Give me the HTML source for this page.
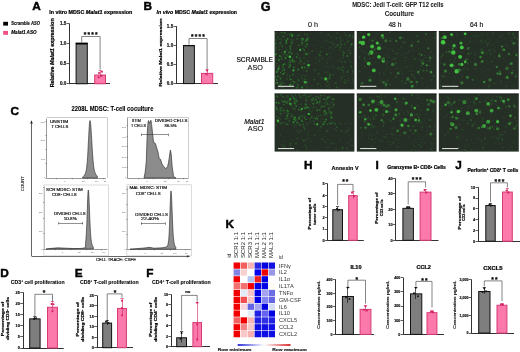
<!DOCTYPE html>
<html><head><meta charset="utf-8"><title>Figure</title>
<style>
html,body{margin:0;padding:0;background:#fff;}
body{width:520px;height:352px;overflow:hidden;}
svg{display:block;font-family:'Liberation Sans', Arial, sans-serif;}
</style></head>
<body>
<svg width="520" height="352" viewBox="0 0 520 352">
<rect width="520" height="352" fill="#fff"/>
<text x="32.20" y="10.00" font-size="11.8" stroke="#000" stroke-width="0.45" font-weight="bold">A</text>
<rect x="3.20" y="21.80" width="4.80" height="3.80" fill="#000"/>
<rect x="3.20" y="30.90" width="4.80" height="3.90" fill="#ee4d86"/>
<text x="11.30" y="25.10" font-size="4.5" stroke="#000" stroke-width="0.12" font-weight="bold" textLength="28.6" lengthAdjust="spacingAndGlyphs">Scramble <tspan font-style="italic">ASO</tspan></text>
<text x="11.30" y="34.30" font-size="4.5" stroke="#000" stroke-width="0.15" font-weight="bold" font-style="italic" textLength="25.2" lengthAdjust="spacingAndGlyphs"><tspan>Malat1</tspan> ASO</text>
<text x="49.20" y="14.30" font-size="4.9" stroke="#000" stroke-width="0.2" font-weight="bold" textLength="83" lengthAdjust="spacingAndGlyphs">In vitro MDSC <tspan font-style="italic">Malat1</tspan> expression</text>
<line x1="69.50" y1="23.45" x2="69.50" y2="84.15" stroke="#333" stroke-width="1.0"/>
<line x1="69.10" y1="83.50" x2="110.00" y2="83.50" stroke="#333" stroke-width="1.0"/>
<line x1="66.70" y1="83.50" x2="69.50" y2="83.50" stroke="#333" stroke-width="0.8"/>
<text x="66.30" y="85.41" font-size="4.6" stroke="#111" stroke-width="0.18" text-anchor="end" font-weight="bold" fill="#111">0.0</text>
<line x1="66.70" y1="63.50" x2="69.50" y2="63.50" stroke="#333" stroke-width="0.8"/>
<text x="66.30" y="65.31" font-size="4.6" stroke="#111" stroke-width="0.18" text-anchor="end" font-weight="bold" fill="#111">0.5</text>
<line x1="66.70" y1="43.50" x2="69.50" y2="43.50" stroke="#333" stroke-width="0.8"/>
<text x="66.30" y="45.21" font-size="4.6" stroke="#111" stroke-width="0.18" text-anchor="end" font-weight="bold" fill="#111">1.0</text>
<line x1="66.70" y1="23.50" x2="69.50" y2="23.50" stroke="#333" stroke-width="0.8"/>
<text x="66.30" y="25.11" font-size="4.6" stroke="#111" stroke-width="0.18" text-anchor="end" font-weight="bold" fill="#111">1.5</text>
<rect x="76.10" y="44.05" width="11.20" height="39.70" fill="#7e7e7e" stroke="#111" stroke-width="1.0"/>
<rect x="94.70" y="75.00" width="10.80" height="8.75" fill="#fb79ab" stroke="#d63b74" stroke-width="1.0"/>
<line x1="100.50" y1="70.89" x2="100.50" y2="77.72" stroke="#d63b74" stroke-width="0.7"/>
<line x1="98.50" y1="70.50" x2="101.70" y2="70.50" stroke="#d63b74" stroke-width="0.7"/>
<circle cx="99.00" cy="72.90" r="1.0" fill="#d81b60"/>
<circle cx="101.50" cy="75.71" r="1.0" fill="#d81b60"/>
<circle cx="98.50" cy="77.32" r="1.0" fill="#d81b60"/>
<circle cx="102.00" cy="71.69" r="1.0" fill="#d81b60"/>
<polyline points="81.70,42.50 81.70,36.50 100.10,36.50 100.10,69.50" fill="none" stroke="#333" stroke-width="0.6"/>
<text x="91.28" y="36.56" font-size="6.6" stroke="#000" stroke-width="0.2" text-anchor="middle" font-weight="bold" letter-spacing="1.15">****</text>
<rect x="75.60" y="42.60" width="12.20" height="1.50" fill="#000"/>
<rect x="183.00" y="45.00" width="11.90" height="1.00" fill="#000"/>
<circle cx="185.5" cy="45.6" r="0.9" fill="#000"/>
<circle cx="188.8" cy="45.6" r="0.9" fill="#000"/>
<circle cx="192.2" cy="45.6" r="0.9" fill="#000"/>
<text x="54.00" y="52.80" font-size="4.6" stroke="#000" stroke-width="0.2" text-anchor="middle" font-weight="bold" transform="rotate(-90 54.00 52.80)" textLength="69" lengthAdjust="spacingAndGlyphs">Relative <tspan font-style="italic">Malat1</tspan> expression</text>
<text x="143.40" y="10.00" font-size="11.8" stroke="#000" stroke-width="0.45" font-weight="bold">B</text>
<text x="156.60" y="13.60" font-size="4.9" stroke="#000" stroke-width="0.2" font-weight="bold" textLength="80.5" lengthAdjust="spacingAndGlyphs"><tspan font-style="italic">In vivo</tspan> MDSC <tspan font-style="italic">Malat1</tspan> expression</text>
<line x1="176.50" y1="26.15" x2="176.50" y2="84.00" stroke="#333" stroke-width="1.0"/>
<line x1="176.00" y1="83.50" x2="218.00" y2="83.50" stroke="#333" stroke-width="1.0"/>
<line x1="173.60" y1="83.50" x2="176.40" y2="83.50" stroke="#333" stroke-width="0.8"/>
<text x="173.20" y="85.26" font-size="4.6" stroke="#111" stroke-width="0.18" text-anchor="end" font-weight="bold" fill="#111">0.0</text>
<line x1="173.60" y1="64.50" x2="176.40" y2="64.50" stroke="#333" stroke-width="0.8"/>
<text x="173.20" y="66.11" font-size="4.6" stroke="#111" stroke-width="0.18" text-anchor="end" font-weight="bold" fill="#111">0.5</text>
<line x1="173.60" y1="45.50" x2="176.40" y2="45.50" stroke="#333" stroke-width="0.8"/>
<text x="173.20" y="46.96" font-size="4.6" stroke="#111" stroke-width="0.18" text-anchor="end" font-weight="bold" fill="#111">1.0</text>
<line x1="173.60" y1="26.50" x2="176.40" y2="26.50" stroke="#333" stroke-width="0.8"/>
<text x="173.20" y="27.81" font-size="4.6" stroke="#111" stroke-width="0.18" text-anchor="end" font-weight="bold" fill="#111">1.5</text>
<rect x="183.50" y="45.80" width="10.90" height="37.80" fill="#7e7e7e" stroke="#111" stroke-width="1.0"/>
<rect x="201.50" y="73.38" width="11.20" height="10.22" fill="#fb79ab" stroke="#d63b74" stroke-width="1.0"/>
<line x1="207.50" y1="69.81" x2="207.50" y2="75.94" stroke="#d63b74" stroke-width="0.7"/>
<line x1="205.50" y1="69.50" x2="208.70" y2="69.50" stroke="#d63b74" stroke-width="0.7"/>
<circle cx="207.00" cy="70.58" r="1.0" fill="#d81b60"/>
<circle cx="206.00" cy="74.02" r="1.0" fill="#d81b60"/>
<polyline points="189.00,44.50 189.00,38.50 207.10,38.50 207.10,69.00" fill="none" stroke="#333" stroke-width="0.6"/>
<text x="198.47" y="38.86" font-size="6.6" stroke="#000" stroke-width="0.2" text-anchor="middle" font-weight="bold" letter-spacing="1.15">****</text>
<text x="161.80" y="52.50" font-size="4.1" stroke="#000" stroke-width="0.2" text-anchor="middle" font-weight="bold" transform="rotate(-90 161.80 52.50)" textLength="68" lengthAdjust="spacingAndGlyphs">Relative Malat1 expression</text>
<text x="10.40" y="115.20" font-size="11.8" stroke="#000" stroke-width="0.45" font-weight="bold">C</text>
<text x="71.60" y="111.00" font-size="6.7" stroke="#000" stroke-width="0.1" font-weight="bold" textLength="81.8" lengthAdjust="spacingAndGlyphs">2208L MDSC: T-cell coculture</text>
<line x1="31.50" y1="256.00" x2="31.50" y2="123.00" stroke="#222" stroke-width="0.7"/>
<polygon points="31.5,120.2 30.2,123.6 32.8,123.6" fill="#222"/>
<text x="24.30" y="183.60" font-size="4.2" stroke="#111" stroke-width="0.1" text-anchor="middle" fill="#111" transform="rotate(-90 24.30 183.60)" textLength="14.6" lengthAdjust="spacingAndGlyphs">COUNT</text>
<line x1="31.50" y1="256.50" x2="187.50" y2="256.50" stroke="#222" stroke-width="0.7"/>
<polygon points="190.3,256.2 186.9,254.9 186.9,257.5" fill="#222"/>
<text x="96.00" y="261.40" font-size="4.2" stroke="#000" stroke-width="0.14" textLength="40" lengthAdjust="spacingAndGlyphs">CELL TRACE: CSFE</text>
<line x1="46.50" y1="118.70" x2="46.50" y2="178.00" stroke="#555" stroke-width="0.6"/>
<line x1="46.60" y1="178.50" x2="106.00" y2="178.50" stroke="#555" stroke-width="0.6"/>
<line x1="45.40" y1="178.50" x2="46.60" y2="178.50" stroke="#555" stroke-width="0.5"/>
<line x1="45.40" y1="163.50" x2="46.60" y2="163.50" stroke="#555" stroke-width="0.5"/>
<line x1="45.40" y1="149.50" x2="46.60" y2="149.50" stroke="#555" stroke-width="0.5"/>
<line x1="45.40" y1="135.50" x2="46.60" y2="135.50" stroke="#555" stroke-width="0.5"/>
<line x1="45.40" y1="121.50" x2="46.60" y2="121.50" stroke="#555" stroke-width="0.5"/>
<line x1="56.50" y1="178.00" x2="56.50" y2="179.20" stroke="#555" stroke-width="0.5"/>
<line x1="72.50" y1="178.00" x2="72.50" y2="179.20" stroke="#555" stroke-width="0.5"/>
<line x1="87.50" y1="178.00" x2="87.50" y2="179.20" stroke="#555" stroke-width="0.5"/>
<line x1="103.50" y1="178.00" x2="103.50" y2="179.20" stroke="#555" stroke-width="0.5"/>
<line x1="46.60" y1="117.50" x2="107.00" y2="117.50" stroke="#999" stroke-width="0.5"/>
<line x1="107.50" y1="117.50" x2="107.50" y2="178.00" stroke="#999" stroke-width="0.5"/>
<path d="M82.65,178.00 L82.65,177.00 L82.89,176.83 L83.14,176.63 L83.39,176.41 L83.63,176.16 L83.88,175.89 L84.12,175.58 L84.36,175.23 L84.61,174.85 L84.86,174.42 L85.10,173.92 L85.34,173.35 L85.59,172.67 L85.83,171.85 L86.08,170.84 L86.33,169.60 L86.57,168.04 L86.81,166.10 L87.06,163.72 L87.31,160.84 L87.55,157.42 L87.80,153.48 L88.04,149.08 L88.28,144.33 L88.53,139.41 L88.78,134.56 L89.02,130.05 L89.27,126.15 L89.51,123.15 L89.75,121.25 L90.00,120.60 L90.25,121.09 L90.49,122.54 L90.73,124.86 L90.98,127.92 L91.22,131.56 L91.47,135.59 L91.72,139.84 L91.96,144.11 L92.20,148.27 L92.45,152.18 L92.69,155.77 L92.94,158.97 L93.19,161.77 L93.43,164.17 L93.67,166.20 L93.92,167.89 L94.17,169.29 L94.41,170.44 L94.66,171.40 L94.90,172.19 L95.14,172.86 L95.39,173.43 L95.64,173.92 L95.88,174.36 L96.12,174.74 L96.37,175.09 L96.61,175.40 L96.86,175.69 L97.11,175.95 L97.35,176.19 L97.35,178.00 Z" fill="#8c8c8c" stroke="#222" stroke-width="0.6"/>
<text x="49.90" y="122.60" font-size="3.9" stroke="#000" stroke-width="0.14" textLength="18.4" lengthAdjust="spacingAndGlyphs">UNSTIM</text>
<text x="51.40" y="127.90" font-size="3.9" stroke="#000" stroke-width="0.14" textLength="17" lengthAdjust="spacingAndGlyphs">T CELLS</text>
<line x1="127.50" y1="117.50" x2="127.50" y2="178.00" stroke="#555" stroke-width="0.6"/>
<line x1="127.80" y1="117.50" x2="188.50" y2="117.50" stroke="#999" stroke-width="0.5"/>
<line x1="188.50" y1="117.50" x2="188.50" y2="178.00" stroke="#999" stroke-width="0.5"/>
<line x1="127.80" y1="178.50" x2="188.50" y2="178.50" stroke="#555" stroke-width="0.6"/>
<line x1="126.60" y1="178.50" x2="127.80" y2="178.50" stroke="#555" stroke-width="0.5"/>
<line x1="126.60" y1="167.50" x2="127.80" y2="167.50" stroke="#555" stroke-width="0.5"/>
<line x1="126.60" y1="157.50" x2="127.80" y2="157.50" stroke="#555" stroke-width="0.5"/>
<line x1="126.60" y1="146.50" x2="127.80" y2="146.50" stroke="#555" stroke-width="0.5"/>
<line x1="126.60" y1="136.50" x2="127.80" y2="136.50" stroke="#555" stroke-width="0.5"/>
<line x1="126.60" y1="125.50" x2="127.80" y2="125.50" stroke="#555" stroke-width="0.5"/>
<line x1="138.50" y1="178.00" x2="138.50" y2="179.20" stroke="#555" stroke-width="0.5"/>
<line x1="153.50" y1="178.00" x2="153.50" y2="179.20" stroke="#555" stroke-width="0.5"/>
<line x1="168.50" y1="178.00" x2="168.50" y2="179.20" stroke="#555" stroke-width="0.5"/>
<line x1="183.50" y1="178.00" x2="183.50" y2="179.20" stroke="#555" stroke-width="0.5"/>
<path d="M144.00,178.00 L144.00,178.00 L145.20,172.00 L146.30,161.00 L147.20,133.50 L148.00,122.50 L148.50,120.50 L149.60,123.30 L150.90,120.20 L151.60,124.50 L152.40,131.60 L153.20,139.00 L153.70,142.70 L154.60,142.80 L155.50,143.60 L156.50,147.30 L158.00,152.00 L159.20,158.40 L160.50,159.30 L162.00,164.00 L163.90,166.70 L165.70,168.60 L167.50,166.70 L168.30,163.50 L169.00,159.30 L169.80,153.50 L170.40,150.10 L171.20,153.80 L172.20,166.70 L173.50,176.00 L175.00,177.80 L176.00,178.00 L176.00,178.00 Z" fill="#8c8c8c" stroke="#222" stroke-width="0.6"/>
<line x1="141.40" y1="134.50" x2="168.20" y2="134.50" stroke="#222" stroke-width="0.5"/>
<line x1="141.50" y1="133.60" x2="141.50" y2="136.20" stroke="#222" stroke-width="0.5"/>
<line x1="168.50" y1="133.60" x2="168.50" y2="136.20" stroke="#222" stroke-width="0.5"/>
<text x="131.80" y="121.60" font-size="3.9" stroke="#000" stroke-width="0.14" textLength="9" lengthAdjust="spacingAndGlyphs">STIM</text>
<text x="131.00" y="127.40" font-size="3.9" stroke="#000" stroke-width="0.14" textLength="15" lengthAdjust="spacingAndGlyphs">T CELLS</text>
<text x="154.70" y="121.60" font-size="3.9" stroke="#000" stroke-width="0.14" textLength="32.8" lengthAdjust="spacingAndGlyphs">DIVIDED CELLS</text>
<text x="164.60" y="127.40" font-size="3.9" stroke="#000" stroke-width="0.14" textLength="12" lengthAdjust="spacingAndGlyphs">86.5%</text>
<rect x="43.90" y="185.00" width="64.60" height="70.80" fill="none" stroke="#c4c4c4" stroke-width="0.6"/>
<line x1="44.50" y1="186.50" x2="44.50" y2="249.00" stroke="#999" stroke-width="0.6"/>
<line x1="44.20" y1="249.50" x2="107.50" y2="249.50" stroke="#555" stroke-width="0.6"/>
<line x1="43.00" y1="249.50" x2="44.20" y2="249.50" stroke="#555" stroke-width="0.5"/>
<line x1="43.00" y1="233.50" x2="44.20" y2="233.50" stroke="#555" stroke-width="0.5"/>
<line x1="43.00" y1="218.50" x2="44.20" y2="218.50" stroke="#555" stroke-width="0.5"/>
<line x1="43.00" y1="202.50" x2="44.20" y2="202.50" stroke="#555" stroke-width="0.5"/>
<line x1="43.00" y1="187.50" x2="44.20" y2="187.50" stroke="#555" stroke-width="0.5"/>
<line x1="55.50" y1="249.00" x2="55.50" y2="250.20" stroke="#555" stroke-width="0.5"/>
<line x1="70.50" y1="249.00" x2="70.50" y2="250.20" stroke="#555" stroke-width="0.5"/>
<line x1="86.50" y1="249.00" x2="86.50" y2="250.20" stroke="#555" stroke-width="0.5"/>
<line x1="101.50" y1="249.00" x2="101.50" y2="250.20" stroke="#555" stroke-width="0.5"/>
<path d="M46.00,249.00 L46.00,249.00 L52.00,248.30 L58.00,247.80 L66.00,248.20 L74.00,248.60 L82.00,248.40 L85.50,247.50 L85.61,241.65 L85.78,240.36 L85.95,238.76 L86.12,236.77 L86.28,234.32 L86.45,231.36 L86.62,227.85 L86.79,223.80 L86.96,219.27 L87.12,214.39 L87.29,209.33 L87.46,204.35 L87.63,199.71 L87.80,195.71 L87.96,192.62 L88.13,190.67 L88.30,190.00 L88.47,190.51 L88.64,191.99 L88.80,194.38 L88.97,197.52 L89.14,201.27 L89.31,205.41 L89.48,209.77 L89.64,214.17 L89.81,218.44 L89.98,222.47 L90.15,226.15 L90.32,229.44 L90.48,232.32 L90.65,234.79 L90.82,236.87 L90.99,238.61 L91.16,240.04 L91.32,241.23 L91.49,242.21 L91.66,243.03 L91.83,243.72 L92.00,244.30 L92.16,244.81 L92.33,245.25 L92.50,245.65 L92.67,246.01 L92.84,246.33 L93.00,246.62 L93.17,246.89 L93.34,247.14 L93.34,249.00 Z" fill="#8c8c8c" stroke="#222" stroke-width="0.6"/>
<text x="46.00" y="191.00" font-size="3.9" stroke="#000" stroke-width="0.14" textLength="36.7" lengthAdjust="spacingAndGlyphs">SCR MDSC:  STIM</text>
<text x="51.90" y="196.20" font-size="3.9" stroke="#000" stroke-width="0.14" textLength="24.8" lengthAdjust="spacingAndGlyphs">CD8<tspan font-size="2.2" dy="-1.4">+</tspan><tspan dy="1.4"> CELLS</tspan></text>
<text x="53.90" y="214.80" font-size="3.9" stroke="#000" stroke-width="0.14" textLength="31.8" lengthAdjust="spacingAndGlyphs">DIVIDED CELLS</text>
<text x="63.80" y="220.10" font-size="3.9" stroke="#000" stroke-width="0.14" textLength="12.9" lengthAdjust="spacingAndGlyphs">10.8%</text>
<line x1="58.80" y1="223.50" x2="82.70" y2="223.50" stroke="#222" stroke-width="0.5"/>
<line x1="58.50" y1="221.90" x2="58.50" y2="224.50" stroke="#222" stroke-width="0.5"/>
<line x1="82.50" y1="221.90" x2="82.50" y2="224.50" stroke="#222" stroke-width="0.5"/>
<rect x="126.90" y="184.80" width="64.70" height="71.00" fill="none" stroke="#c4c4c4" stroke-width="0.6"/>
<line x1="127.50" y1="186.50" x2="127.50" y2="249.20" stroke="#999" stroke-width="0.6"/>
<line x1="127.30" y1="249.50" x2="191.00" y2="249.50" stroke="#555" stroke-width="0.6"/>
<line x1="126.10" y1="249.50" x2="127.30" y2="249.50" stroke="#555" stroke-width="0.5"/>
<line x1="126.10" y1="234.50" x2="127.30" y2="234.50" stroke="#555" stroke-width="0.5"/>
<line x1="126.10" y1="219.50" x2="127.30" y2="219.50" stroke="#555" stroke-width="0.5"/>
<line x1="126.10" y1="204.50" x2="127.30" y2="204.50" stroke="#555" stroke-width="0.5"/>
<line x1="126.10" y1="189.50" x2="127.30" y2="189.50" stroke="#555" stroke-width="0.5"/>
<line x1="139.50" y1="249.20" x2="139.50" y2="250.40" stroke="#555" stroke-width="0.5"/>
<line x1="154.50" y1="249.20" x2="154.50" y2="250.40" stroke="#555" stroke-width="0.5"/>
<line x1="170.50" y1="249.20" x2="170.50" y2="250.40" stroke="#555" stroke-width="0.5"/>
<line x1="185.50" y1="249.20" x2="185.50" y2="250.40" stroke="#555" stroke-width="0.5"/>
<path d="M130.00,249.20 L130.00,249.20 L136.00,248.70 L142.00,248.20 L146.00,247.80 L149.00,247.30 L151.00,247.60 L154.00,248.20 L158.00,248.00 L162.00,247.80 L165.00,247.40 L167.50,246.20 L167.62,245.56 L167.78,245.06 L167.94,244.48 L168.10,243.79 L168.26,242.95 L168.42,241.93 L168.59,240.66 L168.75,239.08 L168.91,237.12 L169.07,234.70 L169.23,231.77 L169.39,228.30 L169.55,224.30 L169.71,219.82 L169.87,215.00 L170.03,210.00 L170.19,205.08 L170.36,200.49 L170.52,196.54 L170.68,193.49 L170.84,191.56 L171.00,190.90 L171.16,191.40 L171.32,192.87 L171.48,195.23 L171.64,198.34 L171.81,202.03 L171.97,206.13 L172.13,210.44 L172.29,214.78 L172.45,219.00 L172.61,222.98 L172.77,226.62 L172.93,229.87 L173.09,232.72 L173.25,235.15 L173.41,237.21 L173.58,238.93 L173.74,240.35 L173.90,241.52 L174.06,242.49 L174.22,243.30 L174.38,243.98 L174.54,244.56 L174.70,245.06 L174.86,245.50 L175.03,245.89 L175.19,246.24 L175.35,246.56 L175.51,246.85 L175.67,247.12 L175.83,247.36 L175.83,249.20 Z" fill="#8c8c8c" stroke="#222" stroke-width="0.6"/>
<text x="129.40" y="189.20" font-size="3.9" stroke="#000" stroke-width="0.14" textLength="37.6" lengthAdjust="spacingAndGlyphs">MAL MDSC: STIM</text>
<text x="135.80" y="194.80" font-size="3.9" stroke="#000" stroke-width="0.14" textLength="24.8" lengthAdjust="spacingAndGlyphs">CD8<tspan font-size="2.2" dy="-1.4">+</tspan><tspan dy="1.4"> CELLS</tspan></text>
<text x="135.30" y="215.50" font-size="3.9" stroke="#000" stroke-width="0.14" textLength="32.5" lengthAdjust="spacingAndGlyphs">DIVIDED CELLS</text>
<text x="141.00" y="220.40" font-size="3.9" stroke="#000" stroke-width="0.14" textLength="18" lengthAdjust="spacingAndGlyphs">22.40%</text>
<line x1="141.00" y1="223.50" x2="165.00" y2="223.50" stroke="#222" stroke-width="0.5"/>
<line x1="141.50" y1="222.30" x2="141.50" y2="224.90" stroke="#222" stroke-width="0.5"/>
<line x1="165.50" y1="222.30" x2="165.50" y2="224.90" stroke="#222" stroke-width="0.5"/>
<text x="45.20" y="122.60" font-size="2.2" text-anchor="end" fill="#555">3.0K</text>
<text x="45.20" y="141.00" font-size="2.2" text-anchor="end" fill="#555">2.0K</text>
<text x="45.20" y="159.70" font-size="2.2" text-anchor="end" fill="#555">1.0K</text>
<text x="45.20" y="178.20" font-size="2.2" text-anchor="end" fill="#555">0</text>
<text x="126.30" y="127.50" font-size="2.2" text-anchor="end" fill="#555">5.0K</text>
<text x="126.30" y="137.50" font-size="2.2" text-anchor="end" fill="#555">4.0K</text>
<text x="126.30" y="147.40" font-size="2.2" text-anchor="end" fill="#555">3.0K</text>
<text x="126.30" y="157.90" font-size="2.2" text-anchor="end" fill="#555">2.0K</text>
<text x="126.30" y="168.30" font-size="2.2" text-anchor="end" fill="#555">1.0K</text>
<text x="126.30" y="177.80" font-size="2.2" text-anchor="end" fill="#555">0</text>
<text x="42.60" y="193.60" font-size="2.2" text-anchor="end" fill="#555">300</text>
<text x="125.60" y="193.60" font-size="2.2" text-anchor="end" fill="#555">300</text>
<text x="42.60" y="212.80" font-size="2.2" text-anchor="end" fill="#555">200</text>
<text x="125.60" y="212.80" font-size="2.2" text-anchor="end" fill="#555">200</text>
<text x="42.60" y="232.00" font-size="2.2" text-anchor="end" fill="#555">100</text>
<text x="125.60" y="232.00" font-size="2.2" text-anchor="end" fill="#555">100</text>
<text x="42.60" y="249.60" font-size="2.2" text-anchor="end" fill="#555">0</text>
<text x="125.60" y="249.60" font-size="2.2" text-anchor="end" fill="#555">0</text>
<text x="64.90" y="182.40" font-size="2.2" text-anchor="middle" fill="#555">0</text>
<text x="83.30" y="182.40" font-size="2.2" text-anchor="middle" fill="#555">10³</text>
<text x="96.80" y="182.40" font-size="2.2" text-anchor="middle" fill="#555">10⁴</text>
<text x="105.30" y="182.40" font-size="2.2" text-anchor="middle" fill="#555">10⁵</text>
<text x="146.90" y="182.40" font-size="2.2" text-anchor="middle" fill="#555">0</text>
<text x="165.30" y="182.40" font-size="2.2" text-anchor="middle" fill="#555">10³</text>
<text x="178.80" y="182.40" font-size="2.2" text-anchor="middle" fill="#555">10⁴</text>
<text x="187.30" y="182.40" font-size="2.2" text-anchor="middle" fill="#555">10⁵</text>
<text x="62.50" y="253.40" font-size="2.2" text-anchor="middle" fill="#555">0</text>
<text x="79.50" y="253.40" font-size="2.2" text-anchor="middle" fill="#555">10³</text>
<text x="92.50" y="253.40" font-size="2.2" text-anchor="middle" fill="#555">10⁴</text>
<text x="104.00" y="253.40" font-size="2.2" text-anchor="middle" fill="#555">10⁵</text>
<text x="145.00" y="253.60" font-size="2.2" text-anchor="middle" fill="#555">0</text>
<text x="162.00" y="253.60" font-size="2.2" text-anchor="middle" fill="#555">10³</text>
<text x="175.00" y="253.60" font-size="2.2" text-anchor="middle" fill="#555">10⁴</text>
<text x="186.50" y="253.60" font-size="2.2" text-anchor="middle" fill="#555">10⁵</text>
<text x="0.20" y="277.00" font-size="11.8" stroke="#000" stroke-width="0.45" font-weight="bold">D</text>
<text x="10.80" y="284.00" font-size="5.0" stroke="#000" stroke-width="0.06" font-weight="bold" textLength="53.8" lengthAdjust="spacingAndGlyphs">CD3<tspan font-size="3" dy="-1.8">+</tspan><tspan dy="1.8"> cell proliferation</tspan></text>
<line x1="23.50" y1="292.30" x2="23.50" y2="348.40" stroke="#333" stroke-width="1.0"/>
<line x1="22.60" y1="348.50" x2="63.80" y2="348.50" stroke="#333" stroke-width="1.0"/>
<line x1="20.20" y1="348.50" x2="23.00" y2="348.50" stroke="#333" stroke-width="0.8"/>
<text x="19.80" y="349.40" font-size="3.9" stroke="#111" stroke-width="0.18" text-anchor="end" font-weight="bold" fill="#111">0</text>
<line x1="20.20" y1="336.50" x2="23.00" y2="336.50" stroke="#333" stroke-width="0.8"/>
<text x="19.80" y="338.26" font-size="3.9" stroke="#111" stroke-width="0.18" text-anchor="end" font-weight="bold" fill="#111">5</text>
<line x1="20.20" y1="325.50" x2="23.00" y2="325.50" stroke="#333" stroke-width="0.8"/>
<text x="19.80" y="327.12" font-size="3.9" stroke="#111" stroke-width="0.18" text-anchor="end" font-weight="bold" fill="#111">10</text>
<line x1="20.20" y1="314.50" x2="23.00" y2="314.50" stroke="#333" stroke-width="0.8"/>
<text x="19.80" y="315.98" font-size="3.9" stroke="#111" stroke-width="0.18" text-anchor="end" font-weight="bold" fill="#111">15</text>
<line x1="20.20" y1="303.50" x2="23.00" y2="303.50" stroke="#333" stroke-width="0.8"/>
<text x="19.80" y="304.84" font-size="3.9" stroke="#111" stroke-width="0.18" text-anchor="end" font-weight="bold" fill="#111">20</text>
<line x1="20.20" y1="292.50" x2="23.00" y2="292.50" stroke="#333" stroke-width="0.8"/>
<text x="19.80" y="293.70" font-size="3.9" stroke="#111" stroke-width="0.18" text-anchor="end" font-weight="bold" fill="#111">25</text>
<rect x="29.70" y="318.87" width="10.40" height="29.13" fill="#7e7e7e" stroke="#111" stroke-width="1.0"/>
<rect x="47.50" y="307.28" width="9.90" height="40.72" fill="#fb79ab" stroke="#d63b74" stroke-width="1.0"/>
<line x1="34.50" y1="316.59" x2="34.50" y2="319.93" stroke="#111" stroke-width="0.7"/>
<line x1="33.30" y1="316.50" x2="36.50" y2="316.50" stroke="#111" stroke-width="0.7"/>
<line x1="52.50" y1="301.66" x2="52.50" y2="312.13" stroke="#d63b74" stroke-width="0.7"/>
<line x1="50.90" y1="301.50" x2="54.10" y2="301.50" stroke="#d63b74" stroke-width="0.7"/>
<circle cx="34.00" cy="318.81" r="1.0" fill="#111"/>
<circle cx="36.00" cy="318.14" r="1.0" fill="#111"/>
<circle cx="51.50" cy="303.89" r="1.0" fill="#d81b60"/>
<circle cx="53.50" cy="304.33" r="1.0" fill="#d81b60"/>
<circle cx="52.50" cy="311.24" r="1.0" fill="#d81b60"/>
<polyline points="34.90,316.00 34.90,294.30 52.50,294.30 52.50,301.50" fill="none" stroke="#333" stroke-width="0.6"/>
<text x="44.58" y="294.86" font-size="6.6" stroke="#000" stroke-width="0.2" text-anchor="middle" font-weight="bold" letter-spacing="1.15">*</text>
<text x="4.10" y="319.00" font-size="4.0" stroke="#000" stroke-width="0.2" text-anchor="middle" font-weight="bold" transform="rotate(-90 4.10 319.00)" textLength="34.3" lengthAdjust="spacingAndGlyphs">Percentage of</text>
<text x="9.30" y="318.60" font-size="4.0" stroke="#000" stroke-width="0.2" text-anchor="middle" font-weight="bold" transform="rotate(-90 9.30 318.60)" textLength="42.8" lengthAdjust="spacingAndGlyphs">dividing CD3<tspan font-size="2.5" dy="-1.5">+</tspan><tspan dy="1.5"> cells</tspan></text>
<text x="74.80" y="276.80" font-size="11.8" stroke="#000" stroke-width="0.45" font-weight="bold">E</text>
<text x="80.00" y="284.00" font-size="5.0" stroke="#000" stroke-width="0.06" font-weight="bold" textLength="58.6" lengthAdjust="spacingAndGlyphs">CD8<tspan font-size="3" dy="-1.8">+</tspan><tspan dy="1.8"> T-cell proliferation</tspan></text>
<line x1="97.50" y1="295.40" x2="97.50" y2="348.10" stroke="#333" stroke-width="1.0"/>
<line x1="96.60" y1="347.50" x2="133.00" y2="347.50" stroke="#333" stroke-width="1.0"/>
<line x1="94.20" y1="347.50" x2="97.00" y2="347.50" stroke="#333" stroke-width="0.8"/>
<text x="93.80" y="349.10" font-size="3.9" stroke="#111" stroke-width="0.18" text-anchor="end" font-weight="bold" fill="#111">0</text>
<line x1="94.20" y1="337.50" x2="97.00" y2="337.50" stroke="#333" stroke-width="0.8"/>
<text x="93.80" y="338.64" font-size="3.9" stroke="#111" stroke-width="0.18" text-anchor="end" font-weight="bold" fill="#111">5</text>
<line x1="94.20" y1="326.50" x2="97.00" y2="326.50" stroke="#333" stroke-width="0.8"/>
<text x="93.80" y="328.18" font-size="3.9" stroke="#111" stroke-width="0.18" text-anchor="end" font-weight="bold" fill="#111">10</text>
<line x1="94.20" y1="316.50" x2="97.00" y2="316.50" stroke="#333" stroke-width="0.8"/>
<text x="93.80" y="317.72" font-size="3.9" stroke="#111" stroke-width="0.18" text-anchor="end" font-weight="bold" fill="#111">15</text>
<line x1="94.20" y1="305.50" x2="97.00" y2="305.50" stroke="#333" stroke-width="0.8"/>
<text x="93.80" y="307.26" font-size="3.9" stroke="#111" stroke-width="0.18" text-anchor="end" font-weight="bold" fill="#111">20</text>
<line x1="94.20" y1="295.50" x2="97.00" y2="295.50" stroke="#333" stroke-width="0.8"/>
<text x="93.80" y="296.80" font-size="3.9" stroke="#111" stroke-width="0.18" text-anchor="end" font-weight="bold" fill="#111">25</text>
<rect x="102.70" y="323.10" width="8.90" height="24.60" fill="#7e7e7e" stroke="#111" stroke-width="1.0"/>
<rect x="117.50" y="308.45" width="8.90" height="39.25" fill="#fb79ab" stroke="#d63b74" stroke-width="1.0"/>
<line x1="107.50" y1="320.09" x2="107.50" y2="325.11" stroke="#111" stroke-width="0.7"/>
<line x1="105.60" y1="320.50" x2="108.80" y2="320.50" stroke="#111" stroke-width="0.7"/>
<line x1="122.50" y1="298.54" x2="122.50" y2="316.11" stroke="#d63b74" stroke-width="0.7"/>
<line x1="120.40" y1="298.50" x2="123.60" y2="298.50" stroke="#d63b74" stroke-width="0.7"/>
<circle cx="106.00" cy="321.76" r="1.0" fill="#111"/>
<circle cx="108.50" cy="323.01" r="1.0" fill="#111"/>
<circle cx="122.00" cy="300.63" r="1.0" fill="#d81b60"/>
<circle cx="122.00" cy="307.95" r="1.0" fill="#d81b60"/>
<circle cx="122.00" cy="315.27" r="1.0" fill="#d81b60"/>
<polyline points="107.20,320.50 107.20,293.90 122.00,293.90 122.00,297.50" fill="none" stroke="#333" stroke-width="0.6"/>
<text x="115.58" y="294.66" font-size="6.6" stroke="#000" stroke-width="0.2" text-anchor="middle" font-weight="bold" letter-spacing="1.15">*</text>
<text x="79.40" y="319.30" font-size="4.0" stroke="#000" stroke-width="0.2" text-anchor="middle" font-weight="bold" transform="rotate(-90 79.40 319.30)" textLength="34.3" lengthAdjust="spacingAndGlyphs">Percentage of</text>
<text x="84.10" y="319.30" font-size="4.0" stroke="#000" stroke-width="0.2" text-anchor="middle" font-weight="bold" transform="rotate(-90 84.10 319.30)" textLength="44.7" lengthAdjust="spacingAndGlyphs">dividing CD8<tspan font-size="2.5" dy="-1.5">+</tspan><tspan dy="1.5"> cells</tspan></text>
<text x="146.20" y="276.80" font-size="11.8" stroke="#000" stroke-width="0.45" font-weight="bold">F</text>
<text x="152.10" y="283.80" font-size="5.0" stroke="#000" stroke-width="0.06" font-weight="bold" textLength="58.6" lengthAdjust="spacingAndGlyphs">CD4<tspan font-size="3" dy="-1.8">+</tspan><tspan dy="1.8"> T-cell proliferation</tspan></text>
<line x1="171.50" y1="294.30" x2="171.50" y2="347.10" stroke="#333" stroke-width="1.0"/>
<line x1="170.70" y1="346.50" x2="210.00" y2="346.50" stroke="#333" stroke-width="1.0"/>
<line x1="168.30" y1="346.50" x2="171.10" y2="346.50" stroke="#333" stroke-width="0.8"/>
<text x="167.90" y="348.00" font-size="3.6" stroke="#111" stroke-width="0.18" text-anchor="end" font-weight="bold" fill="#111">0</text>
<line x1="168.30" y1="336.50" x2="171.10" y2="336.50" stroke="#333" stroke-width="0.8"/>
<text x="167.90" y="337.52" font-size="3.6" stroke="#111" stroke-width="0.18" text-anchor="end" font-weight="bold" fill="#111">2</text>
<line x1="168.30" y1="325.50" x2="171.10" y2="325.50" stroke="#333" stroke-width="0.8"/>
<text x="167.90" y="327.04" font-size="3.6" stroke="#111" stroke-width="0.18" text-anchor="end" font-weight="bold" fill="#111">4</text>
<line x1="168.30" y1="315.50" x2="171.10" y2="315.50" stroke="#333" stroke-width="0.8"/>
<text x="167.90" y="316.56" font-size="3.6" stroke="#111" stroke-width="0.18" text-anchor="end" font-weight="bold" fill="#111">6</text>
<line x1="168.30" y1="304.50" x2="171.10" y2="304.50" stroke="#333" stroke-width="0.8"/>
<text x="167.90" y="306.08" font-size="3.6" stroke="#111" stroke-width="0.18" text-anchor="end" font-weight="bold" fill="#111">8</text>
<line x1="168.30" y1="294.50" x2="171.10" y2="294.50" stroke="#333" stroke-width="0.8"/>
<text x="167.90" y="295.60" font-size="3.6" stroke="#111" stroke-width="0.18" text-anchor="end" font-weight="bold" fill="#111">10</text>
<rect x="176.70" y="337.77" width="9.80" height="8.93" fill="#7e7e7e" stroke="#111" stroke-width="1.0"/>
<rect x="192.90" y="322.57" width="8.60" height="24.13" fill="#fb79ab" stroke="#d63b74" stroke-width="1.0"/>
<line x1="181.50" y1="331.77" x2="181.50" y2="342.51" stroke="#111" stroke-width="0.7"/>
<line x1="180.00" y1="331.50" x2="183.20" y2="331.50" stroke="#111" stroke-width="0.7"/>
<line x1="197.50" y1="302.68" x2="197.50" y2="341.46" stroke="#d63b74" stroke-width="0.7"/>
<line x1="195.60" y1="302.50" x2="198.80" y2="302.50" stroke="#d63b74" stroke-width="0.7"/>
<circle cx="181.60" cy="333.08" r="1.0" fill="#111"/>
<circle cx="180.50" cy="338.84" r="1.0" fill="#111"/>
<circle cx="197.20" cy="302.68" r="1.0" fill="#d81b60"/>
<circle cx="197.20" cy="324.17" r="1.0" fill="#d81b60"/>
<circle cx="197.20" cy="339.36" r="1.0" fill="#d81b60"/>
<polyline points="181.60,330.50 181.60,295.40 197.20,295.40 197.20,301.50" fill="none" stroke="#333" stroke-width="0.6"/>
<text x="187.80" y="292.60" font-size="4.2" stroke="#000" stroke-width="0.2" text-anchor="middle" font-weight="bold">ns</text>
<text x="152.40" y="319.70" font-size="4.0" stroke="#000" stroke-width="0.2" text-anchor="middle" font-weight="bold" transform="rotate(-90 152.40 319.70)" textLength="34.3" lengthAdjust="spacingAndGlyphs">Percentage of</text>
<text x="156.80" y="319.30" font-size="4.0" stroke="#000" stroke-width="0.2" text-anchor="middle" font-weight="bold" transform="rotate(-90 156.80 319.30)" textLength="44.7" lengthAdjust="spacingAndGlyphs">dividing CD4<tspan font-size="2.5" dy="-1.5">+</tspan><tspan dy="1.5"> cells</tspan></text>
<text x="260.80" y="11.30" font-size="12.6" stroke="#000" stroke-width="0.45" font-weight="bold">G</text>
<text x="397.90" y="7.00" font-size="6.4" stroke="#1a1a1a" stroke-width="0.05" text-anchor="middle" font-weight="bold" fill="#1a1a1a" textLength="91.5" lengthAdjust="spacingAndGlyphs">MDSC: Jedi T-cell: GFP T12 cells</text>
<text x="399.40" y="16.20" font-size="6.8" stroke="#1a1a1a" stroke-width="0.05" text-anchor="middle" font-weight="bold" fill="#1a1a1a" textLength="29.5" lengthAdjust="spacingAndGlyphs">Coculture</text>
<text x="313.00" y="26.60" font-size="7.3" stroke="#111" stroke-width="0.1" text-anchor="middle" fill="#111">0 h</text>
<text x="394.90" y="26.60" font-size="7.3" stroke="#000" stroke-width="0.14" text-anchor="middle" textLength="13" lengthAdjust="spacingAndGlyphs">48 h</text>
<text x="476.60" y="26.60" font-size="7.3" stroke="#000" stroke-width="0.14" text-anchor="middle" textLength="13" lengthAdjust="spacingAndGlyphs">64 h</text>
<text x="236.40" y="62.30" font-size="7.3" stroke="#000" stroke-width="0.14" textLength="36.6" lengthAdjust="spacingAndGlyphs">SCRAMBLE</text>
<text x="255.30" y="70.00" font-size="7.3" stroke="#111" stroke-width="0.1" text-anchor="middle" fill="#111">ASO</text>
<text x="244.20" y="123.80" font-size="7.3" stroke="#000" stroke-width="0.14" font-style="italic" textLength="20.3" lengthAdjust="spacingAndGlyphs">Malat1</text>
<text x="255.50" y="130.90" font-size="7.3" stroke="#111" stroke-width="0.1" text-anchor="middle" fill="#111">ASO</text>
<defs><filter id="bl" x="-50%" y="-50%" width="200%" height="200%"><feGaussianBlur stdDeviation="0.65"/></filter><filter id="bl2" x="-50%" y="-50%" width="200%" height="200%"><feGaussianBlur stdDeviation="0.7"/></filter></defs>
<rect x="274.60" y="31.20" width="79.80" height="58.20" fill="#252f25"/>
<rect x="274.60" y="31.20" width="79.80" height="0.8" fill="#161816"/>
<g filter="url(#bl)">
<circle cx="286.2" cy="40.7" r="0.5" fill="rgb(45,123,45)" opacity="0.71"/>
<circle cx="287.5" cy="35.5" r="0.5" fill="rgb(45,106,45)" opacity="0.67"/>
<circle cx="277.9" cy="37.3" r="1.0" fill="rgb(45,97,45)" opacity="0.55"/>
<circle cx="282.9" cy="67.5" r="0.8" fill="rgb(45,161,45)" opacity="0.66"/>
<circle cx="307.5" cy="34.8" r="0.7" fill="rgb(45,149,45)" opacity="0.56"/>
<circle cx="279.4" cy="49.5" r="0.6" fill="rgb(45,144,45)" opacity="0.73"/>
<circle cx="296.5" cy="53.1" r="0.5" fill="rgb(45,111,45)" opacity="0.52"/>
<circle cx="282.3" cy="70.4" r="0.7" fill="rgb(45,97,45)" opacity="0.73"/>
<circle cx="290.4" cy="49.0" r="0.9" fill="rgb(45,141,45)" opacity="0.60"/>
<circle cx="294.4" cy="61.7" r="0.9" fill="rgb(45,151,45)" opacity="0.62"/>
<circle cx="307.6" cy="38.8" r="1.0" fill="rgb(45,96,45)" opacity="0.56"/>
<circle cx="291.6" cy="34.4" r="1.0" fill="rgb(45,125,45)" opacity="0.73"/>
<circle cx="304.2" cy="49.8" r="0.9" fill="rgb(45,129,45)" opacity="0.73"/>
<circle cx="290.5" cy="79.4" r="0.8" fill="rgb(45,160,45)" opacity="0.77"/>
<circle cx="277.6" cy="71.6" r="1.1" fill="rgb(45,123,45)" opacity="0.83"/>
<circle cx="284.9" cy="53.9" r="0.5" fill="rgb(45,125,45)" opacity="0.68"/>
<circle cx="281.1" cy="38.8" r="1.0" fill="rgb(45,61,45)" opacity="0.55"/>
<circle cx="283.7" cy="54.2" r="0.5" fill="rgb(45,151,45)" opacity="0.68"/>
<circle cx="293.6" cy="81.8" r="1.0" fill="rgb(45,144,45)" opacity="0.61"/>
<circle cx="289.2" cy="52.4" r="1.1" fill="rgb(45,152,45)" opacity="0.56"/>
<circle cx="281.4" cy="45.2" r="0.8" fill="rgb(45,77,45)" opacity="0.74"/>
<circle cx="284.2" cy="32.4" r="0.7" fill="rgb(45,96,45)" opacity="0.73"/>
<circle cx="306.7" cy="71.0" r="0.9" fill="rgb(45,107,45)" opacity="0.77"/>
<circle cx="277.4" cy="82.8" r="1.0" fill="rgb(45,139,45)" opacity="0.82"/>
<circle cx="288.4" cy="54.6" r="0.9" fill="rgb(45,65,45)" opacity="0.52"/>
<circle cx="277.8" cy="43.9" r="0.7" fill="rgb(45,70,45)" opacity="0.52"/>
<circle cx="275.6" cy="40.7" r="0.7" fill="rgb(45,65,45)" opacity="0.51"/>
<circle cx="304.2" cy="66.7" r="0.7" fill="rgb(45,69,45)" opacity="0.64"/>
<circle cx="287.5" cy="39.1" r="1.1" fill="rgb(45,148,45)" opacity="0.69"/>
<circle cx="291.4" cy="37.0" r="0.7" fill="rgb(45,65,45)" opacity="0.61"/>
<circle cx="302.7" cy="41.3" r="1.1" fill="rgb(45,59,45)" opacity="0.71"/>
<circle cx="280.4" cy="62.7" r="0.8" fill="rgb(45,59,45)" opacity="0.89"/>
<circle cx="303.8" cy="71.3" r="0.7" fill="rgb(45,79,45)" opacity="0.57"/>
<circle cx="300.8" cy="62.1" r="0.7" fill="rgb(45,139,45)" opacity="0.59"/>
<circle cx="302.1" cy="87.6" r="1.0" fill="rgb(45,148,45)" opacity="0.83"/>
<circle cx="299.8" cy="44.9" r="0.7" fill="rgb(45,107,45)" opacity="0.51"/>
<circle cx="276.5" cy="47.9" r="0.9" fill="rgb(45,79,45)" opacity="0.88"/>
<circle cx="290.2" cy="84.9" r="1.1" fill="rgb(45,166,45)" opacity="0.65"/>
<circle cx="282.8" cy="44.9" r="0.6" fill="rgb(45,73,45)" opacity="0.75"/>
<circle cx="305.0" cy="79.4" r="0.9" fill="rgb(45,103,45)" opacity="0.82"/>
<circle cx="278.4" cy="69.3" r="1.0" fill="rgb(45,156,45)" opacity="0.80"/>
<circle cx="291.2" cy="42.2" r="0.7" fill="rgb(45,140,45)" opacity="0.82"/>
<circle cx="307.3" cy="54.4" r="1.1" fill="rgb(45,94,45)" opacity="0.79"/>
<circle cx="281.2" cy="39.3" r="1.0" fill="rgb(45,69,45)" opacity="0.82"/>
<circle cx="280.4" cy="78.6" r="0.9" fill="rgb(45,165,45)" opacity="0.64"/>
<circle cx="293.5" cy="39.6" r="1.1" fill="rgb(45,58,45)" opacity="0.76"/>
<circle cx="292.8" cy="84.7" r="1.0" fill="rgb(45,98,45)" opacity="0.83"/>
<circle cx="282.5" cy="46.4" r="0.6" fill="rgb(45,83,45)" opacity="0.73"/>
<circle cx="284.1" cy="55.7" r="1.0" fill="rgb(45,67,45)" opacity="0.64"/>
<circle cx="290.6" cy="65.0" r="0.8" fill="rgb(45,155,45)" opacity="0.87"/>
<circle cx="292.0" cy="62.1" r="0.5" fill="rgb(45,108,45)" opacity="0.68"/>
<circle cx="281.6" cy="32.4" r="0.6" fill="rgb(45,142,45)" opacity="0.69"/>
<circle cx="299.3" cy="63.5" r="0.8" fill="rgb(45,86,45)" opacity="0.72"/>
<circle cx="301.2" cy="38.2" r="0.6" fill="rgb(45,112,45)" opacity="0.61"/>
<circle cx="300.8" cy="60.7" r="1.0" fill="rgb(45,113,45)" opacity="0.86"/>
<circle cx="290.1" cy="66.6" r="0.8" fill="rgb(45,106,45)" opacity="0.78"/>
<circle cx="290.4" cy="62.2" r="1.1" fill="rgb(45,103,45)" opacity="0.78"/>
<circle cx="304.2" cy="85.2" r="0.8" fill="rgb(45,79,45)" opacity="0.88"/>
<circle cx="303.0" cy="39.9" r="0.8" fill="rgb(45,66,45)" opacity="0.53"/>
<circle cx="283.5" cy="36.3" r="1.0" fill="rgb(45,125,45)" opacity="0.86"/>
<circle cx="280.6" cy="72.4" r="0.6" fill="rgb(45,124,45)" opacity="0.85"/>
<circle cx="307.2" cy="44.5" r="0.7" fill="rgb(45,161,45)" opacity="0.69"/>
<circle cx="307.9" cy="79.0" r="0.8" fill="rgb(45,70,45)" opacity="0.71"/>
<circle cx="286.7" cy="43.2" r="0.9" fill="rgb(45,85,45)" opacity="0.51"/>
<circle cx="293.7" cy="57.0" r="0.7" fill="rgb(45,58,45)" opacity="0.75"/>
<circle cx="292.3" cy="35.8" r="1.0" fill="rgb(45,166,45)" opacity="0.89"/>
<circle cx="279.0" cy="47.1" r="1.0" fill="rgb(45,60,45)" opacity="0.61"/>
<circle cx="279.8" cy="55.9" r="1.0" fill="rgb(45,156,45)" opacity="0.60"/>
<circle cx="280.5" cy="83.9" r="0.9" fill="rgb(45,114,45)" opacity="0.54"/>
<circle cx="277.5" cy="70.9" r="0.5" fill="rgb(45,97,45)" opacity="0.88"/>
<circle cx="296.3" cy="77.3" r="1.0" fill="rgb(45,63,45)" opacity="0.53"/>
<circle cx="303.8" cy="57.7" r="0.8" fill="rgb(45,88,45)" opacity="0.87"/>
<circle cx="284.4" cy="39.5" r="0.6" fill="rgb(45,108,45)" opacity="0.54"/>
<circle cx="280.9" cy="35.0" r="0.7" fill="rgb(45,74,45)" opacity="0.62"/>
<circle cx="300.4" cy="48.5" r="0.6" fill="rgb(45,105,45)" opacity="0.64"/>
<circle cx="276.2" cy="46.3" r="0.9" fill="rgb(45,58,45)" opacity="0.72"/>
<circle cx="281.8" cy="58.9" r="0.6" fill="rgb(45,159,45)" opacity="0.83"/>
<circle cx="289.7" cy="60.0" r="0.7" fill="rgb(45,146,45)" opacity="0.70"/>
<circle cx="298.1" cy="87.4" r="1.0" fill="rgb(45,88,45)" opacity="0.78"/>
<circle cx="296.4" cy="54.9" r="0.5" fill="rgb(45,88,45)" opacity="0.55"/>
<circle cx="277.9" cy="73.8" r="0.6" fill="rgb(45,79,45)" opacity="0.53"/>
<circle cx="303.1" cy="81.1" r="0.7" fill="rgb(45,126,45)" opacity="0.60"/>
<circle cx="285.2" cy="58.0" r="0.8" fill="rgb(45,69,45)" opacity="0.61"/>
<circle cx="307.0" cy="86.9" r="0.6" fill="rgb(45,111,45)" opacity="0.89"/>
<circle cx="285.7" cy="52.2" r="0.7" fill="rgb(45,58,45)" opacity="0.69"/>
<circle cx="292.0" cy="43.5" r="0.5" fill="rgb(45,106,45)" opacity="0.61"/>
<circle cx="278.5" cy="54.7" r="0.5" fill="rgb(45,60,45)" opacity="0.62"/>
<circle cx="283.2" cy="65.1" r="1.0" fill="rgb(45,109,45)" opacity="0.76"/>
<circle cx="299.0" cy="81.6" r="0.7" fill="rgb(45,93,45)" opacity="0.89"/>
<circle cx="280.5" cy="72.9" r="0.5" fill="rgb(45,122,45)" opacity="0.83"/>
<circle cx="304.7" cy="67.5" r="1.0" fill="rgb(45,133,45)" opacity="0.56"/>
<circle cx="292.7" cy="60.5" r="1.0" fill="rgb(45,146,45)" opacity="0.83"/>
<circle cx="294.7" cy="82.4" r="0.9" fill="rgb(45,127,45)" opacity="0.59"/>
<circle cx="276.6" cy="39.7" r="0.6" fill="rgb(45,90,45)" opacity="0.83"/>
<circle cx="293.9" cy="67.5" r="0.9" fill="rgb(45,120,45)" opacity="0.70"/>
<circle cx="275.7" cy="77.0" r="0.8" fill="rgb(45,135,45)" opacity="0.71"/>
<circle cx="297.1" cy="35.9" r="0.7" fill="rgb(45,134,45)" opacity="0.53"/>
<circle cx="284.3" cy="73.2" r="0.9" fill="rgb(45,74,45)" opacity="0.89"/>
<circle cx="291.7" cy="53.7" r="0.9" fill="rgb(45,103,45)" opacity="0.81"/>
<circle cx="295.8" cy="68.3" r="0.6" fill="rgb(45,63,45)" opacity="0.60"/>
<circle cx="299.9" cy="49.3" r="0.5" fill="rgb(45,113,45)" opacity="0.52"/>
<circle cx="284.4" cy="70.0" r="0.9" fill="rgb(45,128,45)" opacity="0.62"/>
<circle cx="292.5" cy="58.3" r="0.6" fill="rgb(45,102,45)" opacity="0.86"/>
<circle cx="282.1" cy="87.2" r="0.5" fill="rgb(45,159,45)" opacity="0.68"/>
<circle cx="302.4" cy="86.6" r="0.7" fill="rgb(45,100,45)" opacity="0.58"/>
<circle cx="306.5" cy="44.0" r="0.6" fill="rgb(45,115,45)" opacity="0.71"/>
<circle cx="306.7" cy="39.7" r="0.8" fill="rgb(45,144,45)" opacity="0.85"/>
<circle cx="298.6" cy="45.2" r="0.8" fill="rgb(45,154,45)" opacity="0.51"/>
<circle cx="275.7" cy="59.8" r="0.7" fill="rgb(45,100,45)" opacity="0.56"/>
<circle cx="286.8" cy="50.0" r="0.5" fill="rgb(45,147,45)" opacity="0.80"/>
<circle cx="303.0" cy="38.9" r="0.9" fill="rgb(45,158,45)" opacity="0.86"/>
<circle cx="285.1" cy="53.1" r="1.1" fill="rgb(45,93,45)" opacity="0.74"/>
<circle cx="287.4" cy="56.3" r="0.5" fill="rgb(45,81,45)" opacity="0.54"/>
<circle cx="302.9" cy="48.3" r="0.6" fill="rgb(45,159,45)" opacity="0.61"/>
<circle cx="292.3" cy="42.9" r="1.1" fill="rgb(45,91,45)" opacity="0.85"/>
<circle cx="302.1" cy="67.7" r="1.1" fill="rgb(45,156,45)" opacity="0.72"/>
<circle cx="299.1" cy="35.0" r="0.8" fill="rgb(45,133,45)" opacity="0.80"/>
<circle cx="296.7" cy="48.3" r="1.1" fill="rgb(45,60,45)" opacity="0.55"/>
<circle cx="291.0" cy="51.5" r="0.9" fill="rgb(45,83,45)" opacity="0.89"/>
<circle cx="284.1" cy="69.1" r="0.8" fill="rgb(45,84,45)" opacity="0.66"/>
<circle cx="281.1" cy="41.3" r="1.0" fill="rgb(45,74,45)" opacity="0.70"/>
<circle cx="282.8" cy="83.1" r="0.8" fill="rgb(45,167,45)" opacity="0.56"/>
<circle cx="281.9" cy="37.3" r="0.6" fill="rgb(45,88,45)" opacity="0.60"/>
<circle cx="284.0" cy="64.2" r="0.9" fill="rgb(45,153,45)" opacity="0.67"/>
<circle cx="289.1" cy="61.7" r="0.7" fill="rgb(45,92,45)" opacity="0.52"/>
<circle cx="284.7" cy="86.6" r="0.8" fill="rgb(45,67,45)" opacity="0.75"/>
<circle cx="303.8" cy="44.3" r="0.6" fill="rgb(45,80,45)" opacity="0.66"/>
<circle cx="290.2" cy="85.8" r="1.0" fill="rgb(45,148,45)" opacity="0.51"/>
<circle cx="276.7" cy="72.1" r="0.8" fill="rgb(45,154,45)" opacity="0.73"/>
<circle cx="275.6" cy="54.2" r="1.0" fill="rgb(45,158,45)" opacity="0.84"/>
<circle cx="307.4" cy="46.2" r="0.6" fill="rgb(45,65,45)" opacity="0.71"/>
<circle cx="297.9" cy="85.1" r="0.9" fill="rgb(45,132,45)" opacity="0.81"/>
<circle cx="290.5" cy="63.2" r="1.0" fill="rgb(45,60,45)" opacity="0.59"/>
<circle cx="305.7" cy="68.5" r="0.6" fill="rgb(45,84,45)" opacity="0.60"/>
<circle cx="296.4" cy="71.5" r="0.5" fill="rgb(45,65,45)" opacity="0.71"/>
<circle cx="294.6" cy="54.0" r="0.9" fill="rgb(45,76,45)" opacity="0.50"/>
<circle cx="285.5" cy="58.1" r="0.9" fill="rgb(45,162,45)" opacity="0.85"/>
<circle cx="291.1" cy="45.4" r="1.1" fill="rgb(45,78,45)" opacity="0.78"/>
<circle cx="285.6" cy="33.4" r="0.9" fill="rgb(45,105,45)" opacity="0.67"/>
<circle cx="284.0" cy="69.7" r="0.6" fill="rgb(45,158,45)" opacity="0.51"/>
<circle cx="286.6" cy="55.8" r="0.6" fill="rgb(45,127,45)" opacity="0.82"/>
<circle cx="299.8" cy="60.6" r="1.1" fill="rgb(45,74,45)" opacity="0.62"/>
<circle cx="302.4" cy="45.2" r="1.0" fill="rgb(45,76,45)" opacity="0.62"/>
<circle cx="306.7" cy="60.1" r="0.6" fill="rgb(45,72,45)" opacity="0.67"/>
<circle cx="297.3" cy="85.5" r="0.7" fill="rgb(45,68,45)" opacity="0.59"/>
<circle cx="307.4" cy="40.2" r="0.5" fill="rgb(45,61,45)" opacity="0.66"/>
<circle cx="304.9" cy="81.9" r="1.1" fill="rgb(45,133,45)" opacity="0.87"/>
<circle cx="286.4" cy="42.6" r="0.9" fill="rgb(45,159,45)" opacity="0.51"/>
<circle cx="297.3" cy="53.5" r="0.7" fill="rgb(45,91,45)" opacity="0.57"/>
<circle cx="275.7" cy="47.9" r="1.1" fill="rgb(45,89,45)" opacity="0.55"/>
<circle cx="307.1" cy="43.9" r="1.0" fill="rgb(45,89,45)" opacity="0.83"/>
<circle cx="289.7" cy="35.0" r="0.7" fill="rgb(45,102,45)" opacity="0.87"/>
<circle cx="281.9" cy="52.7" r="0.5" fill="rgb(45,154,45)" opacity="0.66"/>
<circle cx="302.1" cy="75.3" r="0.5" fill="rgb(45,60,45)" opacity="0.53"/>
<circle cx="305.7" cy="46.6" r="1.0" fill="rgb(45,135,45)" opacity="0.64"/>
<circle cx="284.5" cy="86.0" r="0.7" fill="rgb(45,119,45)" opacity="0.79"/>
<circle cx="285.9" cy="47.7" r="1.0" fill="rgb(45,58,45)" opacity="0.87"/>
<circle cx="296.3" cy="85.2" r="0.6" fill="rgb(45,59,45)" opacity="0.69"/>
<circle cx="306.9" cy="85.8" r="0.7" fill="rgb(45,93,45)" opacity="0.67"/>
<circle cx="291.7" cy="84.4" r="1.0" fill="rgb(45,72,45)" opacity="0.80"/>
<circle cx="302.5" cy="75.6" r="0.7" fill="rgb(45,118,45)" opacity="0.63"/>
<circle cx="287.4" cy="76.2" r="0.6" fill="rgb(45,63,45)" opacity="0.80"/>
<circle cx="283.7" cy="35.8" r="0.8" fill="rgb(45,59,45)" opacity="0.63"/>
<circle cx="307.6" cy="81.9" r="0.7" fill="rgb(45,166,45)" opacity="0.53"/>
<circle cx="278.8" cy="60.2" r="0.8" fill="rgb(45,130,45)" opacity="0.59"/>
<circle cx="289.2" cy="67.1" r="0.9" fill="rgb(45,126,45)" opacity="0.84"/>
<circle cx="297.3" cy="39.0" r="0.7" fill="rgb(45,147,45)" opacity="0.73"/>
<circle cx="287.8" cy="73.7" r="0.6" fill="rgb(45,73,45)" opacity="0.60"/>
<circle cx="280.6" cy="81.9" r="0.7" fill="rgb(45,115,45)" opacity="0.66"/>
<circle cx="308.0" cy="60.7" r="1.0" fill="rgb(45,76,45)" opacity="0.76"/>
<circle cx="308.0" cy="38.0" r="1.0" fill="rgb(45,102,45)" opacity="0.84"/>
<circle cx="305.5" cy="34.5" r="0.6" fill="rgb(45,83,45)" opacity="0.58"/>
<circle cx="307.4" cy="65.0" r="0.7" fill="rgb(45,158,45)" opacity="0.85"/>
<circle cx="290.3" cy="46.8" r="1.1" fill="rgb(45,139,45)" opacity="0.54"/>
<circle cx="295.1" cy="67.0" r="0.7" fill="rgb(45,75,45)" opacity="0.56"/>
<circle cx="282.3" cy="46.5" r="0.9" fill="rgb(45,117,45)" opacity="0.58"/>
<circle cx="276.0" cy="50.6" r="0.6" fill="rgb(45,127,45)" opacity="0.62"/>
<circle cx="282.2" cy="76.9" r="0.5" fill="rgb(45,111,45)" opacity="0.54"/>
<circle cx="288.5" cy="63.1" r="0.6" fill="rgb(45,122,45)" opacity="0.57"/>
<circle cx="298.3" cy="55.2" r="0.7" fill="rgb(45,82,45)" opacity="0.88"/>
<circle cx="285.8" cy="64.0" r="0.7" fill="rgb(45,89,45)" opacity="0.85"/>
<circle cx="308.2" cy="52.6" r="0.9" fill="rgb(45,73,45)" opacity="0.58"/>
<circle cx="275.8" cy="82.9" r="1.0" fill="rgb(45,97,45)" opacity="0.66"/>
<circle cx="304.4" cy="58.1" r="0.5" fill="rgb(45,70,45)" opacity="0.72"/>
<circle cx="296.5" cy="83.3" r="0.9" fill="rgb(45,64,45)" opacity="0.65"/>
<circle cx="292.1" cy="40.4" r="0.8" fill="rgb(45,82,45)" opacity="0.87"/>
<circle cx="279.2" cy="59.8" r="1.1" fill="rgb(45,142,45)" opacity="0.58"/>
<circle cx="279.7" cy="85.2" r="0.8" fill="rgb(45,164,45)" opacity="0.52"/>
<circle cx="305.9" cy="54.0" r="0.9" fill="rgb(45,155,45)" opacity="0.83"/>
<circle cx="280.8" cy="76.4" r="0.7" fill="rgb(45,76,45)" opacity="0.84"/>
<circle cx="302.7" cy="42.5" r="0.7" fill="rgb(45,75,45)" opacity="0.71"/>
<circle cx="288.1" cy="39.1" r="0.9" fill="rgb(45,78,45)" opacity="0.86"/>
<circle cx="276.9" cy="63.8" r="0.5" fill="rgb(45,136,45)" opacity="0.84"/>
<circle cx="279.4" cy="65.9" r="0.9" fill="rgb(45,111,45)" opacity="0.62"/>
<circle cx="289.3" cy="64.9" r="0.9" fill="rgb(45,97,45)" opacity="0.68"/>
<circle cx="289.9" cy="33.5" r="0.8" fill="rgb(45,119,45)" opacity="0.59"/>
<circle cx="300.6" cy="76.0" r="0.6" fill="rgb(45,101,45)" opacity="0.69"/>
<circle cx="279.1" cy="39.4" r="0.6" fill="rgb(45,98,45)" opacity="0.68"/>
<circle cx="292.3" cy="34.5" r="0.5" fill="rgb(45,121,45)" opacity="0.79"/>
<circle cx="301.0" cy="60.9" r="0.8" fill="rgb(45,61,45)" opacity="0.65"/>
<circle cx="306.7" cy="39.9" r="1.1" fill="rgb(45,149,45)" opacity="0.79"/>
<circle cx="302.2" cy="43.1" r="0.8" fill="rgb(45,165,45)" opacity="0.88"/>
<circle cx="305.5" cy="41.5" r="1.1" fill="rgb(45,140,45)" opacity="0.53"/>
<circle cx="287.1" cy="74.7" r="1.0" fill="rgb(45,70,45)" opacity="0.61"/>
<circle cx="302.3" cy="40.3" r="1.1" fill="rgb(45,106,45)" opacity="0.58"/>
<circle cx="284.2" cy="60.6" r="0.5" fill="rgb(45,85,45)" opacity="0.57"/>
<circle cx="280.9" cy="84.8" r="1.0" fill="rgb(45,127,45)" opacity="0.57"/>
<circle cx="301.2" cy="38.7" r="0.9" fill="rgb(45,109,45)" opacity="0.64"/>
<circle cx="304.1" cy="63.4" r="1.0" fill="rgb(45,115,45)" opacity="0.54"/>
<circle cx="308.0" cy="67.6" r="1.0" fill="rgb(45,94,45)" opacity="0.61"/>
<circle cx="308.0" cy="64.6" r="1.0" fill="rgb(45,90,45)" opacity="0.68"/>
<circle cx="281.4" cy="74.0" r="1.0" fill="rgb(45,60,45)" opacity="0.60"/>
<circle cx="296.5" cy="87.5" r="0.9" fill="rgb(45,115,45)" opacity="0.63"/>
<circle cx="275.7" cy="34.1" r="0.9" fill="rgb(45,69,45)" opacity="0.67"/>
<circle cx="292.4" cy="82.5" r="0.6" fill="rgb(45,67,45)" opacity="0.76"/>
<circle cx="276.3" cy="32.3" r="0.6" fill="rgb(45,89,45)" opacity="0.64"/>
<circle cx="282.9" cy="65.0" r="0.6" fill="rgb(45,116,45)" opacity="0.75"/>
<circle cx="291.1" cy="39.8" r="0.6" fill="rgb(45,159,45)" opacity="0.56"/>
<circle cx="278.7" cy="68.1" r="1.0" fill="rgb(45,151,45)" opacity="0.66"/>
<circle cx="284.2" cy="32.8" r="0.8" fill="rgb(45,122,45)" opacity="0.64"/>
<circle cx="296.7" cy="57.1" r="0.9" fill="rgb(45,159,45)" opacity="0.60"/>
<circle cx="305.1" cy="34.7" r="0.7" fill="rgb(45,109,45)" opacity="0.60"/>
<circle cx="277.5" cy="76.0" r="0.8" fill="rgb(45,58,45)" opacity="0.88"/>
<circle cx="280.2" cy="43.4" r="0.8" fill="rgb(45,118,45)" opacity="0.76"/>
<circle cx="302.2" cy="42.0" r="0.7" fill="rgb(45,84,45)" opacity="0.52"/>
<circle cx="304.7" cy="76.2" r="0.5" fill="rgb(45,131,45)" opacity="0.84"/>
<circle cx="299.9" cy="58.3" r="0.8" fill="rgb(45,134,45)" opacity="0.59"/>
<circle cx="279.0" cy="45.3" r="0.7" fill="rgb(45,60,45)" opacity="0.80"/>
<circle cx="298.3" cy="79.7" r="0.7" fill="rgb(45,131,45)" opacity="0.72"/>
<circle cx="289.8" cy="76.5" r="0.7" fill="rgb(45,108,45)" opacity="0.76"/>
<circle cx="307.1" cy="44.4" r="0.5" fill="rgb(45,152,45)" opacity="0.60"/>
<circle cx="283.3" cy="74.0" r="0.9" fill="rgb(45,160,45)" opacity="0.63"/>
<circle cx="304.4" cy="50.7" r="1.0" fill="rgb(45,77,45)" opacity="0.75"/>
<circle cx="298.2" cy="69.6" r="0.8" fill="rgb(45,165,45)" opacity="0.84"/>
<circle cx="298.4" cy="80.4" r="0.9" fill="rgb(45,98,45)" opacity="0.73"/>
<circle cx="285.7" cy="44.1" r="0.5" fill="rgb(45,120,45)" opacity="0.86"/>
<circle cx="280.3" cy="33.7" r="1.1" fill="rgb(45,65,45)" opacity="0.64"/>
<circle cx="280.2" cy="33.8" r="0.9" fill="rgb(45,60,45)" opacity="0.75"/>
<circle cx="298.4" cy="73.6" r="0.9" fill="rgb(45,62,45)" opacity="0.65"/>
<circle cx="302.3" cy="78.3" r="0.5" fill="rgb(45,153,45)" opacity="0.85"/>
<circle cx="305.5" cy="85.3" r="0.6" fill="rgb(45,65,45)" opacity="0.54"/>
<circle cx="276.7" cy="79.8" r="0.9" fill="rgb(45,143,45)" opacity="0.83"/>
<circle cx="296.2" cy="48.3" r="0.6" fill="rgb(45,64,45)" opacity="0.80"/>
<circle cx="282.3" cy="50.1" r="0.5" fill="rgb(45,97,45)" opacity="0.60"/>
<circle cx="284.8" cy="72.4" r="0.7" fill="rgb(45,91,45)" opacity="0.89"/>
<circle cx="292.1" cy="80.0" r="0.5" fill="rgb(45,119,45)" opacity="0.67"/>
<circle cx="289.9" cy="75.6" r="0.9" fill="rgb(45,88,45)" opacity="0.72"/>
<circle cx="282.7" cy="80.7" r="1.0" fill="rgb(45,64,45)" opacity="0.57"/>
<circle cx="275.6" cy="43.6" r="1.1" fill="rgb(45,137,45)" opacity="0.50"/>
<circle cx="291.6" cy="59.8" r="0.6" fill="rgb(45,141,45)" opacity="0.70"/>
<circle cx="286.9" cy="78.9" r="1.1" fill="rgb(45,79,45)" opacity="0.61"/>
<circle cx="282.6" cy="71.5" r="0.6" fill="rgb(45,105,45)" opacity="0.75"/>
<circle cx="278.2" cy="76.5" r="1.0" fill="rgb(45,129,45)" opacity="0.75"/>
<circle cx="287.2" cy="54.8" r="1.0" fill="rgb(45,94,45)" opacity="0.53"/>
<circle cx="304.6" cy="33.6" r="0.7" fill="rgb(45,74,45)" opacity="0.86"/>
<circle cx="292.0" cy="53.5" r="0.6" fill="rgb(45,152,45)" opacity="0.68"/>
<circle cx="293.0" cy="74.6" r="0.9" fill="rgb(45,136,45)" opacity="0.64"/>
<circle cx="286.3" cy="40.9" r="0.9" fill="rgb(45,147,45)" opacity="0.80"/>
<circle cx="281.1" cy="56.9" r="0.8" fill="rgb(45,138,45)" opacity="0.55"/>
<circle cx="290.7" cy="81.9" r="0.6" fill="rgb(45,77,45)" opacity="0.62"/>
<circle cx="345.3" cy="79.6" r="0.6" fill="rgb(45,65,45)" opacity="0.60"/>
<circle cx="335.1" cy="61.5" r="0.7" fill="rgb(45,65,45)" opacity="0.58"/>
<circle cx="352.7" cy="73.2" r="1.1" fill="rgb(45,62,45)" opacity="0.54"/>
<circle cx="336.6" cy="87.5" r="0.9" fill="rgb(45,108,45)" opacity="0.67"/>
<circle cx="331.5" cy="68.1" r="0.6" fill="rgb(45,62,45)" opacity="0.66"/>
<circle cx="327.1" cy="54.6" r="0.9" fill="rgb(45,107,45)" opacity="0.70"/>
<circle cx="343.4" cy="58.2" r="0.9" fill="rgb(45,64,45)" opacity="0.66"/>
<circle cx="346.3" cy="83.2" r="0.8" fill="rgb(45,81,45)" opacity="0.80"/>
<circle cx="337.6" cy="45.0" r="1.0" fill="rgb(45,102,45)" opacity="0.81"/>
<circle cx="345.2" cy="80.1" r="0.9" fill="rgb(45,99,45)" opacity="0.68"/>
<circle cx="334.7" cy="67.5" r="0.8" fill="rgb(45,62,45)" opacity="0.81"/>
<circle cx="345.6" cy="67.6" r="0.8" fill="rgb(45,70,45)" opacity="0.68"/>
<circle cx="343.1" cy="55.2" r="1.1" fill="rgb(45,99,45)" opacity="0.57"/>
<circle cx="344.0" cy="75.9" r="0.8" fill="rgb(45,79,45)" opacity="0.89"/>
<circle cx="327.2" cy="62.7" r="1.0" fill="rgb(45,65,45)" opacity="0.88"/>
<circle cx="340.3" cy="37.9" r="0.8" fill="rgb(45,91,45)" opacity="0.79"/>
<circle cx="340.1" cy="68.1" r="0.8" fill="rgb(45,110,45)" opacity="0.66"/>
<circle cx="352.0" cy="44.0" r="0.7" fill="rgb(45,99,45)" opacity="0.81"/>
<circle cx="329.5" cy="87.5" r="0.5" fill="rgb(45,77,45)" opacity="0.61"/>
<circle cx="337.1" cy="32.9" r="0.8" fill="rgb(45,81,45)" opacity="0.78"/>
<circle cx="335.8" cy="47.1" r="0.9" fill="rgb(45,68,45)" opacity="0.88"/>
<circle cx="340.5" cy="44.5" r="0.7" fill="rgb(45,108,45)" opacity="0.58"/>
<circle cx="329.7" cy="75.8" r="0.9" fill="rgb(45,109,45)" opacity="0.69"/>
<circle cx="341.5" cy="44.9" r="0.7" fill="rgb(45,121,45)" opacity="0.76"/>
<circle cx="348.5" cy="78.1" r="0.7" fill="rgb(45,84,45)" opacity="0.72"/>
<circle cx="329.6" cy="79.1" r="1.0" fill="rgb(45,77,45)" opacity="0.61"/>
<circle cx="336.4" cy="46.4" r="0.6" fill="rgb(45,81,45)" opacity="0.50"/>
<circle cx="345.8" cy="48.0" r="0.7" fill="rgb(45,70,45)" opacity="0.69"/>
<circle cx="337.8" cy="68.0" r="0.7" fill="rgb(45,98,45)" opacity="0.87"/>
<circle cx="349.4" cy="35.4" r="1.0" fill="rgb(45,110,45)" opacity="0.81"/>
<circle cx="330.0" cy="78.9" r="0.5" fill="rgb(45,96,45)" opacity="0.50"/>
<circle cx="352.1" cy="69.1" r="0.6" fill="rgb(45,70,45)" opacity="0.56"/>
<circle cx="332.5" cy="75.8" r="0.6" fill="rgb(45,76,45)" opacity="0.86"/>
<circle cx="347.7" cy="41.6" r="0.9" fill="rgb(45,115,45)" opacity="0.81"/>
<circle cx="344.4" cy="82.4" r="1.0" fill="rgb(45,107,45)" opacity="0.58"/>
<circle cx="345.0" cy="62.0" r="0.8" fill="rgb(45,104,45)" opacity="0.85"/>
<circle cx="341.3" cy="47.1" r="0.6" fill="rgb(45,69,45)" opacity="0.70"/>
<circle cx="327.8" cy="58.5" r="0.8" fill="rgb(45,64,45)" opacity="0.70"/>
<circle cx="340.9" cy="80.7" r="1.0" fill="rgb(45,58,45)" opacity="0.69"/>
<circle cx="341.5" cy="69.6" r="0.7" fill="rgb(45,111,45)" opacity="0.67"/>
<circle cx="352.3" cy="36.4" r="0.9" fill="rgb(45,96,45)" opacity="0.51"/>
<circle cx="342.8" cy="70.6" r="0.7" fill="rgb(45,118,45)" opacity="0.89"/>
<circle cx="340.1" cy="59.4" r="0.5" fill="rgb(45,115,45)" opacity="0.79"/>
<circle cx="343.2" cy="51.2" r="0.7" fill="rgb(45,113,45)" opacity="0.69"/>
<circle cx="340.5" cy="75.5" r="0.8" fill="rgb(45,68,45)" opacity="0.67"/>
<circle cx="341.3" cy="78.7" r="1.0" fill="rgb(45,73,45)" opacity="0.66"/>
<circle cx="339.9" cy="47.5" r="1.1" fill="rgb(45,87,45)" opacity="0.76"/>
<circle cx="347.7" cy="50.8" r="0.7" fill="rgb(45,74,45)" opacity="0.73"/>
<circle cx="343.5" cy="76.3" r="0.9" fill="rgb(45,59,45)" opacity="0.85"/>
<circle cx="341.0" cy="35.0" r="0.5" fill="rgb(45,73,45)" opacity="0.58"/>
<circle cx="351.3" cy="66.4" r="1.0" fill="rgb(45,97,45)" opacity="0.86"/>
<circle cx="342.8" cy="66.9" r="0.9" fill="rgb(45,95,45)" opacity="0.74"/>
<circle cx="344.7" cy="44.1" r="0.8" fill="rgb(45,98,45)" opacity="0.81"/>
<circle cx="328.9" cy="42.4" r="1.0" fill="rgb(45,59,45)" opacity="0.87"/>
<circle cx="344.0" cy="52.9" r="1.0" fill="rgb(45,110,45)" opacity="0.72"/>
<circle cx="333.2" cy="49.2" r="0.7" fill="rgb(45,81,45)" opacity="0.67"/>
<circle cx="343.6" cy="84.7" r="0.8" fill="rgb(45,60,45)" opacity="0.52"/>
<circle cx="329.4" cy="77.7" r="1.1" fill="rgb(45,91,45)" opacity="0.68"/>
<circle cx="326.6" cy="54.0" r="1.1" fill="rgb(45,93,45)" opacity="0.89"/>
<circle cx="339.1" cy="55.4" r="0.9" fill="rgb(45,62,45)" opacity="0.58"/>
<circle cx="330.3" cy="33.1" r="0.9" fill="rgb(45,58,45)" opacity="0.55"/>
<circle cx="352.5" cy="37.2" r="0.6" fill="rgb(45,113,45)" opacity="0.51"/>
<circle cx="345.8" cy="45.8" r="0.6" fill="rgb(45,103,45)" opacity="0.52"/>
<circle cx="347.2" cy="72.3" r="0.9" fill="rgb(45,112,45)" opacity="0.53"/>
<circle cx="343.3" cy="72.1" r="1.1" fill="rgb(45,84,45)" opacity="0.60"/>
<circle cx="352.4" cy="72.5" r="0.5" fill="rgb(45,58,45)" opacity="0.76"/>
<circle cx="348.4" cy="36.7" r="0.9" fill="rgb(45,74,45)" opacity="0.57"/>
<circle cx="349.6" cy="59.5" r="0.7" fill="rgb(45,60,45)" opacity="0.73"/>
<circle cx="338.1" cy="70.2" r="1.0" fill="rgb(45,64,45)" opacity="0.65"/>
<circle cx="343.7" cy="67.6" r="0.7" fill="rgb(45,81,45)" opacity="0.81"/>
<circle cx="351.9" cy="76.3" r="0.7" fill="rgb(45,91,45)" opacity="0.52"/>
<circle cx="352.7" cy="71.7" r="0.7" fill="rgb(45,110,45)" opacity="0.74"/>
<circle cx="352.8" cy="78.9" r="0.7" fill="rgb(45,93,45)" opacity="0.67"/>
<circle cx="350.4" cy="53.4" r="0.9" fill="rgb(45,99,45)" opacity="0.86"/>
<circle cx="348.2" cy="48.1" r="0.7" fill="rgb(45,58,45)" opacity="0.67"/>
<circle cx="342.1" cy="78.1" r="0.5" fill="rgb(45,115,45)" opacity="0.83"/>
<circle cx="348.3" cy="80.9" r="0.7" fill="rgb(45,91,45)" opacity="0.84"/>
<circle cx="348.1" cy="70.7" r="0.7" fill="rgb(45,117,45)" opacity="0.53"/>
<circle cx="341.2" cy="77.0" r="1.0" fill="rgb(45,67,45)" opacity="0.87"/>
<circle cx="332.5" cy="66.3" r="0.8" fill="rgb(45,99,45)" opacity="0.58"/>
<circle cx="333.1" cy="74.4" r="0.8" fill="rgb(45,107,45)" opacity="0.54"/>
<circle cx="348.1" cy="75.6" r="0.8" fill="rgb(45,69,45)" opacity="0.86"/>
<circle cx="350.3" cy="61.5" r="0.9" fill="rgb(45,85,45)" opacity="0.58"/>
<circle cx="331.4" cy="42.4" r="0.7" fill="rgb(45,101,45)" opacity="0.73"/>
<circle cx="337.1" cy="61.3" r="0.5" fill="rgb(45,64,45)" opacity="0.90"/>
<circle cx="336.4" cy="38.2" r="1.0" fill="rgb(45,96,45)" opacity="0.56"/>
<circle cx="342.4" cy="51.6" r="0.5" fill="rgb(45,88,45)" opacity="0.51"/>
<circle cx="353.1" cy="80.9" r="0.8" fill="rgb(45,85,45)" opacity="0.60"/>
<circle cx="347.4" cy="56.1" r="1.0" fill="rgb(45,119,45)" opacity="0.83"/>
<circle cx="352.4" cy="46.5" r="0.6" fill="rgb(45,59,45)" opacity="0.57"/>
<circle cx="328.4" cy="35.1" r="1.0" fill="rgb(45,90,45)" opacity="0.68"/>
<circle cx="352.0" cy="83.3" r="0.9" fill="rgb(45,60,45)" opacity="0.66"/>
<circle cx="329.4" cy="86.1" r="0.8" fill="rgb(45,70,45)" opacity="0.76"/>
<circle cx="352.2" cy="69.8" r="0.8" fill="rgb(45,79,45)" opacity="0.56"/>
<circle cx="352.5" cy="87.9" r="0.5" fill="rgb(45,68,45)" opacity="0.60"/>
<circle cx="335.8" cy="82.9" r="1.0" fill="rgb(45,116,45)" opacity="0.52"/>
<circle cx="347.6" cy="72.1" r="1.1" fill="rgb(45,97,45)" opacity="0.52"/>
<circle cx="330.1" cy="74.6" r="0.9" fill="rgb(45,119,45)" opacity="0.62"/>
<circle cx="342.3" cy="74.8" r="0.7" fill="rgb(45,62,45)" opacity="0.60"/>
<circle cx="329.6" cy="59.2" r="0.6" fill="rgb(45,65,45)" opacity="0.56"/>
<circle cx="344.6" cy="32.9" r="0.6" fill="rgb(45,102,45)" opacity="0.51"/>
<circle cx="351.4" cy="44.6" r="1.0" fill="rgb(45,118,45)" opacity="0.86"/>
<circle cx="330.0" cy="57.3" r="1.1" fill="rgb(45,62,45)" opacity="0.84"/>
<circle cx="343.3" cy="57.6" r="1.0" fill="rgb(45,76,45)" opacity="0.69"/>
<circle cx="343.3" cy="40.2" r="0.5" fill="rgb(45,68,45)" opacity="0.79"/>
<circle cx="341.2" cy="40.3" r="0.7" fill="rgb(45,113,45)" opacity="0.66"/>
<circle cx="330.4" cy="47.4" r="0.7" fill="rgb(45,111,45)" opacity="0.57"/>
<circle cx="339.5" cy="50.1" r="0.6" fill="rgb(45,116,45)" opacity="0.89"/>
<circle cx="327.7" cy="82.5" r="0.6" fill="rgb(45,98,45)" opacity="0.69"/>
<circle cx="334.0" cy="46.7" r="0.7" fill="rgb(45,67,45)" opacity="0.90"/>
<circle cx="353.3" cy="84.2" r="0.7" fill="rgb(45,62,45)" opacity="0.86"/>
<circle cx="327.7" cy="73.0" r="1.1" fill="rgb(45,73,45)" opacity="0.51"/>
<circle cx="348.1" cy="51.4" r="0.5" fill="rgb(45,64,45)" opacity="0.83"/>
<circle cx="340.5" cy="42.6" r="1.0" fill="rgb(45,82,45)" opacity="0.59"/>
<circle cx="341.7" cy="40.0" r="1.0" fill="rgb(45,66,45)" opacity="0.78"/>
<circle cx="331.5" cy="36.7" r="0.9" fill="rgb(45,61,45)" opacity="0.70"/>
<circle cx="333.6" cy="43.8" r="0.9" fill="rgb(45,94,45)" opacity="0.82"/>
<circle cx="342.0" cy="43.6" r="0.9" fill="rgb(45,60,45)" opacity="0.66"/>
<circle cx="345.8" cy="35.3" r="0.7" fill="rgb(45,109,45)" opacity="0.84"/>
<circle cx="349.7" cy="59.9" r="1.0" fill="rgb(45,58,45)" opacity="0.69"/>
<circle cx="349.9" cy="47.2" r="1.0" fill="rgb(45,66,45)" opacity="0.65"/>
<circle cx="330.6" cy="53.1" r="0.5" fill="rgb(45,93,45)" opacity="0.71"/>
<circle cx="338.3" cy="61.2" r="0.9" fill="rgb(45,63,45)" opacity="0.83"/>
<circle cx="349.7" cy="50.2" r="0.7" fill="rgb(45,101,45)" opacity="0.80"/>
<circle cx="327.8" cy="81.3" r="0.8" fill="rgb(45,120,45)" opacity="0.71"/>
<circle cx="340.6" cy="62.4" r="1.1" fill="rgb(45,58,45)" opacity="0.59"/>
<circle cx="331.1" cy="38.0" r="1.0" fill="rgb(45,70,45)" opacity="0.51"/>
<circle cx="328.8" cy="71.5" r="0.5" fill="rgb(45,67,45)" opacity="0.74"/>
<circle cx="341.9" cy="61.6" r="0.6" fill="rgb(45,101,45)" opacity="0.85"/>
<circle cx="345.7" cy="34.7" r="0.8" fill="rgb(45,63,45)" opacity="0.70"/>
<circle cx="313.2" cy="39.1" r="0.6" fill="rgb(45,76,45)" opacity="0.74"/>
<circle cx="326.8" cy="40.5" r="0.9" fill="rgb(45,86,45)" opacity="0.57"/>
<circle cx="326.0" cy="84.9" r="0.8" fill="rgb(45,75,45)" opacity="0.84"/>
<circle cx="319.0" cy="54.4" r="1.0" fill="rgb(45,109,45)" opacity="0.64"/>
<circle cx="312.3" cy="51.0" r="1.1" fill="rgb(45,78,45)" opacity="0.82"/>
<circle cx="328.0" cy="78.0" r="0.5" fill="rgb(45,103,45)" opacity="0.71"/>
<circle cx="329.1" cy="84.7" r="0.8" fill="rgb(45,68,45)" opacity="0.75"/>
<circle cx="315.2" cy="62.0" r="0.8" fill="rgb(45,60,45)" opacity="0.70"/>
<circle cx="307.2" cy="40.0" r="1.0" fill="rgb(45,111,45)" opacity="0.87"/>
<circle cx="321.5" cy="77.7" r="1.0" fill="rgb(45,105,45)" opacity="0.51"/>
<circle cx="321.7" cy="47.1" r="0.7" fill="rgb(45,92,45)" opacity="0.72"/>
<circle cx="328.3" cy="67.1" r="0.8" fill="rgb(45,68,45)" opacity="0.67"/>
<circle cx="328.9" cy="48.4" r="0.9" fill="rgb(45,71,45)" opacity="0.55"/>
<circle cx="320.6" cy="85.9" r="0.7" fill="rgb(45,82,45)" opacity="0.69"/>
<circle cx="319.2" cy="40.5" r="0.6" fill="rgb(45,62,45)" opacity="0.62"/>
<circle cx="316.2" cy="48.4" r="0.6" fill="rgb(45,68,45)" opacity="0.72"/>
<circle cx="326.3" cy="66.5" r="0.9" fill="rgb(45,86,45)" opacity="0.58"/>
<circle cx="323.3" cy="58.1" r="0.9" fill="rgb(45,84,45)" opacity="0.69"/>
<circle cx="314.0" cy="45.8" r="0.8" fill="rgb(45,67,45)" opacity="0.65"/>
<circle cx="320.4" cy="32.9" r="1.0" fill="rgb(45,73,45)" opacity="0.60"/>
<circle cx="319.7" cy="59.8" r="1.1" fill="rgb(45,70,45)" opacity="0.62"/>
<circle cx="324.7" cy="41.1" r="1.0" fill="rgb(45,60,45)" opacity="0.68"/>
<circle cx="308.2" cy="54.0" r="0.9" fill="rgb(45,78,45)" opacity="0.54"/>
<circle cx="312.0" cy="86.1" r="0.6" fill="rgb(45,96,45)" opacity="0.63"/>
<circle cx="314.9" cy="70.2" r="1.0" fill="rgb(45,88,45)" opacity="0.83"/>
<circle cx="318.8" cy="73.7" r="1.0" fill="rgb(45,96,45)" opacity="0.69"/>
<circle cx="325.0" cy="72.0" r="0.6" fill="rgb(45,107,45)" opacity="0.85"/>
<circle cx="306.8" cy="75.2" r="0.8" fill="rgb(45,86,45)" opacity="0.89"/>
<circle cx="320.1" cy="55.7" r="1.0" fill="rgb(45,99,45)" opacity="0.74"/>
<circle cx="315.6" cy="57.6" r="0.9" fill="rgb(45,79,45)" opacity="0.62"/>
<circle cx="315.8" cy="63.4" r="0.7" fill="rgb(45,75,45)" opacity="0.81"/>
<circle cx="326.5" cy="60.3" r="0.6" fill="rgb(45,78,45)" opacity="0.62"/>
<circle cx="310.1" cy="64.5" r="0.6" fill="rgb(45,86,45)" opacity="0.87"/>
<circle cx="314.3" cy="79.6" r="1.1" fill="rgb(45,102,45)" opacity="0.58"/>
<circle cx="316.7" cy="83.4" r="0.5" fill="rgb(45,58,45)" opacity="0.73"/>
<circle cx="318.3" cy="83.9" r="0.8" fill="rgb(45,98,45)" opacity="0.90"/>
<circle cx="318.8" cy="61.3" r="0.7" fill="rgb(45,92,45)" opacity="0.64"/>
<circle cx="320.6" cy="51.9" r="0.9" fill="rgb(45,109,45)" opacity="0.71"/>
<circle cx="309.0" cy="53.2" r="0.8" fill="rgb(45,76,45)" opacity="0.73"/>
<circle cx="327.3" cy="86.4" r="0.8" fill="rgb(45,81,45)" opacity="0.75"/>
</g>
<g filter="url(#bl2)">
<circle cx="289.9" cy="56.8" r="1.28" fill="rgb(63,189,63)"/>
<circle cx="305.3" cy="82.3" r="1.41" fill="rgb(60,163,60)"/>
<circle cx="308.7" cy="65.3" r="1.28" fill="rgb(61,171,61)"/>
<circle cx="325.7" cy="78.9" r="1.54" fill="rgb(62,182,62)"/>
<circle cx="293.4" cy="70.4" r="1.15" fill="rgb(59,156,59)"/>
<circle cx="284.8" cy="51.7" r="1.02" fill="rgb(60,162,60)"/>
<circle cx="300.2" cy="50.0" r="1.02" fill="rgb(63,189,63)"/>
</g>
<rect x="277.90" y="85.80" width="16.2" height="1.1" fill="#d8d8d8"/>
<rect x="356.80" y="31.20" width="79.80" height="58.20" fill="#252f25"/>
<rect x="356.80" y="31.20" width="79.80" height="0.8" fill="#161816"/>
<g filter="url(#bl)">
<circle cx="375.4" cy="86.3" r="0.9" fill="rgb(45,59,45)" opacity="0.53"/>
<circle cx="377.1" cy="88.4" r="0.9" fill="rgb(45,61,45)" opacity="0.68"/>
<circle cx="393.1" cy="60.0" r="1.0" fill="rgb(45,61,45)" opacity="0.54"/>
<circle cx="376.0" cy="33.3" r="0.7" fill="rgb(45,63,45)" opacity="0.86"/>
<circle cx="387.3" cy="38.6" r="1.1" fill="rgb(45,63,45)" opacity="0.53"/>
<circle cx="406.0" cy="53.4" r="0.7" fill="rgb(45,82,45)" opacity="0.78"/>
<circle cx="396.5" cy="68.7" r="0.8" fill="rgb(45,97,45)" opacity="0.56"/>
<circle cx="362.8" cy="85.4" r="0.6" fill="rgb(45,72,45)" opacity="0.88"/>
<circle cx="402.8" cy="73.2" r="0.7" fill="rgb(45,96,45)" opacity="0.64"/>
<circle cx="426.1" cy="39.8" r="0.6" fill="rgb(45,88,45)" opacity="0.78"/>
<circle cx="412.4" cy="85.6" r="0.8" fill="rgb(45,93,45)" opacity="0.58"/>
<circle cx="369.5" cy="61.9" r="0.5" fill="rgb(45,73,45)" opacity="0.86"/>
<circle cx="397.3" cy="71.6" r="0.6" fill="rgb(45,62,45)" opacity="0.50"/>
<circle cx="384.5" cy="47.2" r="0.7" fill="rgb(45,69,45)" opacity="0.83"/>
<circle cx="427.2" cy="42.0" r="0.6" fill="rgb(45,68,45)" opacity="0.77"/>
<circle cx="433.6" cy="43.5" r="0.7" fill="rgb(45,88,45)" opacity="0.51"/>
<circle cx="417.3" cy="51.4" r="0.8" fill="rgb(45,60,45)" opacity="0.59"/>
<circle cx="389.7" cy="57.3" r="0.9" fill="rgb(45,69,45)" opacity="0.62"/>
<circle cx="365.2" cy="37.0" r="0.8" fill="rgb(45,59,45)" opacity="0.64"/>
<circle cx="420.6" cy="60.6" r="1.1" fill="rgb(45,84,45)" opacity="0.53"/>
<circle cx="359.1" cy="40.1" r="0.8" fill="rgb(45,68,45)" opacity="0.80"/>
<circle cx="385.1" cy="86.4" r="1.0" fill="rgb(45,58,45)" opacity="0.58"/>
<circle cx="425.9" cy="34.1" r="1.0" fill="rgb(45,102,45)" opacity="0.90"/>
<circle cx="402.9" cy="42.2" r="0.8" fill="rgb(45,102,45)" opacity="0.53"/>
<circle cx="404.9" cy="60.1" r="0.6" fill="rgb(45,72,45)" opacity="0.55"/>
<circle cx="403.0" cy="57.6" r="0.8" fill="rgb(45,59,45)" opacity="0.79"/>
<circle cx="413.5" cy="58.7" r="0.7" fill="rgb(45,68,45)" opacity="0.59"/>
<circle cx="373.2" cy="57.3" r="0.9" fill="rgb(45,59,45)" opacity="0.78"/>
<circle cx="405.4" cy="33.5" r="0.8" fill="rgb(45,67,45)" opacity="0.54"/>
<circle cx="433.1" cy="74.7" r="0.9" fill="rgb(45,73,45)" opacity="0.58"/>
<circle cx="375.6" cy="61.7" r="0.9" fill="rgb(45,87,45)" opacity="0.50"/>
<circle cx="405.5" cy="83.3" r="1.1" fill="rgb(45,87,45)" opacity="0.89"/>
<circle cx="375.2" cy="48.9" r="1.1" fill="rgb(45,75,45)" opacity="0.65"/>
<circle cx="431.0" cy="80.0" r="0.9" fill="rgb(45,74,45)" opacity="0.88"/>
<circle cx="418.7" cy="48.8" r="0.6" fill="rgb(45,93,45)" opacity="0.65"/>
<circle cx="432.4" cy="79.8" r="0.7" fill="rgb(45,65,45)" opacity="0.75"/>
<circle cx="423.4" cy="70.7" r="0.9" fill="rgb(45,100,45)" opacity="0.83"/>
<circle cx="404.9" cy="52.6" r="0.8" fill="rgb(45,70,45)" opacity="0.71"/>
<circle cx="423.0" cy="47.3" r="0.9" fill="rgb(45,58,45)" opacity="0.61"/>
<circle cx="390.5" cy="38.8" r="0.7" fill="rgb(45,92,45)" opacity="0.62"/>
<circle cx="420.4" cy="60.5" r="1.0" fill="rgb(45,64,45)" opacity="0.66"/>
<circle cx="385.9" cy="86.5" r="0.9" fill="rgb(45,90,45)" opacity="0.60"/>
<circle cx="421.1" cy="65.7" r="0.7" fill="rgb(45,92,45)" opacity="0.81"/>
<circle cx="419.5" cy="54.0" r="1.0" fill="rgb(45,81,45)" opacity="0.90"/>
<circle cx="429.4" cy="76.4" r="0.9" fill="rgb(45,59,45)" opacity="0.77"/>
<circle cx="364.6" cy="58.2" r="1.0" fill="rgb(45,95,45)" opacity="0.87"/>
<circle cx="365.0" cy="66.3" r="0.9" fill="rgb(45,95,45)" opacity="0.63"/>
<circle cx="360.8" cy="83.9" r="0.9" fill="rgb(45,94,45)" opacity="0.65"/>
<circle cx="422.3" cy="78.0" r="0.9" fill="rgb(45,85,45)" opacity="0.63"/>
<circle cx="380.9" cy="52.3" r="0.8" fill="rgb(45,65,45)" opacity="0.55"/>
<circle cx="413.9" cy="51.8" r="0.7" fill="rgb(45,60,45)" opacity="0.66"/>
<circle cx="391.3" cy="76.2" r="0.6" fill="rgb(45,59,45)" opacity="0.62"/>
<circle cx="371.5" cy="74.3" r="0.5" fill="rgb(45,59,45)" opacity="0.72"/>
<circle cx="415.1" cy="78.6" r="0.7" fill="rgb(45,76,45)" opacity="0.85"/>
<circle cx="415.1" cy="59.1" r="1.1" fill="rgb(45,76,45)" opacity="0.90"/>
<circle cx="430.3" cy="39.7" r="0.7" fill="rgb(45,65,45)" opacity="0.57"/>
<circle cx="417.1" cy="35.6" r="0.9" fill="rgb(45,96,45)" opacity="0.75"/>
<circle cx="390.1" cy="84.8" r="1.0" fill="rgb(45,77,45)" opacity="0.87"/>
<circle cx="411.6" cy="87.5" r="0.7" fill="rgb(45,72,45)" opacity="0.84"/>
<circle cx="398.9" cy="49.6" r="0.8" fill="rgb(45,83,45)" opacity="0.55"/>
<circle cx="423.0" cy="60.3" r="0.8" fill="rgb(45,102,45)" opacity="0.87"/>
<circle cx="380.3" cy="44.4" r="1.0" fill="rgb(45,74,45)" opacity="0.83"/>
<circle cx="408.2" cy="39.2" r="0.5" fill="rgb(45,68,45)" opacity="0.65"/>
<circle cx="431.3" cy="51.7" r="0.9" fill="rgb(45,84,45)" opacity="0.56"/>
<circle cx="411.4" cy="36.7" r="0.8" fill="rgb(45,61,45)" opacity="0.55"/>
<circle cx="432.8" cy="56.1" r="1.1" fill="rgb(45,80,45)" opacity="0.54"/>
<circle cx="435.5" cy="34.4" r="0.9" fill="rgb(45,78,45)" opacity="0.89"/>
<circle cx="385.7" cy="85.4" r="0.8" fill="rgb(45,81,45)" opacity="0.57"/>
<circle cx="376.1" cy="52.7" r="0.7" fill="rgb(45,66,45)" opacity="0.82"/>
<circle cx="387.0" cy="67.5" r="0.6" fill="rgb(45,58,45)" opacity="0.78"/>
<circle cx="427.1" cy="49.8" r="0.6" fill="rgb(45,58,45)" opacity="0.64"/>
<circle cx="386.3" cy="63.8" r="0.9" fill="rgb(45,64,45)" opacity="0.81"/>
<circle cx="418.7" cy="73.9" r="0.7" fill="rgb(45,77,45)" opacity="0.84"/>
<circle cx="380.3" cy="80.5" r="0.9" fill="rgb(45,70,45)" opacity="0.70"/>
<circle cx="408.7" cy="51.4" r="0.9" fill="rgb(45,77,45)" opacity="0.64"/>
<circle cx="404.5" cy="57.9" r="0.7" fill="rgb(45,71,45)" opacity="0.72"/>
<circle cx="413.0" cy="42.0" r="1.0" fill="rgb(45,60,45)" opacity="0.54"/>
<circle cx="419.5" cy="74.9" r="0.9" fill="rgb(45,62,45)" opacity="0.60"/>
<circle cx="426.4" cy="43.3" r="0.5" fill="rgb(45,59,45)" opacity="0.79"/>
<circle cx="374.3" cy="49.9" r="0.9" fill="rgb(45,103,45)" opacity="0.80"/>
<circle cx="402.6" cy="68.2" r="1.0" fill="rgb(45,58,45)" opacity="0.63"/>
<circle cx="424.3" cy="55.5" r="0.5" fill="rgb(45,98,45)" opacity="0.89"/>
<circle cx="365.3" cy="60.9" r="1.1" fill="rgb(45,72,45)" opacity="0.79"/>
<circle cx="434.2" cy="83.1" r="0.6" fill="rgb(45,69,45)" opacity="0.56"/>
<circle cx="413.0" cy="85.7" r="0.7" fill="rgb(45,82,45)" opacity="0.74"/>
<circle cx="408.9" cy="46.4" r="0.6" fill="rgb(45,84,45)" opacity="0.51"/>
<circle cx="362.8" cy="59.6" r="0.6" fill="rgb(45,84,45)" opacity="0.66"/>
<circle cx="411.7" cy="47.0" r="0.9" fill="rgb(45,74,45)" opacity="0.66"/>
<circle cx="374.0" cy="71.1" r="0.6" fill="rgb(45,84,45)" opacity="0.82"/>
<circle cx="408.8" cy="80.9" r="0.8" fill="rgb(45,89,45)" opacity="0.79"/>
<circle cx="382.3" cy="68.9" r="0.7" fill="rgb(45,58,45)" opacity="0.70"/>
<circle cx="426.7" cy="70.6" r="1.0" fill="rgb(45,98,45)" opacity="0.89"/>
<circle cx="405.8" cy="66.9" r="0.6" fill="rgb(45,71,45)" opacity="0.82"/>
<circle cx="405.3" cy="41.3" r="0.6" fill="rgb(45,62,45)" opacity="0.79"/>
<circle cx="404.3" cy="43.5" r="0.8" fill="rgb(45,83,45)" opacity="0.61"/>
<circle cx="392.4" cy="88.0" r="0.6" fill="rgb(45,60,45)" opacity="0.74"/>
<circle cx="423.1" cy="84.0" r="1.0" fill="rgb(45,68,45)" opacity="0.55"/>
<circle cx="387.8" cy="80.4" r="0.8" fill="rgb(45,82,45)" opacity="0.74"/>
<circle cx="395.7" cy="63.0" r="1.1" fill="rgb(45,96,45)" opacity="0.58"/>
<circle cx="416.5" cy="85.3" r="0.8" fill="rgb(45,79,45)" opacity="0.65"/>
<circle cx="395.5" cy="64.8" r="0.6" fill="rgb(45,79,45)" opacity="0.90"/>
<circle cx="379.3" cy="63.0" r="0.9" fill="rgb(45,61,45)" opacity="0.53"/>
<circle cx="383.9" cy="53.8" r="0.8" fill="rgb(45,65,45)" opacity="0.56"/>
<circle cx="396.0" cy="76.9" r="1.1" fill="rgb(45,80,45)" opacity="0.88"/>
<circle cx="394.9" cy="58.5" r="1.0" fill="rgb(45,88,45)" opacity="0.72"/>
<circle cx="409.7" cy="71.0" r="0.8" fill="rgb(45,74,45)" opacity="0.66"/>
<circle cx="392.7" cy="58.8" r="0.6" fill="rgb(45,90,45)" opacity="0.55"/>
<circle cx="429.6" cy="60.9" r="1.0" fill="rgb(45,84,45)" opacity="0.79"/>
<circle cx="401.9" cy="85.7" r="0.8" fill="rgb(45,79,45)" opacity="0.57"/>
<circle cx="370.2" cy="76.7" r="0.7" fill="rgb(45,97,45)" opacity="0.71"/>
<circle cx="410.6" cy="66.3" r="1.0" fill="rgb(45,63,45)" opacity="0.72"/>
<circle cx="413.4" cy="70.9" r="0.9" fill="rgb(45,70,45)" opacity="0.58"/>
<circle cx="400.4" cy="68.8" r="0.7" fill="rgb(45,80,45)" opacity="0.57"/>
<circle cx="365.7" cy="39.2" r="0.8" fill="rgb(45,61,45)" opacity="0.73"/>
<circle cx="412.7" cy="56.8" r="0.5" fill="rgb(45,88,45)" opacity="0.64"/>
<circle cx="367.1" cy="61.2" r="0.8" fill="rgb(45,77,45)" opacity="0.68"/>
<circle cx="386.4" cy="50.7" r="0.6" fill="rgb(45,59,45)" opacity="0.69"/>
<circle cx="402.0" cy="37.8" r="0.5" fill="rgb(45,93,45)" opacity="0.55"/>
<circle cx="392.7" cy="50.9" r="0.9" fill="rgb(45,74,45)" opacity="0.74"/>
<circle cx="418.9" cy="58.6" r="0.8" fill="rgb(45,83,45)" opacity="0.55"/>
<circle cx="363.6" cy="42.4" r="0.7" fill="rgb(45,70,45)" opacity="0.72"/>
<circle cx="409.7" cy="83.9" r="1.1" fill="rgb(45,60,45)" opacity="0.50"/>
<circle cx="427.0" cy="87.5" r="1.0" fill="rgb(45,67,45)" opacity="0.70"/>
<circle cx="401.5" cy="80.4" r="0.7" fill="rgb(45,100,45)" opacity="0.59"/>
<circle cx="429.1" cy="65.5" r="0.6" fill="rgb(45,97,45)" opacity="0.84"/>
<circle cx="370.2" cy="40.4" r="1.1" fill="rgb(45,64,45)" opacity="0.65"/>
<circle cx="392.1" cy="48.4" r="0.8" fill="rgb(45,58,45)" opacity="0.70"/>
<circle cx="383.8" cy="73.3" r="1.1" fill="rgb(45,65,45)" opacity="0.86"/>
<circle cx="402.8" cy="37.9" r="0.9" fill="rgb(45,76,45)" opacity="0.76"/>
<circle cx="390.9" cy="72.9" r="0.9" fill="rgb(45,104,45)" opacity="0.52"/>
<circle cx="406.7" cy="67.2" r="1.1" fill="rgb(45,75,45)" opacity="0.52"/>
<circle cx="359.1" cy="72.8" r="0.6" fill="rgb(45,59,45)" opacity="0.83"/>
<circle cx="385.9" cy="81.8" r="0.9" fill="rgb(45,90,45)" opacity="0.64"/>
<circle cx="364.2" cy="87.1" r="1.1" fill="rgb(45,95,45)" opacity="0.70"/>
<circle cx="379.7" cy="67.5" r="0.6" fill="rgb(45,69,45)" opacity="0.55"/>
<circle cx="389.5" cy="40.5" r="1.1" fill="rgb(45,63,45)" opacity="0.87"/>
<circle cx="426.7" cy="61.0" r="0.6" fill="rgb(45,88,45)" opacity="0.75"/>
<circle cx="433.6" cy="76.6" r="0.9" fill="rgb(45,103,45)" opacity="0.62"/>
<circle cx="359.4" cy="47.4" r="0.8" fill="rgb(45,92,45)" opacity="0.75"/>
<circle cx="420.2" cy="48.8" r="1.0" fill="rgb(45,60,45)" opacity="0.74"/>
<circle cx="359.9" cy="71.4" r="1.0" fill="rgb(45,85,45)" opacity="0.55"/>
<circle cx="379.1" cy="72.9" r="0.7" fill="rgb(45,82,45)" opacity="0.89"/>
<circle cx="381.3" cy="82.3" r="0.8" fill="rgb(45,59,45)" opacity="0.90"/>
<circle cx="411.8" cy="74.7" r="0.9" fill="rgb(45,96,45)" opacity="0.72"/>
<circle cx="422.0" cy="62.1" r="1.0" fill="rgb(45,101,45)" opacity="0.50"/>
<circle cx="380.2" cy="81.9" r="0.5" fill="rgb(45,59,45)" opacity="0.73"/>
<circle cx="411.8" cy="87.3" r="0.9" fill="rgb(45,101,45)" opacity="0.78"/>
<circle cx="399.1" cy="80.0" r="0.6" fill="rgb(45,83,45)" opacity="0.75"/>
<circle cx="361.7" cy="51.0" r="1.1" fill="rgb(45,66,45)" opacity="0.59"/>
<circle cx="387.1" cy="63.9" r="0.8" fill="rgb(45,61,45)" opacity="0.62"/>
<circle cx="413.9" cy="76.8" r="1.0" fill="rgb(45,77,45)" opacity="0.70"/>
<circle cx="415.9" cy="37.5" r="0.7" fill="rgb(45,68,45)" opacity="0.85"/>
<circle cx="396.6" cy="53.4" r="1.1" fill="rgb(45,82,45)" opacity="0.83"/>
<circle cx="420.3" cy="69.6" r="0.8" fill="rgb(45,90,45)" opacity="0.66"/>
<circle cx="382.5" cy="47.0" r="0.8" fill="rgb(45,66,45)" opacity="0.84"/>
<circle cx="376.2" cy="54.2" r="0.8" fill="rgb(45,63,45)" opacity="0.52"/>
<circle cx="406.3" cy="80.4" r="0.7" fill="rgb(45,98,45)" opacity="0.57"/>
<circle cx="414.7" cy="74.7" r="0.5" fill="rgb(45,61,45)" opacity="0.77"/>
<circle cx="387.3" cy="61.5" r="1.0" fill="rgb(45,76,45)" opacity="0.55"/>
<circle cx="378.0" cy="34.1" r="0.5" fill="rgb(45,83,45)" opacity="0.84"/>
<circle cx="405.2" cy="61.0" r="1.0" fill="rgb(45,63,45)" opacity="0.55"/>
<circle cx="403.0" cy="78.8" r="0.5" fill="rgb(45,81,45)" opacity="0.54"/>
<circle cx="380.0" cy="73.3" r="1.1" fill="rgb(45,59,45)" opacity="0.85"/>
<circle cx="402.3" cy="81.5" r="0.6" fill="rgb(45,80,45)" opacity="0.66"/>
<circle cx="359.7" cy="56.8" r="0.7" fill="rgb(45,103,45)" opacity="0.77"/>
<circle cx="385.8" cy="70.1" r="1.0" fill="rgb(45,66,45)" opacity="0.66"/>
<circle cx="378.7" cy="56.3" r="0.7" fill="rgb(45,58,45)" opacity="0.80"/>
<circle cx="389.3" cy="57.3" r="1.0" fill="rgb(45,62,45)" opacity="0.85"/>
<circle cx="389.6" cy="32.3" r="1.0" fill="rgb(45,70,45)" opacity="0.76"/>
<circle cx="375.5" cy="38.1" r="0.5" fill="rgb(45,96,45)" opacity="0.75"/>
<circle cx="404.1" cy="42.5" r="1.0" fill="rgb(45,70,45)" opacity="0.90"/>
<circle cx="363.6" cy="33.9" r="0.5" fill="rgb(45,63,45)" opacity="0.87"/>
<circle cx="364.1" cy="52.8" r="0.8" fill="rgb(45,94,45)" opacity="0.59"/>
<circle cx="362.7" cy="44.9" r="1.0" fill="rgb(45,65,45)" opacity="0.67"/>
<circle cx="400.8" cy="47.0" r="1.1" fill="rgb(45,69,45)" opacity="0.55"/>
<circle cx="412.3" cy="49.8" r="0.9" fill="rgb(45,69,45)" opacity="0.64"/>
<circle cx="395.8" cy="59.6" r="0.5" fill="rgb(45,72,45)" opacity="0.66"/>
<circle cx="387.4" cy="55.8" r="0.8" fill="rgb(45,64,45)" opacity="0.80"/>
<circle cx="363.5" cy="36.4" r="0.8" fill="rgb(45,75,45)" opacity="0.82"/>
<circle cx="360.3" cy="32.7" r="0.6" fill="rgb(45,79,45)" opacity="0.70"/>
<circle cx="380.7" cy="37.1" r="0.7" fill="rgb(45,76,45)" opacity="0.69"/>
<circle cx="425.4" cy="57.5" r="0.7" fill="rgb(45,93,45)" opacity="0.57"/>
<circle cx="389.1" cy="48.9" r="0.6" fill="rgb(45,86,45)" opacity="0.79"/>
<circle cx="374.9" cy="55.1" r="0.6" fill="rgb(45,62,45)" opacity="0.56"/>
<circle cx="434.5" cy="37.8" r="0.8" fill="rgb(45,99,45)" opacity="0.85"/>
<circle cx="371.7" cy="65.0" r="0.7" fill="rgb(45,83,45)" opacity="0.75"/>
<circle cx="428.1" cy="55.6" r="0.9" fill="rgb(45,58,45)" opacity="0.81"/>
<circle cx="393.2" cy="79.4" r="0.8" fill="rgb(45,66,45)" opacity="0.67"/>
<circle cx="365.1" cy="36.2" r="1.0" fill="rgb(45,80,45)" opacity="0.57"/>
<circle cx="428.2" cy="50.5" r="0.5" fill="rgb(45,69,45)" opacity="0.50"/>
<circle cx="402.6" cy="81.9" r="0.6" fill="rgb(45,80,45)" opacity="0.76"/>
<circle cx="367.9" cy="58.6" r="0.7" fill="rgb(45,87,45)" opacity="0.63"/>
<circle cx="382.7" cy="48.5" r="0.9" fill="rgb(45,58,45)" opacity="0.66"/>
<circle cx="372.4" cy="49.7" r="0.8" fill="rgb(45,58,45)" opacity="0.73"/>
<circle cx="406.1" cy="57.2" r="0.6" fill="rgb(45,103,45)" opacity="0.58"/>
<circle cx="401.5" cy="55.4" r="0.9" fill="rgb(45,64,45)" opacity="0.71"/>
<circle cx="401.8" cy="71.1" r="0.8" fill="rgb(45,69,45)" opacity="0.90"/>
<circle cx="370.4" cy="58.3" r="1.0" fill="rgb(45,79,45)" opacity="0.54"/>
<circle cx="366.8" cy="47.2" r="0.6" fill="rgb(45,82,45)" opacity="0.51"/>
<circle cx="390.4" cy="40.9" r="1.1" fill="rgb(45,83,45)" opacity="0.80"/>
</g>
<g filter="url(#bl2)">
<circle cx="362.8" cy="43.1" r="2.24" fill="rgb(63,187,63)"/>
<circle cx="372.1" cy="46.5" r="1.92" fill="rgb(62,181,62)"/>
<circle cx="371.3" cy="52.5" r="2.24" fill="rgb(60,166,60)"/>
<circle cx="379.0" cy="48.2" r="2.05" fill="rgb(62,182,62)"/>
<circle cx="379.0" cy="56.8" r="1.92" fill="rgb(63,185,63)"/>
<circle cx="368.7" cy="63.6" r="1.92" fill="rgb(62,177,62)"/>
<circle cx="373.8" cy="70.4" r="1.92" fill="rgb(62,181,62)"/>
<circle cx="383.2" cy="61.0" r="1.60" fill="rgb(65,202,65)"/>
<circle cx="392.6" cy="64.4" r="1.63" fill="rgb(54,116,54)"/>
<circle cx="407.9" cy="78.9" r="1.63" fill="rgb(54,112,54)"/>
<circle cx="418.2" cy="72.1" r="1.36" fill="rgb(54,118,54)"/>
<circle cx="431.0" cy="72.1" r="1.36" fill="rgb(56,133,56)"/>
<circle cx="382.4" cy="35.5" r="1.60" fill="rgb(60,166,60)"/>
<circle cx="368.7" cy="34.6" r="1.60" fill="rgb(62,183,62)"/>
<circle cx="363.6" cy="37.2" r="1.60" fill="rgb(65,204,65)"/>
<circle cx="377.3" cy="43.1" r="1.60" fill="rgb(63,186,63)"/>
<circle cx="360.2" cy="42.3" r="1.60" fill="rgb(62,177,62)"/>
<circle cx="418.2" cy="41.4" r="0.98" fill="rgb(54,114,54)"/>
<circle cx="428.4" cy="48.2" r="0.98" fill="rgb(55,125,55)"/>
<circle cx="421.6" cy="55.1" r="0.98" fill="rgb(53,108,53)"/>
<circle cx="426.7" cy="65.3" r="1.09" fill="rgb(56,133,56)"/>
</g>
<g filter="url(#bl2)">
<circle cx="410.9" cy="81.8" r="1.11" fill="rgb(50,100,50)"/>
<circle cx="383.5" cy="58.6" r="1.41" fill="rgb(50,113,50)"/>
<circle cx="362.4" cy="83.1" r="1.19" fill="rgb(50,100,50)"/>
<circle cx="369.1" cy="54.1" r="1.46" fill="rgb(50,100,50)"/>
<circle cx="385.8" cy="40.8" r="1.51" fill="rgb(50,107,50)"/>
<circle cx="400.3" cy="37.8" r="1.35" fill="rgb(50,115,50)"/>
<circle cx="398.1" cy="73.3" r="1.45" fill="rgb(50,100,50)"/>
<circle cx="416.8" cy="82.0" r="1.21" fill="rgb(50,108,50)"/>
<circle cx="412.2" cy="86.2" r="1.40" fill="rgb(50,128,50)"/>
<circle cx="383.5" cy="82.3" r="1.42" fill="rgb(50,100,50)"/>
<circle cx="423.0" cy="63.5" r="1.31" fill="rgb(50,120,50)"/>
<circle cx="411.7" cy="45.4" r="1.17" fill="rgb(50,118,50)"/>
<circle cx="372.6" cy="40.5" r="1.10" fill="rgb(50,106,50)"/>
<circle cx="411.6" cy="81.9" r="1.12" fill="rgb(50,124,50)"/>
<circle cx="396.2" cy="41.1" r="1.11" fill="rgb(50,115,50)"/>
<circle cx="430.1" cy="57.9" r="1.31" fill="rgb(50,101,50)"/>
<circle cx="382.8" cy="59.5" r="1.58" fill="rgb(50,109,50)"/>
<circle cx="383.0" cy="37.6" r="1.34" fill="rgb(50,114,50)"/>
<circle cx="386.1" cy="84.5" r="1.30" fill="rgb(50,124,50)"/>
<circle cx="370.0" cy="80.2" r="1.56" fill="rgb(50,123,50)"/>
</g>
<rect x="360.10" y="85.80" width="16.2" height="1.1" fill="#d8d8d8"/>
<rect x="438.80" y="31.20" width="80.00" height="58.20" fill="#252f25"/>
<rect x="438.80" y="31.20" width="80.00" height="0.8" fill="#161816"/>
<g filter="url(#bl)">
<circle cx="475.9" cy="53.2" r="1.0" fill="rgb(45,59,45)" opacity="0.50"/>
<circle cx="479.0" cy="82.7" r="0.8" fill="rgb(45,58,45)" opacity="0.75"/>
<circle cx="443.0" cy="53.5" r="0.8" fill="rgb(45,84,45)" opacity="0.79"/>
<circle cx="452.1" cy="45.6" r="0.8" fill="rgb(45,59,45)" opacity="0.87"/>
<circle cx="485.9" cy="75.7" r="0.9" fill="rgb(45,68,45)" opacity="0.54"/>
<circle cx="462.5" cy="70.1" r="0.8" fill="rgb(45,85,45)" opacity="0.54"/>
<circle cx="460.6" cy="44.0" r="1.0" fill="rgb(45,64,45)" opacity="0.58"/>
<circle cx="508.9" cy="81.6" r="0.7" fill="rgb(45,58,45)" opacity="0.70"/>
<circle cx="441.6" cy="56.1" r="0.6" fill="rgb(45,97,45)" opacity="0.74"/>
<circle cx="449.3" cy="64.7" r="0.6" fill="rgb(45,97,45)" opacity="0.50"/>
<circle cx="446.3" cy="62.5" r="0.6" fill="rgb(45,58,45)" opacity="0.70"/>
<circle cx="511.6" cy="55.8" r="0.9" fill="rgb(45,68,45)" opacity="0.54"/>
<circle cx="485.0" cy="41.9" r="1.1" fill="rgb(45,79,45)" opacity="0.52"/>
<circle cx="483.1" cy="66.3" r="0.7" fill="rgb(45,60,45)" opacity="0.90"/>
<circle cx="517.6" cy="39.0" r="1.1" fill="rgb(45,84,45)" opacity="0.59"/>
<circle cx="487.5" cy="34.6" r="0.9" fill="rgb(45,67,45)" opacity="0.74"/>
<circle cx="500.2" cy="37.1" r="1.0" fill="rgb(45,66,45)" opacity="0.73"/>
<circle cx="475.0" cy="54.8" r="0.8" fill="rgb(45,103,45)" opacity="0.51"/>
<circle cx="502.2" cy="50.7" r="0.6" fill="rgb(45,70,45)" opacity="0.68"/>
<circle cx="465.1" cy="37.2" r="0.6" fill="rgb(45,80,45)" opacity="0.81"/>
<circle cx="441.8" cy="76.1" r="0.8" fill="rgb(45,91,45)" opacity="0.78"/>
<circle cx="459.2" cy="73.7" r="0.6" fill="rgb(45,69,45)" opacity="0.89"/>
<circle cx="471.1" cy="53.2" r="0.7" fill="rgb(45,94,45)" opacity="0.77"/>
<circle cx="453.1" cy="79.6" r="0.5" fill="rgb(45,63,45)" opacity="0.89"/>
<circle cx="453.3" cy="85.4" r="0.9" fill="rgb(45,103,45)" opacity="0.50"/>
<circle cx="444.6" cy="43.9" r="0.9" fill="rgb(45,68,45)" opacity="0.89"/>
<circle cx="467.5" cy="40.1" r="0.6" fill="rgb(45,76,45)" opacity="0.53"/>
<circle cx="483.2" cy="71.3" r="0.8" fill="rgb(45,58,45)" opacity="0.78"/>
<circle cx="499.4" cy="53.7" r="0.6" fill="rgb(45,96,45)" opacity="0.79"/>
<circle cx="500.0" cy="81.7" r="0.6" fill="rgb(45,73,45)" opacity="0.52"/>
<circle cx="481.0" cy="41.9" r="0.6" fill="rgb(45,80,45)" opacity="0.81"/>
<circle cx="457.1" cy="32.9" r="0.8" fill="rgb(45,60,45)" opacity="0.72"/>
<circle cx="470.1" cy="41.9" r="1.1" fill="rgb(45,72,45)" opacity="0.71"/>
<circle cx="513.2" cy="33.8" r="1.0" fill="rgb(45,104,45)" opacity="0.72"/>
<circle cx="480.6" cy="62.4" r="0.5" fill="rgb(45,98,45)" opacity="0.76"/>
<circle cx="482.1" cy="49.1" r="0.9" fill="rgb(45,85,45)" opacity="0.54"/>
<circle cx="494.4" cy="57.7" r="0.9" fill="rgb(45,72,45)" opacity="0.52"/>
<circle cx="486.8" cy="53.2" r="0.6" fill="rgb(45,96,45)" opacity="0.83"/>
<circle cx="496.7" cy="67.3" r="0.5" fill="rgb(45,95,45)" opacity="0.74"/>
<circle cx="487.6" cy="70.3" r="0.5" fill="rgb(45,69,45)" opacity="0.58"/>
<circle cx="487.2" cy="42.4" r="0.7" fill="rgb(45,58,45)" opacity="0.69"/>
<circle cx="481.6" cy="33.7" r="0.7" fill="rgb(45,89,45)" opacity="0.81"/>
<circle cx="440.5" cy="85.8" r="1.1" fill="rgb(45,78,45)" opacity="0.89"/>
<circle cx="504.8" cy="38.2" r="0.6" fill="rgb(45,66,45)" opacity="0.81"/>
<circle cx="454.8" cy="44.6" r="0.6" fill="rgb(45,59,45)" opacity="0.88"/>
<circle cx="515.9" cy="53.1" r="0.8" fill="rgb(45,86,45)" opacity="0.71"/>
<circle cx="468.6" cy="67.9" r="0.7" fill="rgb(45,62,45)" opacity="0.71"/>
<circle cx="455.2" cy="56.9" r="0.5" fill="rgb(45,100,45)" opacity="0.54"/>
<circle cx="502.2" cy="35.4" r="1.0" fill="rgb(45,63,45)" opacity="0.74"/>
<circle cx="457.0" cy="35.5" r="0.7" fill="rgb(45,63,45)" opacity="0.82"/>
<circle cx="515.9" cy="76.4" r="1.1" fill="rgb(45,97,45)" opacity="0.85"/>
<circle cx="511.6" cy="86.6" r="0.7" fill="rgb(45,59,45)" opacity="0.60"/>
<circle cx="486.9" cy="59.8" r="1.0" fill="rgb(45,66,45)" opacity="0.66"/>
<circle cx="456.1" cy="47.7" r="0.9" fill="rgb(45,71,45)" opacity="0.73"/>
<circle cx="474.1" cy="42.7" r="0.7" fill="rgb(45,68,45)" opacity="0.57"/>
<circle cx="482.2" cy="42.8" r="0.9" fill="rgb(45,85,45)" opacity="0.56"/>
<circle cx="488.6" cy="51.2" r="0.9" fill="rgb(45,70,45)" opacity="0.80"/>
<circle cx="508.7" cy="73.4" r="0.8" fill="rgb(45,61,45)" opacity="0.63"/>
<circle cx="441.3" cy="63.2" r="1.0" fill="rgb(45,71,45)" opacity="0.63"/>
<circle cx="504.8" cy="61.1" r="0.9" fill="rgb(45,59,45)" opacity="0.61"/>
<circle cx="481.4" cy="36.2" r="1.1" fill="rgb(45,58,45)" opacity="0.52"/>
<circle cx="451.4" cy="41.4" r="1.0" fill="rgb(45,59,45)" opacity="0.90"/>
<circle cx="490.4" cy="54.4" r="0.8" fill="rgb(45,96,45)" opacity="0.55"/>
<circle cx="493.6" cy="52.4" r="0.7" fill="rgb(45,63,45)" opacity="0.65"/>
<circle cx="454.0" cy="66.6" r="0.8" fill="rgb(45,95,45)" opacity="0.50"/>
<circle cx="493.2" cy="33.3" r="1.0" fill="rgb(45,72,45)" opacity="0.77"/>
<circle cx="510.6" cy="74.6" r="0.6" fill="rgb(45,63,45)" opacity="0.68"/>
<circle cx="492.8" cy="45.2" r="0.9" fill="rgb(45,65,45)" opacity="0.64"/>
<circle cx="486.7" cy="62.9" r="0.5" fill="rgb(45,99,45)" opacity="0.57"/>
<circle cx="500.5" cy="69.8" r="0.6" fill="rgb(45,59,45)" opacity="0.58"/>
<circle cx="482.2" cy="82.9" r="0.6" fill="rgb(45,62,45)" opacity="0.77"/>
<circle cx="472.8" cy="79.8" r="1.1" fill="rgb(45,104,45)" opacity="0.79"/>
<circle cx="478.5" cy="35.6" r="0.7" fill="rgb(45,91,45)" opacity="0.69"/>
<circle cx="489.1" cy="86.4" r="1.1" fill="rgb(45,76,45)" opacity="0.89"/>
<circle cx="446.4" cy="52.1" r="1.0" fill="rgb(45,96,45)" opacity="0.89"/>
<circle cx="454.3" cy="62.1" r="0.8" fill="rgb(45,99,45)" opacity="0.77"/>
<circle cx="515.8" cy="41.9" r="1.0" fill="rgb(45,58,45)" opacity="0.73"/>
<circle cx="455.4" cy="79.0" r="0.6" fill="rgb(45,64,45)" opacity="0.62"/>
<circle cx="442.6" cy="55.0" r="0.8" fill="rgb(45,89,45)" opacity="0.89"/>
<circle cx="443.1" cy="41.9" r="0.8" fill="rgb(45,60,45)" opacity="0.58"/>
<circle cx="491.8" cy="61.6" r="1.0" fill="rgb(45,77,45)" opacity="0.82"/>
<circle cx="511.7" cy="40.7" r="1.1" fill="rgb(45,67,45)" opacity="0.66"/>
<circle cx="462.1" cy="59.3" r="1.0" fill="rgb(45,61,45)" opacity="0.75"/>
<circle cx="447.2" cy="86.4" r="0.7" fill="rgb(45,74,45)" opacity="0.75"/>
<circle cx="513.9" cy="51.7" r="0.6" fill="rgb(45,58,45)" opacity="0.52"/>
<circle cx="481.0" cy="49.7" r="0.6" fill="rgb(45,94,45)" opacity="0.51"/>
<circle cx="476.0" cy="39.1" r="0.6" fill="rgb(45,65,45)" opacity="0.57"/>
<circle cx="489.4" cy="84.8" r="0.9" fill="rgb(45,67,45)" opacity="0.63"/>
<circle cx="511.2" cy="63.3" r="0.9" fill="rgb(45,58,45)" opacity="0.58"/>
<circle cx="443.5" cy="33.3" r="0.9" fill="rgb(45,93,45)" opacity="0.64"/>
<circle cx="483.3" cy="71.8" r="0.9" fill="rgb(45,58,45)" opacity="0.78"/>
<circle cx="513.3" cy="35.5" r="0.8" fill="rgb(45,77,45)" opacity="0.84"/>
<circle cx="468.2" cy="69.4" r="0.7" fill="rgb(45,97,45)" opacity="0.71"/>
<circle cx="509.5" cy="34.1" r="0.7" fill="rgb(45,102,45)" opacity="0.68"/>
<circle cx="462.2" cy="77.0" r="0.9" fill="rgb(45,75,45)" opacity="0.54"/>
<circle cx="508.5" cy="78.3" r="0.6" fill="rgb(45,83,45)" opacity="0.60"/>
<circle cx="475.1" cy="35.9" r="0.7" fill="rgb(45,101,45)" opacity="0.88"/>
<circle cx="454.1" cy="68.6" r="0.9" fill="rgb(45,90,45)" opacity="0.67"/>
<circle cx="441.3" cy="56.7" r="1.1" fill="rgb(45,68,45)" opacity="0.89"/>
<circle cx="514.4" cy="87.3" r="0.5" fill="rgb(45,60,45)" opacity="0.62"/>
<circle cx="440.4" cy="38.9" r="0.6" fill="rgb(45,77,45)" opacity="0.74"/>
<circle cx="469.5" cy="47.6" r="0.6" fill="rgb(45,102,45)" opacity="0.85"/>
<circle cx="480.9" cy="69.5" r="0.9" fill="rgb(45,60,45)" opacity="0.86"/>
<circle cx="455.3" cy="58.8" r="0.8" fill="rgb(45,81,45)" opacity="0.80"/>
<circle cx="490.1" cy="49.8" r="1.0" fill="rgb(45,83,45)" opacity="0.69"/>
<circle cx="485.8" cy="67.9" r="0.6" fill="rgb(45,72,45)" opacity="0.66"/>
<circle cx="500.5" cy="72.9" r="0.8" fill="rgb(45,58,45)" opacity="0.74"/>
<circle cx="481.4" cy="40.6" r="0.9" fill="rgb(45,81,45)" opacity="0.71"/>
<circle cx="513.1" cy="64.7" r="0.7" fill="rgb(45,58,45)" opacity="0.78"/>
<circle cx="446.0" cy="86.4" r="1.0" fill="rgb(45,84,45)" opacity="0.57"/>
<circle cx="440.3" cy="81.3" r="0.8" fill="rgb(45,73,45)" opacity="0.71"/>
<circle cx="499.7" cy="53.1" r="0.6" fill="rgb(45,88,45)" opacity="0.89"/>
<circle cx="494.1" cy="50.1" r="1.0" fill="rgb(45,72,45)" opacity="0.63"/>
<circle cx="494.3" cy="83.3" r="0.7" fill="rgb(45,101,45)" opacity="0.82"/>
<circle cx="487.3" cy="77.6" r="0.7" fill="rgb(45,58,45)" opacity="0.68"/>
<circle cx="503.3" cy="57.6" r="0.6" fill="rgb(45,58,45)" opacity="0.83"/>
<circle cx="508.7" cy="64.4" r="1.0" fill="rgb(45,58,45)" opacity="0.85"/>
<circle cx="462.2" cy="59.3" r="0.5" fill="rgb(45,64,45)" opacity="0.79"/>
<circle cx="452.2" cy="37.1" r="0.6" fill="rgb(45,98,45)" opacity="0.80"/>
<circle cx="503.4" cy="46.3" r="0.6" fill="rgb(45,67,45)" opacity="0.78"/>
<circle cx="515.7" cy="74.0" r="0.8" fill="rgb(45,73,45)" opacity="0.66"/>
<circle cx="495.5" cy="47.3" r="0.9" fill="rgb(45,62,45)" opacity="0.60"/>
<circle cx="516.9" cy="73.1" r="0.5" fill="rgb(45,61,45)" opacity="0.74"/>
<circle cx="450.3" cy="60.3" r="1.0" fill="rgb(45,78,45)" opacity="0.66"/>
<circle cx="482.4" cy="78.0" r="0.7" fill="rgb(45,59,45)" opacity="0.82"/>
<circle cx="467.7" cy="84.5" r="0.6" fill="rgb(45,58,45)" opacity="0.65"/>
<circle cx="476.0" cy="52.9" r="0.8" fill="rgb(45,62,45)" opacity="0.86"/>
<circle cx="512.9" cy="67.4" r="0.8" fill="rgb(45,63,45)" opacity="0.56"/>
<circle cx="444.7" cy="76.9" r="0.6" fill="rgb(45,63,45)" opacity="0.83"/>
<circle cx="449.3" cy="45.5" r="1.0" fill="rgb(45,60,45)" opacity="0.77"/>
<circle cx="453.9" cy="36.2" r="0.6" fill="rgb(45,97,45)" opacity="0.79"/>
<circle cx="493.6" cy="65.3" r="0.7" fill="rgb(45,72,45)" opacity="0.61"/>
<circle cx="490.2" cy="40.7" r="0.7" fill="rgb(45,72,45)" opacity="0.65"/>
<circle cx="509.3" cy="64.1" r="0.9" fill="rgb(45,81,45)" opacity="0.50"/>
<circle cx="500.9" cy="81.4" r="0.8" fill="rgb(45,87,45)" opacity="0.84"/>
<circle cx="513.4" cy="47.8" r="0.7" fill="rgb(45,60,45)" opacity="0.51"/>
<circle cx="458.1" cy="36.8" r="0.7" fill="rgb(45,58,45)" opacity="0.50"/>
<circle cx="477.3" cy="80.0" r="0.5" fill="rgb(45,85,45)" opacity="0.79"/>
<circle cx="454.6" cy="77.5" r="0.8" fill="rgb(45,81,45)" opacity="0.67"/>
<circle cx="516.3" cy="44.0" r="0.6" fill="rgb(45,97,45)" opacity="0.54"/>
<circle cx="456.6" cy="34.3" r="0.6" fill="rgb(45,92,45)" opacity="0.73"/>
<circle cx="461.2" cy="52.3" r="0.8" fill="rgb(45,89,45)" opacity="0.61"/>
<circle cx="497.9" cy="40.3" r="0.9" fill="rgb(45,58,45)" opacity="0.84"/>
<circle cx="499.5" cy="71.4" r="1.1" fill="rgb(45,99,45)" opacity="0.73"/>
<circle cx="453.6" cy="64.8" r="0.9" fill="rgb(45,69,45)" opacity="0.64"/>
<circle cx="445.5" cy="43.1" r="0.9" fill="rgb(45,60,45)" opacity="0.78"/>
<circle cx="481.4" cy="50.1" r="0.8" fill="rgb(45,86,45)" opacity="0.70"/>
<circle cx="455.1" cy="88.2" r="0.8" fill="rgb(45,70,45)" opacity="0.58"/>
<circle cx="474.7" cy="58.7" r="0.9" fill="rgb(45,69,45)" opacity="0.63"/>
<circle cx="488.4" cy="69.9" r="1.0" fill="rgb(45,59,45)" opacity="0.53"/>
<circle cx="459.9" cy="78.9" r="0.7" fill="rgb(45,59,45)" opacity="0.67"/>
<circle cx="513.6" cy="86.6" r="0.9" fill="rgb(45,62,45)" opacity="0.83"/>
<circle cx="479.9" cy="49.9" r="0.5" fill="rgb(45,60,45)" opacity="0.52"/>
<circle cx="443.5" cy="72.9" r="0.5" fill="rgb(45,78,45)" opacity="0.87"/>
<circle cx="516.7" cy="55.5" r="1.0" fill="rgb(45,67,45)" opacity="0.77"/>
<circle cx="497.9" cy="42.5" r="0.8" fill="rgb(45,86,45)" opacity="0.52"/>
<circle cx="443.5" cy="47.1" r="0.7" fill="rgb(45,62,45)" opacity="0.86"/>
<circle cx="470.8" cy="43.9" r="0.5" fill="rgb(45,59,45)" opacity="0.66"/>
<circle cx="472.6" cy="36.7" r="0.7" fill="rgb(45,74,45)" opacity="0.51"/>
<circle cx="476.8" cy="41.1" r="1.0" fill="rgb(45,61,45)" opacity="0.67"/>
<circle cx="467.6" cy="63.4" r="0.9" fill="rgb(45,86,45)" opacity="0.88"/>
<circle cx="495.6" cy="51.4" r="0.5" fill="rgb(45,101,45)" opacity="0.58"/>
<circle cx="449.3" cy="53.6" r="0.7" fill="rgb(45,66,45)" opacity="0.75"/>
<circle cx="466.9" cy="59.3" r="1.1" fill="rgb(45,83,45)" opacity="0.88"/>
<circle cx="468.5" cy="53.8" r="1.0" fill="rgb(45,104,45)" opacity="0.85"/>
<circle cx="448.7" cy="48.5" r="0.7" fill="rgb(45,69,45)" opacity="0.69"/>
<circle cx="513.4" cy="54.0" r="0.7" fill="rgb(45,73,45)" opacity="0.74"/>
<circle cx="482.3" cy="42.4" r="1.0" fill="rgb(45,58,45)" opacity="0.83"/>
<circle cx="466.2" cy="43.4" r="0.9" fill="rgb(45,59,45)" opacity="0.73"/>
<circle cx="512.8" cy="70.3" r="0.9" fill="rgb(45,77,45)" opacity="0.86"/>
<circle cx="511.6" cy="41.6" r="0.6" fill="rgb(45,59,45)" opacity="0.51"/>
<circle cx="506.2" cy="86.3" r="1.0" fill="rgb(45,73,45)" opacity="0.76"/>
<circle cx="491.0" cy="54.3" r="0.7" fill="rgb(45,101,45)" opacity="0.54"/>
<circle cx="443.9" cy="76.5" r="1.0" fill="rgb(45,89,45)" opacity="0.82"/>
<circle cx="457.4" cy="52.6" r="1.0" fill="rgb(45,64,45)" opacity="0.50"/>
<circle cx="463.6" cy="68.9" r="0.5" fill="rgb(45,80,45)" opacity="0.55"/>
<circle cx="453.0" cy="44.5" r="0.5" fill="rgb(45,74,45)" opacity="0.83"/>
<circle cx="476.1" cy="68.9" r="1.0" fill="rgb(45,67,45)" opacity="0.54"/>
<circle cx="507.4" cy="46.1" r="0.8" fill="rgb(45,74,45)" opacity="0.77"/>
<circle cx="482.1" cy="72.6" r="0.8" fill="rgb(45,58,45)" opacity="0.70"/>
<circle cx="488.1" cy="38.2" r="0.5" fill="rgb(45,84,45)" opacity="0.52"/>
<circle cx="443.9" cy="87.2" r="0.9" fill="rgb(45,60,45)" opacity="0.52"/>
<circle cx="487.0" cy="44.4" r="0.9" fill="rgb(45,78,45)" opacity="0.77"/>
<circle cx="482.0" cy="72.5" r="0.5" fill="rgb(45,58,45)" opacity="0.59"/>
<circle cx="475.1" cy="75.1" r="0.6" fill="rgb(45,58,45)" opacity="0.71"/>
<circle cx="465.1" cy="36.8" r="0.5" fill="rgb(45,64,45)" opacity="0.51"/>
<circle cx="505.3" cy="49.9" r="0.6" fill="rgb(45,85,45)" opacity="0.80"/>
<circle cx="508.7" cy="33.2" r="1.0" fill="rgb(45,78,45)" opacity="0.81"/>
<circle cx="449.3" cy="73.2" r="0.6" fill="rgb(45,87,45)" opacity="0.76"/>
<circle cx="488.4" cy="43.4" r="1.0" fill="rgb(45,92,45)" opacity="0.53"/>
<circle cx="476.6" cy="65.3" r="0.8" fill="rgb(45,58,45)" opacity="0.88"/>
<circle cx="465.7" cy="60.0" r="1.0" fill="rgb(45,100,45)" opacity="0.88"/>
<circle cx="446.9" cy="88.4" r="0.7" fill="rgb(45,65,45)" opacity="0.57"/>
<circle cx="502.7" cy="65.3" r="0.8" fill="rgb(45,71,45)" opacity="0.71"/>
<circle cx="485.2" cy="40.7" r="0.7" fill="rgb(45,85,45)" opacity="0.51"/>
<circle cx="514.5" cy="37.7" r="1.0" fill="rgb(45,90,45)" opacity="0.67"/>
<circle cx="487.3" cy="45.8" r="1.0" fill="rgb(45,62,45)" opacity="0.80"/>
<circle cx="499.7" cy="57.9" r="1.0" fill="rgb(45,58,45)" opacity="0.88"/>
<circle cx="464.6" cy="67.4" r="1.1" fill="rgb(45,60,45)" opacity="0.78"/>
<circle cx="444.7" cy="71.6" r="0.8" fill="rgb(45,82,45)" opacity="0.73"/>
</g>
<g filter="url(#bl2)">
<circle cx="443.1" cy="42.3" r="2.24" fill="rgb(65,202,65)"/>
<circle cx="444.8" cy="37.2" r="1.92" fill="rgb(64,192,64)"/>
<circle cx="454.1" cy="45.7" r="1.60" fill="rgb(62,183,62)"/>
<circle cx="461.8" cy="47.4" r="1.92" fill="rgb(65,203,65)"/>
<circle cx="453.3" cy="52.5" r="2.24" fill="rgb(63,190,63)"/>
<circle cx="460.1" cy="56.8" r="1.92" fill="rgb(64,196,64)"/>
<circle cx="451.6" cy="65.3" r="1.92" fill="rgb(63,187,63)"/>
<circle cx="456.7" cy="71.3" r="2.24" fill="rgb(64,195,64)"/>
<circle cx="461.8" cy="64.4" r="1.60" fill="rgb(64,195,64)"/>
<circle cx="465.2" cy="61.9" r="1.28" fill="rgb(63,184,63)"/>
<circle cx="475.5" cy="64.4" r="1.63" fill="rgb(54,118,54)"/>
<circle cx="489.9" cy="79.8" r="1.63" fill="rgb(53,110,53)"/>
<circle cx="499.3" cy="55.9" r="1.36" fill="rgb(55,124,55)"/>
<circle cx="500.2" cy="73.8" r="1.36" fill="rgb(55,126,55)"/>
<circle cx="507.0" cy="68.7" r="1.36" fill="rgb(54,117,54)"/>
<circle cx="512.1" cy="73.0" r="1.36" fill="rgb(53,106,53)"/>
<circle cx="511.3" cy="63.6" r="1.36" fill="rgb(55,126,55)"/>
<circle cx="501.9" cy="46.5" r="1.09" fill="rgb(55,124,55)"/>
<circle cx="516.4" cy="55.1" r="1.09" fill="rgb(55,124,55)"/>
<circle cx="461.0" cy="43.1" r="1.60" fill="rgb(61,171,61)"/>
<circle cx="451.6" cy="34.6" r="1.41" fill="rgb(65,200,65)"/>
<circle cx="465.2" cy="33.8" r="1.41" fill="rgb(64,194,64)"/>
<circle cx="496.8" cy="67.0" r="1.09" fill="rgb(56,129,56)"/>
</g>
<g filter="url(#bl2)">
<circle cx="452.7" cy="48.4" r="1.10" fill="rgb(50,113,50)"/>
<circle cx="513.8" cy="43.3" r="1.50" fill="rgb(50,100,50)"/>
<circle cx="459.3" cy="64.2" r="1.20" fill="rgb(50,117,50)"/>
<circle cx="445.5" cy="70.9" r="1.50" fill="rgb(50,125,50)"/>
<circle cx="449.4" cy="51.7" r="1.12" fill="rgb(50,110,50)"/>
<circle cx="507.2" cy="77.4" r="1.56" fill="rgb(50,128,50)"/>
<circle cx="503.8" cy="49.7" r="1.54" fill="rgb(50,117,50)"/>
<circle cx="442.4" cy="38.0" r="1.15" fill="rgb(50,129,50)"/>
<circle cx="509.0" cy="54.0" r="1.29" fill="rgb(50,103,50)"/>
<circle cx="507.1" cy="68.0" r="1.51" fill="rgb(50,99,50)"/>
<circle cx="467.4" cy="77.3" r="1.53" fill="rgb(50,112,50)"/>
<circle cx="482.4" cy="52.6" r="1.59" fill="rgb(50,129,50)"/>
<circle cx="482.3" cy="61.5" r="1.44" fill="rgb(50,116,50)"/>
<circle cx="461.9" cy="82.8" r="1.60" fill="rgb(50,109,50)"/>
<circle cx="484.2" cy="82.1" r="1.24" fill="rgb(50,127,50)"/>
<circle cx="444.4" cy="64.5" r="1.27" fill="rgb(50,115,50)"/>
<circle cx="468.0" cy="48.5" r="1.33" fill="rgb(50,98,50)"/>
<circle cx="480.5" cy="57.0" r="1.32" fill="rgb(50,124,50)"/>
<circle cx="497.6" cy="73.6" r="1.33" fill="rgb(50,112,50)"/>
<circle cx="459.1" cy="70.0" r="1.59" fill="rgb(50,125,50)"/>
</g>
<rect x="442.10" y="85.80" width="16.2" height="1.1" fill="#d8d8d8"/>
<rect x="274.60" y="93.60" width="79.80" height="58.00" fill="#252f25"/>
<rect x="274.60" y="93.60" width="79.80" height="0.8" fill="#161816"/>
<g filter="url(#bl)">
<circle cx="306.1" cy="119.4" r="0.7" fill="rgb(45,152,45)" opacity="0.81"/>
<circle cx="316.7" cy="115.0" r="0.5" fill="rgb(45,65,45)" opacity="0.65"/>
<circle cx="319.2" cy="102.4" r="0.7" fill="rgb(45,101,45)" opacity="0.84"/>
<circle cx="330.8" cy="107.0" r="0.5" fill="rgb(45,156,45)" opacity="0.83"/>
<circle cx="326.7" cy="99.2" r="0.8" fill="rgb(45,123,45)" opacity="0.88"/>
<circle cx="287.9" cy="111.2" r="0.9" fill="rgb(45,143,45)" opacity="0.62"/>
<circle cx="280.4" cy="123.5" r="1.1" fill="rgb(45,98,45)" opacity="0.56"/>
<circle cx="323.0" cy="119.7" r="0.5" fill="rgb(45,147,45)" opacity="0.65"/>
<circle cx="278.6" cy="117.8" r="1.1" fill="rgb(45,86,45)" opacity="0.65"/>
<circle cx="320.8" cy="121.3" r="0.8" fill="rgb(45,75,45)" opacity="0.88"/>
<circle cx="306.3" cy="105.7" r="1.0" fill="rgb(45,78,45)" opacity="0.58"/>
<circle cx="310.8" cy="111.7" r="0.6" fill="rgb(45,106,45)" opacity="0.76"/>
<circle cx="329.1" cy="104.4" r="1.0" fill="rgb(45,84,45)" opacity="0.73"/>
<circle cx="291.5" cy="94.9" r="0.7" fill="rgb(45,128,45)" opacity="0.69"/>
<circle cx="291.5" cy="114.1" r="0.7" fill="rgb(45,125,45)" opacity="0.53"/>
<circle cx="333.2" cy="122.6" r="0.8" fill="rgb(45,58,45)" opacity="0.77"/>
<circle cx="299.1" cy="117.1" r="0.9" fill="rgb(45,152,45)" opacity="0.66"/>
<circle cx="287.0" cy="102.3" r="0.6" fill="rgb(45,68,45)" opacity="0.58"/>
<circle cx="324.7" cy="111.1" r="1.1" fill="rgb(45,134,45)" opacity="0.82"/>
<circle cx="278.5" cy="123.1" r="1.0" fill="rgb(45,63,45)" opacity="0.84"/>
<circle cx="314.0" cy="107.0" r="0.6" fill="rgb(45,62,45)" opacity="0.75"/>
<circle cx="289.7" cy="111.0" r="0.6" fill="rgb(45,78,45)" opacity="0.62"/>
<circle cx="317.9" cy="109.6" r="0.8" fill="rgb(45,90,45)" opacity="0.72"/>
<circle cx="305.7" cy="108.3" r="1.0" fill="rgb(45,153,45)" opacity="0.59"/>
<circle cx="294.2" cy="100.4" r="0.5" fill="rgb(45,87,45)" opacity="0.80"/>
<circle cx="308.7" cy="107.6" r="0.7" fill="rgb(45,144,45)" opacity="0.73"/>
<circle cx="329.9" cy="111.7" r="0.7" fill="rgb(45,113,45)" opacity="0.90"/>
<circle cx="319.6" cy="103.9" r="0.9" fill="rgb(45,86,45)" opacity="0.71"/>
<circle cx="306.1" cy="100.5" r="0.9" fill="rgb(45,109,45)" opacity="0.81"/>
<circle cx="301.8" cy="108.3" r="0.8" fill="rgb(45,101,45)" opacity="0.69"/>
<circle cx="276.3" cy="102.7" r="1.0" fill="rgb(45,155,45)" opacity="0.69"/>
<circle cx="319.5" cy="101.1" r="0.8" fill="rgb(45,78,45)" opacity="0.78"/>
<circle cx="277.2" cy="109.1" r="0.9" fill="rgb(45,145,45)" opacity="0.90"/>
<circle cx="281.4" cy="122.6" r="0.5" fill="rgb(45,138,45)" opacity="0.71"/>
<circle cx="319.9" cy="101.4" r="1.0" fill="rgb(45,116,45)" opacity="0.82"/>
<circle cx="300.6" cy="96.4" r="0.6" fill="rgb(45,105,45)" opacity="0.72"/>
<circle cx="291.3" cy="105.3" r="1.0" fill="rgb(45,105,45)" opacity="0.89"/>
<circle cx="299.3" cy="94.8" r="0.7" fill="rgb(45,128,45)" opacity="0.80"/>
<circle cx="324.1" cy="95.6" r="0.7" fill="rgb(45,125,45)" opacity="0.63"/>
<circle cx="295.1" cy="111.2" r="0.8" fill="rgb(45,76,45)" opacity="0.61"/>
<circle cx="282.9" cy="102.3" r="0.7" fill="rgb(45,120,45)" opacity="0.58"/>
<circle cx="296.9" cy="101.2" r="1.0" fill="rgb(45,155,45)" opacity="0.56"/>
<circle cx="292.7" cy="108.0" r="0.7" fill="rgb(45,104,45)" opacity="0.71"/>
<circle cx="320.0" cy="99.3" r="0.6" fill="rgb(45,107,45)" opacity="0.71"/>
<circle cx="294.1" cy="119.3" r="1.1" fill="rgb(45,143,45)" opacity="0.66"/>
<circle cx="311.6" cy="99.8" r="1.0" fill="rgb(45,123,45)" opacity="0.67"/>
<circle cx="294.4" cy="117.9" r="1.0" fill="rgb(45,128,45)" opacity="0.62"/>
<circle cx="289.8" cy="102.3" r="0.5" fill="rgb(45,71,45)" opacity="0.55"/>
<circle cx="304.3" cy="107.9" r="0.7" fill="rgb(45,144,45)" opacity="0.57"/>
<circle cx="329.9" cy="96.8" r="1.0" fill="rgb(45,85,45)" opacity="0.63"/>
<circle cx="331.8" cy="117.5" r="1.0" fill="rgb(45,82,45)" opacity="0.87"/>
<circle cx="305.6" cy="99.0" r="1.0" fill="rgb(45,64,45)" opacity="0.86"/>
<circle cx="313.8" cy="118.4" r="0.6" fill="rgb(45,133,45)" opacity="0.59"/>
<circle cx="326.2" cy="120.4" r="0.7" fill="rgb(45,94,45)" opacity="0.53"/>
<circle cx="299.2" cy="122.6" r="0.7" fill="rgb(45,72,45)" opacity="0.51"/>
<circle cx="308.8" cy="96.5" r="0.8" fill="rgb(45,119,45)" opacity="0.67"/>
<circle cx="290.7" cy="103.9" r="1.1" fill="rgb(45,144,45)" opacity="0.80"/>
<circle cx="288.0" cy="101.0" r="1.0" fill="rgb(45,87,45)" opacity="0.88"/>
<circle cx="289.0" cy="114.1" r="0.8" fill="rgb(45,88,45)" opacity="0.58"/>
<circle cx="317.7" cy="118.7" r="0.8" fill="rgb(45,149,45)" opacity="0.68"/>
<circle cx="313.3" cy="98.6" r="1.0" fill="rgb(45,142,45)" opacity="0.59"/>
<circle cx="299.0" cy="109.6" r="0.9" fill="rgb(45,139,45)" opacity="0.60"/>
<circle cx="331.1" cy="123.2" r="0.8" fill="rgb(45,140,45)" opacity="0.69"/>
<circle cx="299.3" cy="124.7" r="1.1" fill="rgb(45,99,45)" opacity="0.57"/>
<circle cx="277.4" cy="109.1" r="0.7" fill="rgb(45,72,45)" opacity="0.51"/>
<circle cx="282.9" cy="108.2" r="0.7" fill="rgb(45,63,45)" opacity="0.75"/>
<circle cx="290.8" cy="104.2" r="0.7" fill="rgb(45,88,45)" opacity="0.73"/>
<circle cx="320.9" cy="95.6" r="0.8" fill="rgb(45,104,45)" opacity="0.87"/>
<circle cx="316.7" cy="103.1" r="1.0" fill="rgb(45,113,45)" opacity="0.88"/>
<circle cx="320.4" cy="97.9" r="0.8" fill="rgb(45,88,45)" opacity="0.63"/>
<circle cx="319.9" cy="109.8" r="0.5" fill="rgb(45,154,45)" opacity="0.82"/>
<circle cx="282.2" cy="110.6" r="0.7" fill="rgb(45,68,45)" opacity="0.74"/>
<circle cx="331.5" cy="95.9" r="0.6" fill="rgb(45,90,45)" opacity="0.80"/>
<circle cx="284.0" cy="100.7" r="0.5" fill="rgb(45,134,45)" opacity="0.85"/>
<circle cx="291.2" cy="125.3" r="0.6" fill="rgb(45,64,45)" opacity="0.69"/>
<circle cx="293.6" cy="114.4" r="0.7" fill="rgb(45,81,45)" opacity="0.51"/>
<circle cx="280.8" cy="94.7" r="1.0" fill="rgb(45,97,45)" opacity="0.71"/>
<circle cx="294.5" cy="108.7" r="1.0" fill="rgb(45,129,45)" opacity="0.54"/>
<circle cx="313.3" cy="103.7" r="0.9" fill="rgb(45,148,45)" opacity="0.74"/>
<circle cx="314.5" cy="118.1" r="0.7" fill="rgb(45,62,45)" opacity="0.52"/>
<circle cx="284.6" cy="123.2" r="0.6" fill="rgb(45,108,45)" opacity="0.62"/>
<circle cx="300.1" cy="97.2" r="0.7" fill="rgb(45,135,45)" opacity="0.52"/>
<circle cx="305.6" cy="107.3" r="0.7" fill="rgb(45,129,45)" opacity="0.60"/>
<circle cx="304.9" cy="107.1" r="0.9" fill="rgb(45,66,45)" opacity="0.85"/>
<circle cx="324.1" cy="114.9" r="1.0" fill="rgb(45,98,45)" opacity="0.58"/>
<circle cx="281.4" cy="100.9" r="0.6" fill="rgb(45,104,45)" opacity="0.67"/>
<circle cx="323.0" cy="113.6" r="0.6" fill="rgb(45,72,45)" opacity="0.50"/>
<circle cx="278.6" cy="102.7" r="1.0" fill="rgb(45,123,45)" opacity="0.65"/>
<circle cx="278.3" cy="111.8" r="0.5" fill="rgb(45,150,45)" opacity="0.75"/>
<circle cx="333.8" cy="104.6" r="1.0" fill="rgb(45,110,45)" opacity="0.77"/>
<circle cx="285.7" cy="118.8" r="0.9" fill="rgb(45,110,45)" opacity="0.74"/>
<circle cx="323.8" cy="112.2" r="0.6" fill="rgb(45,147,45)" opacity="0.51"/>
<circle cx="283.6" cy="110.2" r="1.1" fill="rgb(45,124,45)" opacity="0.50"/>
<circle cx="276.1" cy="106.4" r="0.7" fill="rgb(45,117,45)" opacity="0.61"/>
<circle cx="287.4" cy="116.6" r="1.1" fill="rgb(45,112,45)" opacity="0.63"/>
<circle cx="303.4" cy="124.2" r="0.7" fill="rgb(45,122,45)" opacity="0.79"/>
<circle cx="301.7" cy="97.4" r="0.8" fill="rgb(45,64,45)" opacity="0.62"/>
<circle cx="290.7" cy="116.9" r="0.8" fill="rgb(45,77,45)" opacity="0.70"/>
<circle cx="276.1" cy="119.4" r="0.6" fill="rgb(45,78,45)" opacity="0.71"/>
<circle cx="288.0" cy="95.6" r="0.5" fill="rgb(45,65,45)" opacity="0.64"/>
<circle cx="294.6" cy="101.1" r="1.0" fill="rgb(45,70,45)" opacity="0.73"/>
<circle cx="311.0" cy="94.9" r="0.5" fill="rgb(45,147,45)" opacity="0.81"/>
<circle cx="313.7" cy="107.3" r="0.8" fill="rgb(45,84,45)" opacity="0.73"/>
<circle cx="324.8" cy="96.3" r="0.9" fill="rgb(45,63,45)" opacity="0.61"/>
<circle cx="309.4" cy="106.4" r="1.0" fill="rgb(45,59,45)" opacity="0.57"/>
<circle cx="295.1" cy="117.5" r="1.0" fill="rgb(45,146,45)" opacity="0.87"/>
<circle cx="294.2" cy="101.8" r="1.0" fill="rgb(45,96,45)" opacity="0.76"/>
<circle cx="312.1" cy="116.3" r="0.8" fill="rgb(45,73,45)" opacity="0.67"/>
<circle cx="327.0" cy="104.1" r="0.9" fill="rgb(45,105,45)" opacity="0.78"/>
<circle cx="321.5" cy="117.6" r="1.1" fill="rgb(45,66,45)" opacity="0.51"/>
<circle cx="318.3" cy="104.0" r="0.7" fill="rgb(45,64,45)" opacity="0.55"/>
<circle cx="287.9" cy="124.4" r="0.7" fill="rgb(45,135,45)" opacity="0.70"/>
<circle cx="310.5" cy="104.4" r="0.8" fill="rgb(45,66,45)" opacity="0.84"/>
<circle cx="331.6" cy="113.3" r="0.8" fill="rgb(45,133,45)" opacity="0.81"/>
<circle cx="322.9" cy="122.4" r="0.8" fill="rgb(45,71,45)" opacity="0.53"/>
<circle cx="309.5" cy="109.2" r="0.8" fill="rgb(45,110,45)" opacity="0.64"/>
<circle cx="283.8" cy="104.5" r="0.7" fill="rgb(45,131,45)" opacity="0.89"/>
<circle cx="324.5" cy="102.7" r="1.0" fill="rgb(45,96,45)" opacity="0.50"/>
<circle cx="320.5" cy="107.1" r="0.5" fill="rgb(45,119,45)" opacity="0.76"/>
<circle cx="278.9" cy="103.4" r="0.9" fill="rgb(45,113,45)" opacity="0.64"/>
<circle cx="290.6" cy="105.8" r="0.6" fill="rgb(45,81,45)" opacity="0.60"/>
<circle cx="304.6" cy="117.8" r="0.7" fill="rgb(45,136,45)" opacity="0.88"/>
<circle cx="295.8" cy="120.3" r="1.0" fill="rgb(45,135,45)" opacity="0.86"/>
<circle cx="310.8" cy="121.7" r="0.8" fill="rgb(45,78,45)" opacity="0.73"/>
<circle cx="306.7" cy="96.4" r="0.9" fill="rgb(45,77,45)" opacity="0.65"/>
<circle cx="316.6" cy="117.2" r="0.6" fill="rgb(45,106,45)" opacity="0.68"/>
<circle cx="329.4" cy="104.3" r="1.0" fill="rgb(45,63,45)" opacity="0.65"/>
<circle cx="287.2" cy="110.4" r="0.8" fill="rgb(45,146,45)" opacity="0.58"/>
<circle cx="276.1" cy="107.6" r="1.1" fill="rgb(45,77,45)" opacity="0.85"/>
<circle cx="332.6" cy="122.7" r="0.9" fill="rgb(45,79,45)" opacity="0.72"/>
<circle cx="306.7" cy="111.3" r="0.6" fill="rgb(45,73,45)" opacity="0.52"/>
<circle cx="315.9" cy="99.7" r="0.9" fill="rgb(45,141,45)" opacity="0.62"/>
<circle cx="327.8" cy="97.4" r="1.0" fill="rgb(45,72,45)" opacity="0.65"/>
<circle cx="328.6" cy="109.8" r="1.1" fill="rgb(45,58,45)" opacity="0.90"/>
<circle cx="302.0" cy="116.6" r="0.6" fill="rgb(45,120,45)" opacity="0.80"/>
<circle cx="304.3" cy="116.0" r="0.7" fill="rgb(45,58,45)" opacity="0.58"/>
<circle cx="329.7" cy="95.5" r="0.7" fill="rgb(45,59,45)" opacity="0.83"/>
<circle cx="286.9" cy="115.6" r="0.9" fill="rgb(45,132,45)" opacity="0.65"/>
<circle cx="319.1" cy="98.3" r="1.0" fill="rgb(45,78,45)" opacity="0.59"/>
<circle cx="290.7" cy="98.8" r="1.1" fill="rgb(45,104,45)" opacity="0.56"/>
<circle cx="305.6" cy="122.1" r="0.8" fill="rgb(45,63,45)" opacity="0.62"/>
<circle cx="307.7" cy="123.6" r="0.7" fill="rgb(45,149,45)" opacity="0.58"/>
<circle cx="305.5" cy="123.6" r="0.7" fill="rgb(45,76,45)" opacity="0.65"/>
<circle cx="330.4" cy="103.7" r="0.7" fill="rgb(45,71,45)" opacity="0.72"/>
<circle cx="288.6" cy="118.5" r="0.8" fill="rgb(45,71,45)" opacity="0.64"/>
<circle cx="327.2" cy="124.6" r="0.7" fill="rgb(45,97,45)" opacity="0.66"/>
<circle cx="312.2" cy="99.6" r="0.7" fill="rgb(45,60,45)" opacity="0.73"/>
<circle cx="295.7" cy="99.6" r="1.1" fill="rgb(45,106,45)" opacity="0.88"/>
<circle cx="290.0" cy="100.5" r="1.0" fill="rgb(45,120,45)" opacity="0.55"/>
<circle cx="305.7" cy="104.3" r="1.1" fill="rgb(45,152,45)" opacity="0.60"/>
<circle cx="331.5" cy="99.0" r="1.1" fill="rgb(45,76,45)" opacity="0.64"/>
<circle cx="331.3" cy="112.4" r="1.1" fill="rgb(45,114,45)" opacity="0.79"/>
<circle cx="294.5" cy="107.6" r="0.6" fill="rgb(45,86,45)" opacity="0.63"/>
<circle cx="316.6" cy="107.9" r="1.0" fill="rgb(45,61,45)" opacity="0.77"/>
<circle cx="329.1" cy="112.3" r="1.0" fill="rgb(45,85,45)" opacity="0.78"/>
<circle cx="309.4" cy="113.2" r="0.7" fill="rgb(45,87,45)" opacity="0.51"/>
<circle cx="301.0" cy="110.3" r="1.1" fill="rgb(45,70,45)" opacity="0.87"/>
<circle cx="294.5" cy="98.7" r="0.9" fill="rgb(45,62,45)" opacity="0.80"/>
<circle cx="300.7" cy="118.8" r="0.7" fill="rgb(45,76,45)" opacity="0.59"/>
<circle cx="276.9" cy="94.8" r="0.6" fill="rgb(45,143,45)" opacity="0.54"/>
<circle cx="313.4" cy="104.7" r="0.5" fill="rgb(45,105,45)" opacity="0.52"/>
<circle cx="303.6" cy="124.0" r="0.6" fill="rgb(45,70,45)" opacity="0.81"/>
<circle cx="319.6" cy="110.4" r="0.7" fill="rgb(45,125,45)" opacity="0.59"/>
<circle cx="294.6" cy="103.2" r="1.0" fill="rgb(45,108,45)" opacity="0.82"/>
<circle cx="314.2" cy="100.5" r="0.6" fill="rgb(45,123,45)" opacity="0.55"/>
<circle cx="300.4" cy="125.2" r="0.9" fill="rgb(45,91,45)" opacity="0.81"/>
<circle cx="312.7" cy="99.9" r="0.9" fill="rgb(45,117,45)" opacity="0.61"/>
<circle cx="282.7" cy="96.4" r="1.0" fill="rgb(45,122,45)" opacity="0.51"/>
<circle cx="299.5" cy="119.0" r="1.0" fill="rgb(45,139,45)" opacity="0.56"/>
<circle cx="296.1" cy="96.3" r="0.9" fill="rgb(45,89,45)" opacity="0.60"/>
<circle cx="332.4" cy="102.6" r="0.8" fill="rgb(45,100,45)" opacity="0.71"/>
<circle cx="317.2" cy="110.3" r="0.8" fill="rgb(45,134,45)" opacity="0.88"/>
<circle cx="324.6" cy="122.0" r="0.9" fill="rgb(45,150,45)" opacity="0.67"/>
<circle cx="286.1" cy="102.1" r="1.0" fill="rgb(45,100,45)" opacity="0.69"/>
<circle cx="278.7" cy="103.5" r="0.6" fill="rgb(45,105,45)" opacity="0.86"/>
<circle cx="293.5" cy="98.1" r="0.8" fill="rgb(45,146,45)" opacity="0.58"/>
<circle cx="281.0" cy="110.8" r="0.7" fill="rgb(45,149,45)" opacity="0.64"/>
<circle cx="325.9" cy="114.5" r="0.5" fill="rgb(45,130,45)" opacity="0.84"/>
<circle cx="333.3" cy="106.4" r="0.6" fill="rgb(45,134,45)" opacity="0.60"/>
<circle cx="329.3" cy="101.4" r="0.7" fill="rgb(45,88,45)" opacity="0.56"/>
<circle cx="328.4" cy="97.2" r="0.7" fill="rgb(45,151,45)" opacity="0.76"/>
<circle cx="295.4" cy="103.6" r="1.1" fill="rgb(45,111,45)" opacity="0.75"/>
<circle cx="287.8" cy="113.6" r="1.1" fill="rgb(45,120,45)" opacity="0.66"/>
<circle cx="328.5" cy="108.8" r="0.8" fill="rgb(45,155,45)" opacity="0.61"/>
<circle cx="317.4" cy="122.9" r="0.7" fill="rgb(45,67,45)" opacity="0.69"/>
<circle cx="329.3" cy="122.7" r="0.9" fill="rgb(45,76,45)" opacity="0.76"/>
<circle cx="308.9" cy="96.2" r="1.0" fill="rgb(45,92,45)" opacity="0.61"/>
<circle cx="330.5" cy="118.2" r="0.6" fill="rgb(45,90,45)" opacity="0.58"/>
<circle cx="326.5" cy="113.6" r="0.8" fill="rgb(45,136,45)" opacity="0.76"/>
<circle cx="294.6" cy="99.6" r="0.6" fill="rgb(45,96,45)" opacity="0.69"/>
<circle cx="296.0" cy="99.9" r="1.0" fill="rgb(45,81,45)" opacity="0.85"/>
<circle cx="326.2" cy="101.3" r="0.9" fill="rgb(45,96,45)" opacity="0.57"/>
<circle cx="298.3" cy="118.3" r="0.6" fill="rgb(45,151,45)" opacity="0.70"/>
<circle cx="304.5" cy="108.0" r="0.5" fill="rgb(45,142,45)" opacity="0.83"/>
<circle cx="324.2" cy="106.2" r="1.0" fill="rgb(45,128,45)" opacity="0.67"/>
<circle cx="283.0" cy="101.6" r="0.7" fill="rgb(45,150,45)" opacity="0.81"/>
<circle cx="280.5" cy="119.2" r="0.9" fill="rgb(45,78,45)" opacity="0.62"/>
<circle cx="318.3" cy="116.2" r="0.6" fill="rgb(45,155,45)" opacity="0.67"/>
<circle cx="327.7" cy="114.0" r="0.6" fill="rgb(45,64,45)" opacity="0.74"/>
<circle cx="283.5" cy="96.9" r="0.7" fill="rgb(45,96,45)" opacity="0.69"/>
<circle cx="303.8" cy="114.9" r="1.1" fill="rgb(45,69,45)" opacity="0.53"/>
<circle cx="322.2" cy="107.3" r="0.8" fill="rgb(45,97,45)" opacity="0.66"/>
<circle cx="302.9" cy="124.6" r="0.8" fill="rgb(45,111,45)" opacity="0.60"/>
<circle cx="330.6" cy="115.1" r="1.1" fill="rgb(45,81,45)" opacity="0.61"/>
<circle cx="330.9" cy="123.8" r="0.7" fill="rgb(45,134,45)" opacity="0.88"/>
<circle cx="305.0" cy="94.9" r="0.8" fill="rgb(45,97,45)" opacity="0.67"/>
<circle cx="276.1" cy="99.5" r="0.7" fill="rgb(45,74,45)" opacity="0.60"/>
<circle cx="310.1" cy="119.0" r="0.8" fill="rgb(45,110,45)" opacity="0.59"/>
<circle cx="300.8" cy="104.3" r="0.7" fill="rgb(45,91,45)" opacity="0.89"/>
<circle cx="307.1" cy="107.3" r="0.9" fill="rgb(45,147,45)" opacity="0.84"/>
<circle cx="322.8" cy="124.2" r="0.9" fill="rgb(45,78,45)" opacity="0.86"/>
<circle cx="298.7" cy="122.1" r="0.5" fill="rgb(45,61,45)" opacity="0.58"/>
<circle cx="295.1" cy="101.8" r="0.8" fill="rgb(45,77,45)" opacity="0.74"/>
<circle cx="293.5" cy="122.2" r="1.1" fill="rgb(45,155,45)" opacity="0.79"/>
<circle cx="331.5" cy="117.6" r="0.8" fill="rgb(45,148,45)" opacity="0.89"/>
<circle cx="276.7" cy="116.6" r="0.6" fill="rgb(45,121,45)" opacity="0.83"/>
<circle cx="297.2" cy="122.6" r="0.8" fill="rgb(45,155,45)" opacity="0.89"/>
<circle cx="284.9" cy="101.4" r="1.0" fill="rgb(45,141,45)" opacity="0.62"/>
<circle cx="299.8" cy="107.7" r="0.5" fill="rgb(45,124,45)" opacity="0.73"/>
<circle cx="315.4" cy="117.0" r="0.6" fill="rgb(45,61,45)" opacity="0.59"/>
<circle cx="300.9" cy="115.5" r="0.7" fill="rgb(45,103,45)" opacity="0.67"/>
<circle cx="324.4" cy="124.2" r="0.7" fill="rgb(45,128,45)" opacity="0.52"/>
<circle cx="311.9" cy="95.1" r="0.6" fill="rgb(45,75,45)" opacity="0.59"/>
<circle cx="277.3" cy="96.5" r="1.0" fill="rgb(45,151,45)" opacity="0.51"/>
<circle cx="326.1" cy="119.4" r="1.0" fill="rgb(45,150,45)" opacity="0.62"/>
<circle cx="318.2" cy="97.3" r="1.0" fill="rgb(45,109,45)" opacity="0.53"/>
<circle cx="285.4" cy="123.4" r="0.6" fill="rgb(45,95,45)" opacity="0.65"/>
<circle cx="295.4" cy="95.1" r="0.7" fill="rgb(45,136,45)" opacity="0.74"/>
<circle cx="314.4" cy="123.8" r="0.8" fill="rgb(45,137,45)" opacity="0.65"/>
<circle cx="311.5" cy="101.4" r="0.9" fill="rgb(45,69,45)" opacity="0.88"/>
<circle cx="327.5" cy="97.5" r="0.9" fill="rgb(45,125,45)" opacity="0.80"/>
<circle cx="298.8" cy="109.4" r="0.6" fill="rgb(45,132,45)" opacity="0.64"/>
<circle cx="281.5" cy="113.8" r="1.0" fill="rgb(45,80,45)" opacity="0.51"/>
<circle cx="328.4" cy="110.0" r="0.5" fill="rgb(45,92,45)" opacity="0.62"/>
<circle cx="315.5" cy="107.1" r="0.6" fill="rgb(45,70,45)" opacity="0.73"/>
<circle cx="276.5" cy="112.0" r="0.8" fill="rgb(45,97,45)" opacity="0.54"/>
<circle cx="324.2" cy="99.2" r="0.9" fill="rgb(45,124,45)" opacity="0.84"/>
<circle cx="310.6" cy="113.9" r="0.7" fill="rgb(45,113,45)" opacity="0.60"/>
<circle cx="289.3" cy="120.9" r="0.8" fill="rgb(45,104,45)" opacity="0.89"/>
<circle cx="320.4" cy="115.3" r="0.6" fill="rgb(45,119,45)" opacity="0.72"/>
<circle cx="287.5" cy="118.7" r="0.6" fill="rgb(45,108,45)" opacity="0.66"/>
<circle cx="332.6" cy="121.5" r="0.7" fill="rgb(45,100,45)" opacity="0.59"/>
<circle cx="306.4" cy="97.9" r="0.8" fill="rgb(45,106,45)" opacity="0.69"/>
<circle cx="321.8" cy="106.2" r="0.6" fill="rgb(45,134,45)" opacity="0.81"/>
<circle cx="302.7" cy="107.9" r="0.6" fill="rgb(45,88,45)" opacity="0.64"/>
<circle cx="276.7" cy="106.9" r="0.6" fill="rgb(45,109,45)" opacity="0.64"/>
<circle cx="290.1" cy="98.9" r="1.1" fill="rgb(45,156,45)" opacity="0.80"/>
<circle cx="293.6" cy="124.4" r="0.7" fill="rgb(45,73,45)" opacity="0.51"/>
<circle cx="333.4" cy="99.3" r="1.0" fill="rgb(45,143,45)" opacity="0.80"/>
<circle cx="327.7" cy="124.1" r="0.9" fill="rgb(45,101,45)" opacity="0.70"/>
<circle cx="296.2" cy="106.1" r="1.0" fill="rgb(45,140,45)" opacity="0.62"/>
<circle cx="300.0" cy="110.5" r="0.6" fill="rgb(45,90,45)" opacity="0.73"/>
<circle cx="276.2" cy="125.3" r="0.9" fill="rgb(45,79,45)" opacity="0.69"/>
<circle cx="318.0" cy="120.6" r="0.6" fill="rgb(45,62,45)" opacity="0.88"/>
<circle cx="327.6" cy="102.9" r="0.6" fill="rgb(45,115,45)" opacity="0.68"/>
<circle cx="304.9" cy="117.1" r="0.8" fill="rgb(45,89,45)" opacity="0.64"/>
<circle cx="292.9" cy="96.5" r="1.0" fill="rgb(45,87,45)" opacity="0.87"/>
<circle cx="296.8" cy="120.3" r="0.9" fill="rgb(45,66,45)" opacity="0.83"/>
<circle cx="323.2" cy="124.2" r="1.0" fill="rgb(45,145,45)" opacity="0.57"/>
<circle cx="315.6" cy="118.6" r="0.9" fill="rgb(45,126,45)" opacity="0.86"/>
<circle cx="286.8" cy="124.2" r="0.7" fill="rgb(45,150,45)" opacity="0.64"/>
<circle cx="312.3" cy="110.6" r="1.0" fill="rgb(45,59,45)" opacity="0.65"/>
<circle cx="311.8" cy="117.3" r="0.7" fill="rgb(45,154,45)" opacity="0.75"/>
<circle cx="329.3" cy="116.1" r="0.6" fill="rgb(45,81,45)" opacity="0.75"/>
<circle cx="313.0" cy="107.2" r="0.5" fill="rgb(45,128,45)" opacity="0.73"/>
<circle cx="329.3" cy="108.0" r="0.9" fill="rgb(45,79,45)" opacity="0.71"/>
<circle cx="288.0" cy="102.8" r="0.6" fill="rgb(45,79,45)" opacity="0.56"/>
<circle cx="294.1" cy="124.5" r="0.5" fill="rgb(45,99,45)" opacity="0.74"/>
<circle cx="316.9" cy="111.3" r="0.5" fill="rgb(45,92,45)" opacity="0.80"/>
<circle cx="292.5" cy="115.9" r="0.9" fill="rgb(45,123,45)" opacity="0.73"/>
<circle cx="316.3" cy="96.9" r="1.1" fill="rgb(45,96,45)" opacity="0.58"/>
<circle cx="319.0" cy="95.7" r="0.5" fill="rgb(45,64,45)" opacity="0.86"/>
<circle cx="313.8" cy="121.3" r="0.8" fill="rgb(45,94,45)" opacity="0.90"/>
<circle cx="311.0" cy="107.7" r="0.5" fill="rgb(45,86,45)" opacity="0.72"/>
<circle cx="280.3" cy="110.4" r="0.8" fill="rgb(45,100,45)" opacity="0.78"/>
<circle cx="286.3" cy="97.4" r="1.0" fill="rgb(45,85,45)" opacity="0.67"/>
<circle cx="317.4" cy="102.1" r="0.8" fill="rgb(45,139,45)" opacity="0.77"/>
<circle cx="309.3" cy="99.9" r="0.6" fill="rgb(45,76,45)" opacity="0.75"/>
<circle cx="280.5" cy="108.3" r="1.0" fill="rgb(45,146,45)" opacity="0.55"/>
<circle cx="301.9" cy="121.2" r="1.1" fill="rgb(45,153,45)" opacity="0.61"/>
<circle cx="309.6" cy="122.1" r="0.7" fill="rgb(45,63,45)" opacity="0.76"/>
<circle cx="312.9" cy="109.7" r="0.5" fill="rgb(45,103,45)" opacity="0.52"/>
<circle cx="287.7" cy="96.0" r="1.0" fill="rgb(45,93,45)" opacity="0.87"/>
<circle cx="287.2" cy="103.2" r="0.9" fill="rgb(45,107,45)" opacity="0.67"/>
<circle cx="285.1" cy="111.9" r="0.6" fill="rgb(45,132,45)" opacity="0.82"/>
<circle cx="300.9" cy="125.4" r="0.7" fill="rgb(45,69,45)" opacity="0.59"/>
<circle cx="280.5" cy="113.9" r="1.1" fill="rgb(45,92,45)" opacity="0.83"/>
<circle cx="276.3" cy="109.0" r="0.6" fill="rgb(45,126,45)" opacity="0.78"/>
<circle cx="290.9" cy="116.4" r="0.5" fill="rgb(45,109,45)" opacity="0.79"/>
<circle cx="283.0" cy="122.5" r="0.5" fill="rgb(45,119,45)" opacity="0.51"/>
<circle cx="290.0" cy="113.7" r="0.9" fill="rgb(45,75,45)" opacity="0.52"/>
<circle cx="294.0" cy="98.5" r="1.0" fill="rgb(45,123,45)" opacity="0.60"/>
<circle cx="302.4" cy="116.5" r="0.6" fill="rgb(45,135,45)" opacity="0.58"/>
<circle cx="303.9" cy="95.6" r="0.6" fill="rgb(45,133,45)" opacity="0.77"/>
<circle cx="303.1" cy="117.0" r="0.8" fill="rgb(45,82,45)" opacity="0.51"/>
<circle cx="327.4" cy="116.1" r="0.8" fill="rgb(45,62,45)" opacity="0.68"/>
<circle cx="307.5" cy="106.3" r="0.7" fill="rgb(45,80,45)" opacity="0.83"/>
<circle cx="315.9" cy="118.7" r="1.1" fill="rgb(45,99,45)" opacity="0.71"/>
<circle cx="325.6" cy="112.7" r="0.9" fill="rgb(45,109,45)" opacity="0.84"/>
<circle cx="302.6" cy="95.7" r="0.5" fill="rgb(45,138,45)" opacity="0.63"/>
<circle cx="305.9" cy="139.8" r="0.9" fill="rgb(45,62,45)" opacity="0.79"/>
<circle cx="345.5" cy="132.4" r="1.0" fill="rgb(45,78,45)" opacity="0.66"/>
<circle cx="306.8" cy="125.5" r="0.6" fill="rgb(45,94,45)" opacity="0.69"/>
<circle cx="285.0" cy="141.2" r="0.9" fill="rgb(45,67,45)" opacity="0.54"/>
<circle cx="347.7" cy="131.0" r="1.1" fill="rgb(45,89,45)" opacity="0.66"/>
<circle cx="347.2" cy="148.0" r="0.9" fill="rgb(45,81,45)" opacity="0.81"/>
<circle cx="349.0" cy="134.6" r="0.7" fill="rgb(45,64,45)" opacity="0.72"/>
<circle cx="340.4" cy="123.5" r="1.1" fill="rgb(45,68,45)" opacity="0.80"/>
<circle cx="299.4" cy="132.2" r="0.9" fill="rgb(45,63,45)" opacity="0.87"/>
<circle cx="349.0" cy="129.7" r="0.6" fill="rgb(45,66,45)" opacity="0.83"/>
<circle cx="297.7" cy="132.8" r="1.0" fill="rgb(45,60,45)" opacity="0.85"/>
<circle cx="327.1" cy="131.0" r="0.9" fill="rgb(45,90,45)" opacity="0.83"/>
<circle cx="293.6" cy="140.4" r="0.7" fill="rgb(45,86,45)" opacity="0.67"/>
<circle cx="297.6" cy="130.1" r="0.5" fill="rgb(45,102,45)" opacity="0.88"/>
<circle cx="289.3" cy="145.0" r="0.7" fill="rgb(45,62,45)" opacity="0.52"/>
<circle cx="345.2" cy="123.8" r="0.6" fill="rgb(45,105,45)" opacity="0.54"/>
<circle cx="283.1" cy="141.9" r="0.8" fill="rgb(45,58,45)" opacity="0.75"/>
<circle cx="351.0" cy="140.7" r="0.6" fill="rgb(45,88,45)" opacity="0.75"/>
<circle cx="319.1" cy="136.1" r="0.7" fill="rgb(45,66,45)" opacity="0.53"/>
<circle cx="347.4" cy="142.8" r="1.1" fill="rgb(45,59,45)" opacity="0.71"/>
<circle cx="335.9" cy="127.9" r="0.5" fill="rgb(45,64,45)" opacity="0.76"/>
<circle cx="330.1" cy="127.8" r="0.8" fill="rgb(45,67,45)" opacity="0.65"/>
<circle cx="317.3" cy="148.5" r="0.5" fill="rgb(45,60,45)" opacity="0.78"/>
<circle cx="320.9" cy="127.5" r="0.9" fill="rgb(45,79,45)" opacity="0.64"/>
<circle cx="305.5" cy="149.1" r="0.7" fill="rgb(45,59,45)" opacity="0.82"/>
<circle cx="283.9" cy="145.8" r="0.6" fill="rgb(45,95,45)" opacity="0.56"/>
<circle cx="335.2" cy="123.7" r="1.0" fill="rgb(45,99,45)" opacity="0.80"/>
<circle cx="282.1" cy="145.3" r="1.0" fill="rgb(45,66,45)" opacity="0.81"/>
<circle cx="280.4" cy="135.6" r="0.6" fill="rgb(45,102,45)" opacity="0.65"/>
<circle cx="325.5" cy="147.0" r="0.6" fill="rgb(45,98,45)" opacity="0.62"/>
<circle cx="304.7" cy="128.9" r="1.0" fill="rgb(45,92,45)" opacity="0.71"/>
<circle cx="296.3" cy="125.4" r="0.8" fill="rgb(45,81,45)" opacity="0.62"/>
<circle cx="302.9" cy="139.2" r="0.6" fill="rgb(45,85,45)" opacity="0.53"/>
<circle cx="305.3" cy="145.6" r="0.9" fill="rgb(45,86,45)" opacity="0.85"/>
<circle cx="297.1" cy="150.3" r="0.8" fill="rgb(45,88,45)" opacity="0.78"/>
<circle cx="321.4" cy="147.2" r="0.7" fill="rgb(45,58,45)" opacity="0.67"/>
<circle cx="340.4" cy="140.3" r="0.7" fill="rgb(45,89,45)" opacity="0.58"/>
<circle cx="350.3" cy="123.3" r="1.0" fill="rgb(45,78,45)" opacity="0.58"/>
<circle cx="276.3" cy="123.9" r="0.7" fill="rgb(45,61,45)" opacity="0.54"/>
<circle cx="317.3" cy="127.1" r="0.6" fill="rgb(45,64,45)" opacity="0.71"/>
<circle cx="339.1" cy="145.9" r="0.6" fill="rgb(45,58,45)" opacity="0.57"/>
<circle cx="306.8" cy="125.0" r="1.1" fill="rgb(45,60,45)" opacity="0.72"/>
<circle cx="319.6" cy="129.8" r="0.9" fill="rgb(45,59,45)" opacity="0.74"/>
<circle cx="331.4" cy="143.6" r="1.1" fill="rgb(45,68,45)" opacity="0.87"/>
<circle cx="314.5" cy="134.7" r="0.9" fill="rgb(45,86,45)" opacity="0.76"/>
<circle cx="294.3" cy="126.5" r="0.8" fill="rgb(45,90,45)" opacity="0.83"/>
<circle cx="333.1" cy="143.3" r="0.7" fill="rgb(45,79,45)" opacity="0.90"/>
<circle cx="352.1" cy="145.5" r="1.0" fill="rgb(45,92,45)" opacity="0.62"/>
<circle cx="308.1" cy="138.9" r="0.8" fill="rgb(45,71,45)" opacity="0.86"/>
<circle cx="327.9" cy="147.5" r="0.8" fill="rgb(45,99,45)" opacity="0.65"/>
<circle cx="342.5" cy="148.0" r="0.9" fill="rgb(45,103,45)" opacity="0.88"/>
<circle cx="306.7" cy="147.9" r="0.9" fill="rgb(45,83,45)" opacity="0.60"/>
<circle cx="308.0" cy="132.5" r="0.8" fill="rgb(45,81,45)" opacity="0.50"/>
<circle cx="290.3" cy="145.3" r="0.8" fill="rgb(45,68,45)" opacity="0.58"/>
<circle cx="337.0" cy="130.7" r="0.6" fill="rgb(45,95,45)" opacity="0.74"/>
<circle cx="303.9" cy="140.6" r="0.9" fill="rgb(45,105,45)" opacity="0.88"/>
<circle cx="341.6" cy="131.1" r="1.1" fill="rgb(45,75,45)" opacity="0.78"/>
<circle cx="303.8" cy="127.0" r="1.1" fill="rgb(45,89,45)" opacity="0.83"/>
<circle cx="336.9" cy="127.3" r="1.0" fill="rgb(45,105,45)" opacity="0.58"/>
<circle cx="334.6" cy="129.6" r="0.8" fill="rgb(45,85,45)" opacity="0.60"/>
<circle cx="321.4" cy="126.4" r="0.7" fill="rgb(45,103,45)" opacity="0.90"/>
<circle cx="308.3" cy="135.7" r="1.0" fill="rgb(45,68,45)" opacity="0.77"/>
<circle cx="321.6" cy="139.2" r="0.6" fill="rgb(45,81,45)" opacity="0.90"/>
<circle cx="297.2" cy="131.6" r="1.1" fill="rgb(45,62,45)" opacity="0.77"/>
<circle cx="336.4" cy="130.1" r="0.6" fill="rgb(45,81,45)" opacity="0.55"/>
<circle cx="282.0" cy="123.3" r="0.7" fill="rgb(45,90,45)" opacity="0.72"/>
<circle cx="325.3" cy="136.8" r="0.8" fill="rgb(45,76,45)" opacity="0.53"/>
<circle cx="317.6" cy="130.6" r="0.9" fill="rgb(45,70,45)" opacity="0.51"/>
<circle cx="307.6" cy="133.3" r="0.8" fill="rgb(45,61,45)" opacity="0.76"/>
<circle cx="338.1" cy="135.1" r="0.7" fill="rgb(45,69,45)" opacity="0.60"/>
<circle cx="297.3" cy="138.4" r="0.7" fill="rgb(45,106,45)" opacity="0.73"/>
<circle cx="301.1" cy="130.6" r="0.9" fill="rgb(45,89,45)" opacity="0.87"/>
<circle cx="290.9" cy="147.8" r="1.0" fill="rgb(45,98,45)" opacity="0.59"/>
<circle cx="310.7" cy="141.3" r="0.7" fill="rgb(45,91,45)" opacity="0.59"/>
<circle cx="300.2" cy="124.4" r="0.6" fill="rgb(45,91,45)" opacity="0.57"/>
<circle cx="284.3" cy="147.1" r="0.9" fill="rgb(45,104,45)" opacity="0.63"/>
<circle cx="290.6" cy="145.0" r="0.8" fill="rgb(45,104,45)" opacity="0.55"/>
<circle cx="336.1" cy="149.2" r="1.0" fill="rgb(45,85,45)" opacity="0.59"/>
<circle cx="335.3" cy="131.8" r="0.5" fill="rgb(45,61,45)" opacity="0.70"/>
<circle cx="325.0" cy="141.7" r="0.8" fill="rgb(45,88,45)" opacity="0.90"/>
<circle cx="325.5" cy="147.1" r="0.8" fill="rgb(45,58,45)" opacity="0.89"/>
<circle cx="348.7" cy="128.2" r="1.1" fill="rgb(45,58,45)" opacity="0.65"/>
<circle cx="290.3" cy="143.3" r="0.8" fill="rgb(45,82,45)" opacity="0.86"/>
<circle cx="322.3" cy="138.8" r="0.6" fill="rgb(45,107,45)" opacity="0.84"/>
<circle cx="328.0" cy="139.6" r="0.7" fill="rgb(45,93,45)" opacity="0.85"/>
<circle cx="312.9" cy="149.0" r="0.9" fill="rgb(45,62,45)" opacity="0.67"/>
<circle cx="334.8" cy="128.9" r="1.1" fill="rgb(45,67,45)" opacity="0.63"/>
<circle cx="284.7" cy="144.7" r="0.5" fill="rgb(45,95,45)" opacity="0.67"/>
<circle cx="296.1" cy="143.6" r="1.1" fill="rgb(45,105,45)" opacity="0.52"/>
<circle cx="282.5" cy="129.6" r="0.7" fill="rgb(45,60,45)" opacity="0.81"/>
</g>
<g filter="url(#bl2)">
<circle cx="278.0" cy="120.9" r="1.28" fill="rgb(61,172,61)"/>
<circle cx="308.7" cy="114.1" r="1.15" fill="rgb(62,179,62)"/>
<circle cx="317.2" cy="124.3" r="1.15" fill="rgb(60,167,60)"/>
<circle cx="301.9" cy="108.9" r="1.02" fill="rgb(61,168,61)"/>
<circle cx="289.9" cy="103.8" r="1.02" fill="rgb(60,162,60)"/>
</g>
<rect x="277.90" y="148.00" width="16.2" height="1.1" fill="#d8d8d8"/>
<rect x="356.80" y="93.60" width="79.80" height="58.00" fill="#252f25"/>
<rect x="356.80" y="93.60" width="79.80" height="0.8" fill="#161816"/>
<g filter="url(#bl)">
<circle cx="371.9" cy="116.8" r="0.6" fill="rgb(45,66,45)" opacity="0.70"/>
<circle cx="396.2" cy="110.7" r="0.7" fill="rgb(45,72,45)" opacity="0.60"/>
<circle cx="411.6" cy="105.5" r="1.0" fill="rgb(45,85,45)" opacity="0.85"/>
<circle cx="431.2" cy="102.5" r="0.9" fill="rgb(45,63,45)" opacity="0.73"/>
<circle cx="373.5" cy="117.4" r="1.0" fill="rgb(45,99,45)" opacity="0.59"/>
<circle cx="381.1" cy="94.8" r="0.6" fill="rgb(45,107,45)" opacity="0.79"/>
<circle cx="399.6" cy="114.5" r="1.0" fill="rgb(45,76,45)" opacity="0.74"/>
<circle cx="381.4" cy="98.5" r="1.1" fill="rgb(45,73,45)" opacity="0.56"/>
<circle cx="411.0" cy="115.8" r="0.6" fill="rgb(45,60,45)" opacity="0.77"/>
<circle cx="391.8" cy="108.3" r="0.6" fill="rgb(45,73,45)" opacity="0.78"/>
<circle cx="403.6" cy="112.5" r="1.0" fill="rgb(45,67,45)" opacity="0.83"/>
<circle cx="400.2" cy="97.6" r="0.6" fill="rgb(45,60,45)" opacity="0.53"/>
<circle cx="408.2" cy="112.9" r="1.0" fill="rgb(45,62,45)" opacity="0.75"/>
<circle cx="419.4" cy="122.1" r="0.8" fill="rgb(45,85,45)" opacity="0.89"/>
<circle cx="368.1" cy="117.8" r="0.8" fill="rgb(45,99,45)" opacity="0.83"/>
<circle cx="371.9" cy="108.6" r="0.7" fill="rgb(45,64,45)" opacity="0.78"/>
<circle cx="369.0" cy="106.0" r="0.7" fill="rgb(45,97,45)" opacity="0.55"/>
<circle cx="435.2" cy="112.8" r="0.8" fill="rgb(45,58,45)" opacity="0.56"/>
<circle cx="370.5" cy="119.4" r="0.8" fill="rgb(45,83,45)" opacity="0.71"/>
<circle cx="401.3" cy="110.0" r="1.0" fill="rgb(45,59,45)" opacity="0.81"/>
<circle cx="390.6" cy="108.2" r="0.8" fill="rgb(45,81,45)" opacity="0.67"/>
<circle cx="426.0" cy="125.0" r="0.6" fill="rgb(45,60,45)" opacity="0.81"/>
<circle cx="432.3" cy="119.1" r="0.5" fill="rgb(45,65,45)" opacity="0.83"/>
<circle cx="430.2" cy="120.1" r="1.1" fill="rgb(45,89,45)" opacity="0.71"/>
<circle cx="430.2" cy="103.4" r="1.0" fill="rgb(45,58,45)" opacity="0.78"/>
<circle cx="419.8" cy="99.0" r="0.9" fill="rgb(45,65,45)" opacity="0.53"/>
<circle cx="383.4" cy="114.9" r="0.9" fill="rgb(45,103,45)" opacity="0.66"/>
<circle cx="389.5" cy="111.8" r="1.1" fill="rgb(45,89,45)" opacity="0.50"/>
<circle cx="429.8" cy="121.6" r="0.7" fill="rgb(45,58,45)" opacity="0.61"/>
<circle cx="374.6" cy="100.1" r="0.9" fill="rgb(45,60,45)" opacity="0.68"/>
<circle cx="366.1" cy="122.9" r="0.7" fill="rgb(45,96,45)" opacity="0.83"/>
<circle cx="418.2" cy="112.4" r="0.9" fill="rgb(45,59,45)" opacity="0.85"/>
<circle cx="426.8" cy="126.5" r="1.1" fill="rgb(45,60,45)" opacity="0.54"/>
<circle cx="386.1" cy="112.7" r="0.8" fill="rgb(45,82,45)" opacity="0.86"/>
<circle cx="418.1" cy="123.5" r="0.8" fill="rgb(45,85,45)" opacity="0.51"/>
<circle cx="408.1" cy="126.0" r="1.1" fill="rgb(45,61,45)" opacity="0.51"/>
<circle cx="388.7" cy="119.8" r="0.8" fill="rgb(45,87,45)" opacity="0.61"/>
<circle cx="377.0" cy="99.3" r="0.5" fill="rgb(45,83,45)" opacity="0.55"/>
<circle cx="413.6" cy="109.6" r="0.8" fill="rgb(45,58,45)" opacity="0.87"/>
<circle cx="397.6" cy="103.6" r="0.8" fill="rgb(45,60,45)" opacity="0.60"/>
<circle cx="379.2" cy="96.7" r="1.0" fill="rgb(45,80,45)" opacity="0.70"/>
<circle cx="405.4" cy="104.4" r="0.7" fill="rgb(45,108,45)" opacity="0.87"/>
<circle cx="358.9" cy="116.8" r="0.8" fill="rgb(45,98,45)" opacity="0.59"/>
<circle cx="370.8" cy="127.8" r="0.6" fill="rgb(45,108,45)" opacity="0.66"/>
<circle cx="422.2" cy="123.7" r="0.8" fill="rgb(45,58,45)" opacity="0.60"/>
<circle cx="364.3" cy="117.9" r="0.6" fill="rgb(45,74,45)" opacity="0.80"/>
<circle cx="382.9" cy="103.4" r="0.6" fill="rgb(45,65,45)" opacity="0.84"/>
<circle cx="383.4" cy="125.9" r="0.8" fill="rgb(45,85,45)" opacity="0.86"/>
<circle cx="386.8" cy="95.8" r="0.5" fill="rgb(45,83,45)" opacity="0.87"/>
<circle cx="433.5" cy="107.7" r="1.1" fill="rgb(45,59,45)" opacity="0.60"/>
<circle cx="433.0" cy="110.6" r="1.0" fill="rgb(45,99,45)" opacity="0.56"/>
<circle cx="383.8" cy="109.1" r="1.1" fill="rgb(45,61,45)" opacity="0.58"/>
<circle cx="376.2" cy="100.7" r="1.0" fill="rgb(45,60,45)" opacity="0.58"/>
<circle cx="403.6" cy="98.8" r="1.0" fill="rgb(45,94,45)" opacity="0.88"/>
<circle cx="362.1" cy="117.1" r="0.7" fill="rgb(45,88,45)" opacity="0.78"/>
<circle cx="382.9" cy="114.2" r="1.0" fill="rgb(45,97,45)" opacity="0.63"/>
<circle cx="377.9" cy="126.6" r="0.8" fill="rgb(45,62,45)" opacity="0.67"/>
<circle cx="386.2" cy="112.6" r="0.8" fill="rgb(45,59,45)" opacity="0.77"/>
<circle cx="423.8" cy="111.1" r="0.7" fill="rgb(45,62,45)" opacity="0.58"/>
<circle cx="369.2" cy="104.9" r="1.1" fill="rgb(45,69,45)" opacity="0.80"/>
<circle cx="429.5" cy="111.1" r="0.8" fill="rgb(45,61,45)" opacity="0.78"/>
<circle cx="435.1" cy="102.3" r="1.1" fill="rgb(45,91,45)" opacity="0.66"/>
<circle cx="398.3" cy="98.2" r="0.5" fill="rgb(45,84,45)" opacity="0.81"/>
<circle cx="416.6" cy="122.5" r="0.5" fill="rgb(45,97,45)" opacity="0.85"/>
<circle cx="412.8" cy="126.4" r="0.8" fill="rgb(45,101,45)" opacity="0.84"/>
<circle cx="373.3" cy="127.2" r="1.0" fill="rgb(45,85,45)" opacity="0.72"/>
<circle cx="402.4" cy="102.7" r="0.8" fill="rgb(45,93,45)" opacity="0.59"/>
<circle cx="416.5" cy="114.1" r="1.0" fill="rgb(45,71,45)" opacity="0.67"/>
<circle cx="410.5" cy="112.8" r="0.7" fill="rgb(45,68,45)" opacity="0.74"/>
<circle cx="372.1" cy="100.4" r="0.9" fill="rgb(45,66,45)" opacity="0.58"/>
<circle cx="417.6" cy="105.6" r="0.6" fill="rgb(45,104,45)" opacity="0.84"/>
<circle cx="421.9" cy="122.5" r="0.7" fill="rgb(45,82,45)" opacity="0.88"/>
<circle cx="375.1" cy="118.2" r="0.5" fill="rgb(45,70,45)" opacity="0.67"/>
<circle cx="382.5" cy="121.1" r="1.0" fill="rgb(45,62,45)" opacity="0.51"/>
<circle cx="364.5" cy="115.5" r="0.9" fill="rgb(45,103,45)" opacity="0.56"/>
<circle cx="428.7" cy="117.2" r="0.6" fill="rgb(45,58,45)" opacity="0.66"/>
<circle cx="399.1" cy="113.6" r="0.9" fill="rgb(45,96,45)" opacity="0.88"/>
<circle cx="389.4" cy="106.0" r="1.0" fill="rgb(45,84,45)" opacity="0.67"/>
<circle cx="361.5" cy="107.3" r="1.0" fill="rgb(45,62,45)" opacity="0.63"/>
<circle cx="393.2" cy="115.4" r="0.6" fill="rgb(45,58,45)" opacity="0.71"/>
<circle cx="377.4" cy="96.6" r="0.9" fill="rgb(45,89,45)" opacity="0.75"/>
<circle cx="367.8" cy="122.0" r="0.6" fill="rgb(45,108,45)" opacity="0.77"/>
<circle cx="361.8" cy="98.3" r="1.1" fill="rgb(45,66,45)" opacity="0.68"/>
<circle cx="399.8" cy="124.4" r="0.7" fill="rgb(45,69,45)" opacity="0.53"/>
<circle cx="375.9" cy="115.2" r="1.1" fill="rgb(45,99,45)" opacity="0.60"/>
<circle cx="409.8" cy="105.3" r="0.5" fill="rgb(45,78,45)" opacity="0.87"/>
<circle cx="418.5" cy="120.0" r="0.7" fill="rgb(45,82,45)" opacity="0.84"/>
<circle cx="397.2" cy="116.9" r="0.6" fill="rgb(45,64,45)" opacity="0.79"/>
<circle cx="382.4" cy="96.1" r="0.8" fill="rgb(45,65,45)" opacity="0.58"/>
<circle cx="368.6" cy="118.6" r="0.8" fill="rgb(45,72,45)" opacity="0.79"/>
<circle cx="361.5" cy="112.0" r="0.7" fill="rgb(45,107,45)" opacity="0.78"/>
<circle cx="371.6" cy="107.3" r="0.6" fill="rgb(45,72,45)" opacity="0.60"/>
<circle cx="383.6" cy="110.5" r="0.8" fill="rgb(45,69,45)" opacity="0.60"/>
<circle cx="400.1" cy="120.4" r="0.7" fill="rgb(45,73,45)" opacity="0.83"/>
<circle cx="406.5" cy="111.3" r="1.1" fill="rgb(45,65,45)" opacity="0.55"/>
<circle cx="429.6" cy="104.9" r="0.5" fill="rgb(45,102,45)" opacity="0.78"/>
<circle cx="395.0" cy="115.2" r="0.7" fill="rgb(45,59,45)" opacity="0.65"/>
<circle cx="401.3" cy="118.7" r="0.7" fill="rgb(45,105,45)" opacity="0.52"/>
<circle cx="372.0" cy="125.4" r="0.9" fill="rgb(45,77,45)" opacity="0.90"/>
<circle cx="419.6" cy="114.4" r="0.6" fill="rgb(45,92,45)" opacity="0.83"/>
<circle cx="371.3" cy="124.2" r="0.8" fill="rgb(45,97,45)" opacity="0.61"/>
<circle cx="367.6" cy="111.0" r="0.7" fill="rgb(45,62,45)" opacity="0.56"/>
<circle cx="364.3" cy="121.2" r="0.9" fill="rgb(45,92,45)" opacity="0.75"/>
<circle cx="421.4" cy="114.6" r="0.5" fill="rgb(45,82,45)" opacity="0.53"/>
<circle cx="411.6" cy="112.8" r="1.0" fill="rgb(45,64,45)" opacity="0.68"/>
<circle cx="403.0" cy="126.8" r="1.0" fill="rgb(45,72,45)" opacity="0.70"/>
<circle cx="409.5" cy="119.6" r="0.8" fill="rgb(45,75,45)" opacity="0.85"/>
<circle cx="417.2" cy="115.2" r="0.7" fill="rgb(45,87,45)" opacity="0.72"/>
<circle cx="422.9" cy="118.8" r="0.5" fill="rgb(45,103,45)" opacity="0.57"/>
<circle cx="375.2" cy="126.5" r="0.7" fill="rgb(45,100,45)" opacity="0.53"/>
<circle cx="383.7" cy="122.5" r="0.9" fill="rgb(45,96,45)" opacity="0.88"/>
<circle cx="417.6" cy="95.0" r="1.0" fill="rgb(45,61,45)" opacity="0.81"/>
<circle cx="425.4" cy="114.5" r="0.5" fill="rgb(45,102,45)" opacity="0.65"/>
<circle cx="360.8" cy="127.6" r="0.9" fill="rgb(45,98,45)" opacity="0.72"/>
<circle cx="398.5" cy="114.2" r="0.6" fill="rgb(45,64,45)" opacity="0.84"/>
<circle cx="422.3" cy="103.6" r="0.7" fill="rgb(45,71,45)" opacity="0.80"/>
<circle cx="384.2" cy="117.3" r="1.1" fill="rgb(45,59,45)" opacity="0.77"/>
<circle cx="387.2" cy="111.7" r="0.8" fill="rgb(45,85,45)" opacity="0.55"/>
<circle cx="370.0" cy="98.1" r="1.1" fill="rgb(45,82,45)" opacity="0.55"/>
<circle cx="424.7" cy="120.4" r="0.8" fill="rgb(45,63,45)" opacity="0.53"/>
<circle cx="421.1" cy="110.3" r="0.8" fill="rgb(45,96,45)" opacity="0.67"/>
<circle cx="400.3" cy="121.1" r="0.9" fill="rgb(45,78,45)" opacity="0.66"/>
<circle cx="372.7" cy="102.7" r="0.5" fill="rgb(45,95,45)" opacity="0.82"/>
<circle cx="399.6" cy="106.4" r="0.7" fill="rgb(45,72,45)" opacity="0.79"/>
<circle cx="414.8" cy="125.6" r="0.9" fill="rgb(45,73,45)" opacity="0.58"/>
<circle cx="412.1" cy="95.2" r="1.1" fill="rgb(45,97,45)" opacity="0.68"/>
<circle cx="367.4" cy="100.6" r="0.5" fill="rgb(45,80,45)" opacity="0.63"/>
<circle cx="358.1" cy="96.9" r="1.1" fill="rgb(45,59,45)" opacity="0.81"/>
<circle cx="393.6" cy="118.0" r="0.9" fill="rgb(45,59,45)" opacity="0.60"/>
<circle cx="412.4" cy="107.2" r="0.5" fill="rgb(45,97,45)" opacity="0.53"/>
<circle cx="426.1" cy="122.4" r="0.6" fill="rgb(45,67,45)" opacity="0.72"/>
<circle cx="397.1" cy="108.2" r="0.6" fill="rgb(45,96,45)" opacity="0.66"/>
<circle cx="407.8" cy="111.5" r="0.9" fill="rgb(45,71,45)" opacity="0.57"/>
<circle cx="397.3" cy="96.4" r="0.5" fill="rgb(45,64,45)" opacity="0.61"/>
<circle cx="360.9" cy="128.0" r="0.5" fill="rgb(45,104,45)" opacity="0.55"/>
<circle cx="429.9" cy="126.5" r="1.1" fill="rgb(45,103,45)" opacity="0.71"/>
<circle cx="435.1" cy="127.3" r="0.8" fill="rgb(45,65,45)" opacity="0.70"/>
<circle cx="432.7" cy="115.7" r="1.0" fill="rgb(45,66,45)" opacity="0.64"/>
<circle cx="405.1" cy="104.9" r="0.8" fill="rgb(45,71,45)" opacity="0.53"/>
<circle cx="410.7" cy="123.1" r="0.6" fill="rgb(45,58,45)" opacity="0.75"/>
<circle cx="384.9" cy="95.9" r="0.6" fill="rgb(45,65,45)" opacity="0.88"/>
<circle cx="418.0" cy="97.7" r="1.0" fill="rgb(45,72,45)" opacity="0.66"/>
<circle cx="377.9" cy="102.5" r="1.0" fill="rgb(45,69,45)" opacity="0.89"/>
<circle cx="434.0" cy="124.2" r="0.9" fill="rgb(45,58,45)" opacity="0.76"/>
<circle cx="367.7" cy="95.7" r="0.7" fill="rgb(45,73,45)" opacity="0.85"/>
<circle cx="411.6" cy="107.4" r="0.5" fill="rgb(45,92,45)" opacity="0.71"/>
<circle cx="379.1" cy="104.2" r="0.9" fill="rgb(45,78,45)" opacity="0.88"/>
<circle cx="396.8" cy="101.7" r="1.0" fill="rgb(45,102,45)" opacity="0.84"/>
<circle cx="399.2" cy="94.7" r="0.6" fill="rgb(45,91,45)" opacity="0.68"/>
<circle cx="373.9" cy="119.0" r="1.1" fill="rgb(45,71,45)" opacity="0.86"/>
<circle cx="381.6" cy="103.7" r="1.0" fill="rgb(45,88,45)" opacity="0.88"/>
<circle cx="397.3" cy="104.2" r="1.0" fill="rgb(45,62,45)" opacity="0.63"/>
<circle cx="422.4" cy="127.1" r="0.8" fill="rgb(45,86,45)" opacity="0.88"/>
<circle cx="414.7" cy="115.1" r="0.8" fill="rgb(45,81,45)" opacity="0.62"/>
<circle cx="362.7" cy="116.1" r="0.8" fill="rgb(45,58,45)" opacity="0.65"/>
<circle cx="418.7" cy="117.4" r="0.9" fill="rgb(45,99,45)" opacity="0.70"/>
<circle cx="376.8" cy="104.4" r="0.8" fill="rgb(45,70,45)" opacity="0.69"/>
<circle cx="372.4" cy="103.2" r="0.9" fill="rgb(45,97,45)" opacity="0.58"/>
<circle cx="380.8" cy="105.5" r="0.9" fill="rgb(45,58,45)" opacity="0.70"/>
<circle cx="391.1" cy="121.0" r="0.9" fill="rgb(45,83,45)" opacity="0.84"/>
<circle cx="410.5" cy="130.3" r="1.1" fill="rgb(45,85,45)" opacity="0.83"/>
<circle cx="363.8" cy="147.5" r="0.8" fill="rgb(45,77,45)" opacity="0.78"/>
<circle cx="398.0" cy="147.2" r="1.0" fill="rgb(45,76,45)" opacity="0.80"/>
<circle cx="393.1" cy="128.3" r="0.8" fill="rgb(45,71,45)" opacity="0.75"/>
<circle cx="417.7" cy="143.5" r="0.7" fill="rgb(45,59,45)" opacity="0.55"/>
<circle cx="427.3" cy="131.2" r="1.1" fill="rgb(45,58,45)" opacity="0.76"/>
<circle cx="413.9" cy="150.6" r="0.8" fill="rgb(45,58,45)" opacity="0.64"/>
<circle cx="421.8" cy="130.3" r="0.9" fill="rgb(45,59,45)" opacity="0.88"/>
<circle cx="416.9" cy="134.7" r="0.7" fill="rgb(45,66,45)" opacity="0.69"/>
<circle cx="390.6" cy="144.6" r="0.7" fill="rgb(45,83,45)" opacity="0.73"/>
<circle cx="427.0" cy="134.9" r="0.6" fill="rgb(45,87,45)" opacity="0.63"/>
<circle cx="419.1" cy="138.6" r="0.8" fill="rgb(45,67,45)" opacity="0.56"/>
<circle cx="394.5" cy="135.4" r="0.8" fill="rgb(45,58,45)" opacity="0.77"/>
<circle cx="365.7" cy="129.7" r="0.6" fill="rgb(45,59,45)" opacity="0.59"/>
<circle cx="405.2" cy="136.9" r="0.8" fill="rgb(45,61,45)" opacity="0.80"/>
<circle cx="414.2" cy="146.7" r="0.8" fill="rgb(45,74,45)" opacity="0.75"/>
<circle cx="378.4" cy="147.2" r="1.0" fill="rgb(45,58,45)" opacity="0.58"/>
<circle cx="420.6" cy="146.4" r="0.9" fill="rgb(45,89,45)" opacity="0.67"/>
<circle cx="386.8" cy="134.5" r="0.7" fill="rgb(45,87,45)" opacity="0.69"/>
<circle cx="392.2" cy="134.1" r="1.1" fill="rgb(45,74,45)" opacity="0.74"/>
<circle cx="392.1" cy="128.8" r="0.8" fill="rgb(45,78,45)" opacity="0.66"/>
<circle cx="374.3" cy="142.5" r="0.5" fill="rgb(45,91,45)" opacity="0.86"/>
<circle cx="376.9" cy="131.5" r="0.5" fill="rgb(45,69,45)" opacity="0.52"/>
<circle cx="421.5" cy="147.3" r="0.8" fill="rgb(45,61,45)" opacity="0.70"/>
<circle cx="382.0" cy="131.1" r="0.9" fill="rgb(45,59,45)" opacity="0.56"/>
<circle cx="362.0" cy="137.8" r="0.9" fill="rgb(45,76,45)" opacity="0.65"/>
<circle cx="392.1" cy="134.1" r="0.9" fill="rgb(45,79,45)" opacity="0.55"/>
<circle cx="370.7" cy="133.0" r="0.7" fill="rgb(45,73,45)" opacity="0.66"/>
<circle cx="399.0" cy="134.9" r="0.7" fill="rgb(45,58,45)" opacity="0.63"/>
<circle cx="396.9" cy="130.7" r="0.5" fill="rgb(45,69,45)" opacity="0.62"/>
<circle cx="384.2" cy="137.1" r="1.0" fill="rgb(45,74,45)" opacity="0.73"/>
<circle cx="398.7" cy="143.5" r="0.8" fill="rgb(45,59,45)" opacity="0.79"/>
<circle cx="393.2" cy="135.8" r="0.7" fill="rgb(45,72,45)" opacity="0.80"/>
<circle cx="386.3" cy="137.1" r="0.8" fill="rgb(45,90,45)" opacity="0.68"/>
<circle cx="396.8" cy="129.8" r="0.8" fill="rgb(45,60,45)" opacity="0.52"/>
<circle cx="412.6" cy="150.2" r="1.0" fill="rgb(45,71,45)" opacity="0.80"/>
<circle cx="400.2" cy="128.5" r="1.0" fill="rgb(45,68,45)" opacity="0.66"/>
<circle cx="430.0" cy="142.3" r="0.7" fill="rgb(45,62,45)" opacity="0.62"/>
<circle cx="418.5" cy="139.7" r="0.8" fill="rgb(45,58,45)" opacity="0.86"/>
<circle cx="377.0" cy="133.1" r="1.0" fill="rgb(45,62,45)" opacity="0.78"/>
<circle cx="376.0" cy="138.6" r="0.9" fill="rgb(45,67,45)" opacity="0.56"/>
<circle cx="415.1" cy="134.2" r="0.5" fill="rgb(45,64,45)" opacity="0.60"/>
<circle cx="414.6" cy="139.8" r="1.0" fill="rgb(45,58,45)" opacity="0.76"/>
<circle cx="396.1" cy="139.6" r="0.7" fill="rgb(45,78,45)" opacity="0.85"/>
<circle cx="361.7" cy="132.8" r="0.7" fill="rgb(45,65,45)" opacity="0.59"/>
<circle cx="389.6" cy="141.4" r="0.9" fill="rgb(45,64,45)" opacity="0.66"/>
<circle cx="376.3" cy="149.4" r="0.7" fill="rgb(45,78,45)" opacity="0.63"/>
<circle cx="418.6" cy="144.2" r="0.6" fill="rgb(45,63,45)" opacity="0.88"/>
<circle cx="431.9" cy="143.7" r="0.9" fill="rgb(45,77,45)" opacity="0.82"/>
<circle cx="433.6" cy="139.3" r="0.6" fill="rgb(45,84,45)" opacity="0.75"/>
<circle cx="409.0" cy="129.5" r="1.1" fill="rgb(45,59,45)" opacity="0.78"/>
<circle cx="423.3" cy="139.4" r="0.8" fill="rgb(45,59,45)" opacity="0.86"/>
<circle cx="395.5" cy="134.0" r="1.0" fill="rgb(45,58,45)" opacity="0.71"/>
<circle cx="381.7" cy="140.9" r="0.8" fill="rgb(45,73,45)" opacity="0.80"/>
<circle cx="403.3" cy="149.5" r="0.7" fill="rgb(45,69,45)" opacity="0.64"/>
<circle cx="431.5" cy="149.1" r="0.9" fill="rgb(45,84,45)" opacity="0.90"/>
<circle cx="387.0" cy="141.4" r="0.6" fill="rgb(45,65,45)" opacity="0.87"/>
<circle cx="408.2" cy="135.2" r="0.7" fill="rgb(45,59,45)" opacity="0.79"/>
<circle cx="400.1" cy="135.0" r="0.7" fill="rgb(45,70,45)" opacity="0.84"/>
<circle cx="408.4" cy="137.2" r="0.6" fill="rgb(45,76,45)" opacity="0.74"/>
<circle cx="369.5" cy="134.6" r="0.9" fill="rgb(45,68,45)" opacity="0.63"/>
<circle cx="372.2" cy="139.5" r="1.0" fill="rgb(45,78,45)" opacity="0.85"/>
<circle cx="358.3" cy="139.6" r="0.9" fill="rgb(45,58,45)" opacity="0.66"/>
<circle cx="433.2" cy="130.8" r="0.7" fill="rgb(45,58,45)" opacity="0.54"/>
<circle cx="379.6" cy="150.2" r="1.0" fill="rgb(45,60,45)" opacity="0.84"/>
<circle cx="374.0" cy="135.1" r="0.9" fill="rgb(45,63,45)" opacity="0.75"/>
<circle cx="363.7" cy="141.3" r="0.8" fill="rgb(45,58,45)" opacity="0.63"/>
<circle cx="419.7" cy="144.6" r="0.7" fill="rgb(45,79,45)" opacity="0.90"/>
<circle cx="398.2" cy="139.9" r="0.7" fill="rgb(45,90,45)" opacity="0.55"/>
<circle cx="421.8" cy="142.2" r="0.8" fill="rgb(45,83,45)" opacity="0.71"/>
<circle cx="413.3" cy="144.1" r="0.6" fill="rgb(45,69,45)" opacity="0.67"/>
<circle cx="396.3" cy="146.1" r="1.1" fill="rgb(45,58,45)" opacity="0.80"/>
<circle cx="395.4" cy="131.2" r="0.6" fill="rgb(45,72,45)" opacity="0.63"/>
<circle cx="379.4" cy="140.2" r="0.7" fill="rgb(45,70,45)" opacity="0.64"/>
<circle cx="361.8" cy="132.8" r="0.8" fill="rgb(45,60,45)" opacity="0.87"/>
<circle cx="368.6" cy="135.9" r="0.7" fill="rgb(45,65,45)" opacity="0.53"/>
<circle cx="403.7" cy="144.5" r="0.9" fill="rgb(45,59,45)" opacity="0.53"/>
<circle cx="392.2" cy="137.8" r="0.7" fill="rgb(45,62,45)" opacity="0.58"/>
<circle cx="424.7" cy="143.2" r="0.9" fill="rgb(45,72,45)" opacity="0.62"/>
<circle cx="394.0" cy="128.2" r="1.1" fill="rgb(45,64,45)" opacity="0.64"/>
<circle cx="413.8" cy="133.2" r="0.9" fill="rgb(45,86,45)" opacity="0.70"/>
<circle cx="393.5" cy="142.8" r="1.0" fill="rgb(45,84,45)" opacity="0.68"/>
<circle cx="390.2" cy="142.6" r="0.7" fill="rgb(45,67,45)" opacity="0.71"/>
<circle cx="405.9" cy="132.9" r="0.9" fill="rgb(45,77,45)" opacity="0.61"/>
<circle cx="371.5" cy="146.4" r="0.9" fill="rgb(45,89,45)" opacity="0.53"/>
<circle cx="415.9" cy="148.6" r="1.1" fill="rgb(45,61,45)" opacity="0.50"/>
<circle cx="432.8" cy="129.5" r="0.8" fill="rgb(45,68,45)" opacity="0.88"/>
<circle cx="410.2" cy="149.0" r="0.9" fill="rgb(45,58,45)" opacity="0.73"/>
<circle cx="368.8" cy="138.3" r="0.8" fill="rgb(45,64,45)" opacity="0.81"/>
<circle cx="413.2" cy="144.0" r="0.7" fill="rgb(45,59,45)" opacity="0.84"/>
</g>
<g filter="url(#bl2)">
<circle cx="363.6" cy="104.7" r="1.28" fill="rgb(58,145,58)"/>
<circle cx="373.0" cy="101.3" r="1.92" fill="rgb(59,154,59)"/>
<circle cx="381.5" cy="102.1" r="2.05" fill="rgb(58,145,58)"/>
<circle cx="376.4" cy="109.8" r="1.92" fill="rgb(62,177,62)"/>
<circle cx="386.6" cy="111.5" r="1.60" fill="rgb(60,167,60)"/>
<circle cx="396.0" cy="109.8" r="1.60" fill="rgb(59,157,59)"/>
<circle cx="406.2" cy="103.0" r="1.60" fill="rgb(59,157,59)"/>
<circle cx="411.4" cy="114.9" r="1.60" fill="rgb(58,151,58)"/>
<circle cx="405.4" cy="120.0" r="2.05" fill="rgb(59,155,59)"/>
<circle cx="414.8" cy="108.1" r="1.41" fill="rgb(60,160,60)"/>
<circle cx="415.6" cy="120.0" r="1.41" fill="rgb(60,166,60)"/>
<circle cx="402.0" cy="125.1" r="1.60" fill="rgb(63,185,63)"/>
<circle cx="368.7" cy="124.3" r="1.41" fill="rgb(61,170,61)"/>
<circle cx="360.2" cy="112.3" r="1.28" fill="rgb(59,159,59)"/>
<circle cx="370.4" cy="110.6" r="1.28" fill="rgb(63,185,63)"/>
<circle cx="395.2" cy="98.7" r="1.28" fill="rgb(60,160,60)"/>
<circle cx="365.3" cy="119.2" r="1.28" fill="rgb(59,155,59)"/>
</g>
<g filter="url(#bl2)">
<circle cx="368.7" cy="104.9" r="1.20" fill="rgb(50,107,50)"/>
<circle cx="360.1" cy="99.4" r="1.57" fill="rgb(50,118,50)"/>
<circle cx="381.8" cy="120.3" r="1.28" fill="rgb(50,116,50)"/>
<circle cx="428.6" cy="104.3" r="1.30" fill="rgb(50,95,50)"/>
<circle cx="408.4" cy="126.0" r="1.31" fill="rgb(50,120,50)"/>
<circle cx="395.8" cy="115.1" r="1.48" fill="rgb(50,127,50)"/>
<circle cx="397.7" cy="130.9" r="1.41" fill="rgb(50,115,50)"/>
<circle cx="386.3" cy="106.3" r="1.54" fill="rgb(50,109,50)"/>
<circle cx="427.1" cy="100.1" r="1.15" fill="rgb(50,112,50)"/>
<circle cx="430.9" cy="100.6" r="1.57" fill="rgb(50,114,50)"/>
<circle cx="404.7" cy="132.8" r="1.59" fill="rgb(50,99,50)"/>
<circle cx="433.4" cy="101.7" r="1.59" fill="rgb(50,118,50)"/>
<circle cx="427.8" cy="109.7" r="1.41" fill="rgb(50,128,50)"/>
<circle cx="383.8" cy="104.9" r="1.49" fill="rgb(50,125,50)"/>
<circle cx="393.5" cy="118.7" r="1.23" fill="rgb(50,124,50)"/>
<circle cx="418.9" cy="120.3" r="1.35" fill="rgb(50,127,50)"/>
<circle cx="388.3" cy="105.5" r="1.46" fill="rgb(50,108,50)"/>
<circle cx="430.8" cy="133.9" r="1.59" fill="rgb(50,102,50)"/>
<circle cx="365.6" cy="127.6" r="1.38" fill="rgb(50,102,50)"/>
<circle cx="415.6" cy="130.6" r="1.21" fill="rgb(50,115,50)"/>
</g>
<rect x="360.10" y="148.00" width="16.2" height="1.1" fill="#d8d8d8"/>
<rect x="438.80" y="93.60" width="80.00" height="58.00" fill="#252f25"/>
<rect x="438.80" y="93.60" width="80.00" height="0.8" fill="#161816"/>
<g filter="url(#bl)">
<circle cx="492.6" cy="121.0" r="0.8" fill="rgb(45,75,45)" opacity="0.66"/>
<circle cx="517.6" cy="104.3" r="0.7" fill="rgb(45,60,45)" opacity="0.60"/>
<circle cx="465.3" cy="103.6" r="0.7" fill="rgb(45,59,45)" opacity="0.62"/>
<circle cx="484.2" cy="101.4" r="0.6" fill="rgb(45,58,45)" opacity="0.72"/>
<circle cx="470.1" cy="119.2" r="0.7" fill="rgb(45,93,45)" opacity="0.54"/>
<circle cx="496.6" cy="120.0" r="0.9" fill="rgb(45,69,45)" opacity="0.62"/>
<circle cx="511.2" cy="122.6" r="1.1" fill="rgb(45,93,45)" opacity="0.59"/>
<circle cx="482.3" cy="119.2" r="0.7" fill="rgb(45,93,45)" opacity="0.56"/>
<circle cx="488.7" cy="98.1" r="0.5" fill="rgb(45,87,45)" opacity="0.68"/>
<circle cx="477.2" cy="98.6" r="0.8" fill="rgb(45,73,45)" opacity="0.65"/>
<circle cx="509.7" cy="123.7" r="0.6" fill="rgb(45,100,45)" opacity="0.51"/>
<circle cx="469.2" cy="98.4" r="0.7" fill="rgb(45,87,45)" opacity="0.55"/>
<circle cx="461.9" cy="108.2" r="0.8" fill="rgb(45,89,45)" opacity="0.62"/>
<circle cx="492.6" cy="96.1" r="0.9" fill="rgb(45,62,45)" opacity="0.80"/>
<circle cx="447.7" cy="96.8" r="0.9" fill="rgb(45,75,45)" opacity="0.51"/>
<circle cx="473.9" cy="103.8" r="0.6" fill="rgb(45,58,45)" opacity="0.61"/>
<circle cx="476.2" cy="98.4" r="1.0" fill="rgb(45,81,45)" opacity="0.77"/>
<circle cx="445.1" cy="116.4" r="0.5" fill="rgb(45,82,45)" opacity="0.65"/>
<circle cx="490.7" cy="126.5" r="0.8" fill="rgb(45,103,45)" opacity="0.74"/>
<circle cx="514.6" cy="101.7" r="0.5" fill="rgb(45,75,45)" opacity="0.81"/>
<circle cx="490.8" cy="101.7" r="0.8" fill="rgb(45,61,45)" opacity="0.80"/>
<circle cx="450.4" cy="105.5" r="0.7" fill="rgb(45,75,45)" opacity="0.85"/>
<circle cx="496.4" cy="126.7" r="0.9" fill="rgb(45,83,45)" opacity="0.61"/>
<circle cx="479.2" cy="109.0" r="0.5" fill="rgb(45,73,45)" opacity="0.84"/>
<circle cx="451.8" cy="110.0" r="0.8" fill="rgb(45,103,45)" opacity="0.85"/>
<circle cx="460.1" cy="110.3" r="0.7" fill="rgb(45,68,45)" opacity="0.65"/>
<circle cx="474.5" cy="122.9" r="0.6" fill="rgb(45,106,45)" opacity="0.77"/>
<circle cx="481.0" cy="108.5" r="0.7" fill="rgb(45,58,45)" opacity="0.63"/>
<circle cx="468.4" cy="114.5" r="0.7" fill="rgb(45,68,45)" opacity="0.61"/>
<circle cx="516.0" cy="107.8" r="0.6" fill="rgb(45,106,45)" opacity="0.77"/>
<circle cx="483.0" cy="118.5" r="1.0" fill="rgb(45,75,45)" opacity="0.74"/>
<circle cx="443.4" cy="117.5" r="0.6" fill="rgb(45,81,45)" opacity="0.79"/>
<circle cx="505.0" cy="103.9" r="0.7" fill="rgb(45,60,45)" opacity="0.74"/>
<circle cx="474.4" cy="97.0" r="0.8" fill="rgb(45,72,45)" opacity="0.73"/>
<circle cx="467.4" cy="121.0" r="0.7" fill="rgb(45,85,45)" opacity="0.64"/>
<circle cx="512.0" cy="102.0" r="0.7" fill="rgb(45,72,45)" opacity="0.73"/>
<circle cx="501.8" cy="98.7" r="0.5" fill="rgb(45,61,45)" opacity="0.55"/>
<circle cx="480.4" cy="111.0" r="0.8" fill="rgb(45,104,45)" opacity="0.71"/>
<circle cx="441.9" cy="102.2" r="0.6" fill="rgb(45,65,45)" opacity="0.82"/>
<circle cx="472.3" cy="99.2" r="0.6" fill="rgb(45,76,45)" opacity="0.57"/>
<circle cx="487.2" cy="97.5" r="0.8" fill="rgb(45,90,45)" opacity="0.53"/>
<circle cx="492.4" cy="126.9" r="1.0" fill="rgb(45,89,45)" opacity="0.88"/>
<circle cx="461.0" cy="110.9" r="0.7" fill="rgb(45,89,45)" opacity="0.89"/>
<circle cx="472.8" cy="95.3" r="0.8" fill="rgb(45,59,45)" opacity="0.51"/>
<circle cx="487.4" cy="128.0" r="1.1" fill="rgb(45,103,45)" opacity="0.60"/>
<circle cx="453.9" cy="97.0" r="0.5" fill="rgb(45,103,45)" opacity="0.53"/>
<circle cx="491.8" cy="126.4" r="0.5" fill="rgb(45,76,45)" opacity="0.51"/>
<circle cx="503.7" cy="117.7" r="1.1" fill="rgb(45,65,45)" opacity="0.61"/>
<circle cx="451.4" cy="127.1" r="0.7" fill="rgb(45,58,45)" opacity="0.57"/>
<circle cx="489.7" cy="111.0" r="0.9" fill="rgb(45,63,45)" opacity="0.54"/>
<circle cx="516.5" cy="120.9" r="0.9" fill="rgb(45,62,45)" opacity="0.61"/>
<circle cx="484.6" cy="105.2" r="0.8" fill="rgb(45,62,45)" opacity="0.53"/>
<circle cx="517.2" cy="121.1" r="0.9" fill="rgb(45,62,45)" opacity="0.57"/>
<circle cx="452.8" cy="107.5" r="0.5" fill="rgb(45,87,45)" opacity="0.87"/>
<circle cx="459.4" cy="100.1" r="1.0" fill="rgb(45,74,45)" opacity="0.67"/>
<circle cx="481.7" cy="127.8" r="0.7" fill="rgb(45,76,45)" opacity="0.58"/>
<circle cx="480.5" cy="115.8" r="0.6" fill="rgb(45,80,45)" opacity="0.50"/>
<circle cx="515.1" cy="117.7" r="1.0" fill="rgb(45,96,45)" opacity="0.67"/>
<circle cx="454.4" cy="127.0" r="0.5" fill="rgb(45,100,45)" opacity="0.75"/>
<circle cx="478.8" cy="95.4" r="0.9" fill="rgb(45,78,45)" opacity="0.68"/>
<circle cx="459.7" cy="124.4" r="0.7" fill="rgb(45,84,45)" opacity="0.81"/>
<circle cx="510.7" cy="107.6" r="0.6" fill="rgb(45,78,45)" opacity="0.55"/>
<circle cx="506.1" cy="126.7" r="0.6" fill="rgb(45,103,45)" opacity="0.78"/>
<circle cx="470.4" cy="101.8" r="0.6" fill="rgb(45,100,45)" opacity="0.53"/>
<circle cx="467.1" cy="99.5" r="0.9" fill="rgb(45,69,45)" opacity="0.71"/>
<circle cx="511.6" cy="110.8" r="0.8" fill="rgb(45,60,45)" opacity="0.51"/>
<circle cx="491.3" cy="99.9" r="0.8" fill="rgb(45,74,45)" opacity="0.87"/>
<circle cx="449.8" cy="104.1" r="0.8" fill="rgb(45,66,45)" opacity="0.65"/>
<circle cx="516.4" cy="125.7" r="0.9" fill="rgb(45,104,45)" opacity="0.82"/>
<circle cx="482.8" cy="101.4" r="0.6" fill="rgb(45,60,45)" opacity="0.81"/>
<circle cx="492.0" cy="95.8" r="0.5" fill="rgb(45,65,45)" opacity="0.71"/>
<circle cx="466.4" cy="110.8" r="0.7" fill="rgb(45,68,45)" opacity="0.68"/>
<circle cx="501.2" cy="96.9" r="0.9" fill="rgb(45,90,45)" opacity="0.82"/>
<circle cx="452.0" cy="104.3" r="1.1" fill="rgb(45,101,45)" opacity="0.61"/>
<circle cx="469.1" cy="105.9" r="1.1" fill="rgb(45,66,45)" opacity="0.70"/>
<circle cx="473.0" cy="125.0" r="1.1" fill="rgb(45,82,45)" opacity="0.76"/>
<circle cx="474.3" cy="97.2" r="0.8" fill="rgb(45,74,45)" opacity="0.75"/>
<circle cx="505.9" cy="106.9" r="1.0" fill="rgb(45,77,45)" opacity="0.88"/>
<circle cx="504.1" cy="103.5" r="0.9" fill="rgb(45,95,45)" opacity="0.63"/>
<circle cx="483.0" cy="121.3" r="0.6" fill="rgb(45,94,45)" opacity="0.70"/>
<circle cx="491.6" cy="100.4" r="1.0" fill="rgb(45,91,45)" opacity="0.73"/>
<circle cx="514.3" cy="105.2" r="1.1" fill="rgb(45,64,45)" opacity="0.75"/>
<circle cx="440.3" cy="109.2" r="1.0" fill="rgb(45,66,45)" opacity="0.89"/>
<circle cx="450.5" cy="117.4" r="0.6" fill="rgb(45,97,45)" opacity="0.68"/>
<circle cx="442.4" cy="106.5" r="0.9" fill="rgb(45,79,45)" opacity="0.61"/>
<circle cx="491.2" cy="113.2" r="0.8" fill="rgb(45,68,45)" opacity="0.82"/>
<circle cx="501.4" cy="108.7" r="0.8" fill="rgb(45,93,45)" opacity="0.69"/>
<circle cx="457.5" cy="111.4" r="1.0" fill="rgb(45,58,45)" opacity="0.65"/>
<circle cx="467.8" cy="123.4" r="0.8" fill="rgb(45,85,45)" opacity="0.85"/>
<circle cx="486.4" cy="123.5" r="1.0" fill="rgb(45,64,45)" opacity="0.88"/>
<circle cx="471.1" cy="120.1" r="0.9" fill="rgb(45,106,45)" opacity="0.80"/>
<circle cx="448.4" cy="98.4" r="1.0" fill="rgb(45,95,45)" opacity="0.56"/>
<circle cx="501.6" cy="99.4" r="1.1" fill="rgb(45,97,45)" opacity="0.71"/>
<circle cx="463.1" cy="120.2" r="0.6" fill="rgb(45,98,45)" opacity="0.69"/>
<circle cx="490.4" cy="120.2" r="1.0" fill="rgb(45,58,45)" opacity="0.75"/>
<circle cx="504.0" cy="98.9" r="0.9" fill="rgb(45,70,45)" opacity="0.86"/>
<circle cx="472.1" cy="126.2" r="1.0" fill="rgb(45,76,45)" opacity="0.89"/>
<circle cx="446.0" cy="101.5" r="0.8" fill="rgb(45,66,45)" opacity="0.79"/>
<circle cx="486.1" cy="106.2" r="0.8" fill="rgb(45,61,45)" opacity="0.90"/>
<circle cx="454.9" cy="100.6" r="0.6" fill="rgb(45,76,45)" opacity="0.82"/>
<circle cx="477.1" cy="97.2" r="0.9" fill="rgb(45,73,45)" opacity="0.73"/>
<circle cx="457.5" cy="126.2" r="0.5" fill="rgb(45,59,45)" opacity="0.60"/>
<circle cx="508.7" cy="112.3" r="0.7" fill="rgb(45,84,45)" opacity="0.64"/>
<circle cx="474.1" cy="100.9" r="0.7" fill="rgb(45,80,45)" opacity="0.88"/>
<circle cx="500.5" cy="100.9" r="0.6" fill="rgb(45,103,45)" opacity="0.87"/>
<circle cx="474.6" cy="122.6" r="0.8" fill="rgb(45,76,45)" opacity="0.64"/>
<circle cx="483.8" cy="112.4" r="0.8" fill="rgb(45,59,45)" opacity="0.69"/>
<circle cx="505.3" cy="100.2" r="0.6" fill="rgb(45,61,45)" opacity="0.66"/>
<circle cx="472.4" cy="106.6" r="1.1" fill="rgb(45,59,45)" opacity="0.52"/>
<circle cx="493.0" cy="102.0" r="0.7" fill="rgb(45,74,45)" opacity="0.70"/>
<circle cx="447.8" cy="101.9" r="0.9" fill="rgb(45,59,45)" opacity="0.51"/>
<circle cx="492.3" cy="103.7" r="1.0" fill="rgb(45,59,45)" opacity="0.80"/>
<circle cx="450.8" cy="103.1" r="0.7" fill="rgb(45,90,45)" opacity="0.80"/>
<circle cx="483.6" cy="113.1" r="0.8" fill="rgb(45,65,45)" opacity="0.85"/>
<circle cx="446.8" cy="110.9" r="0.5" fill="rgb(45,74,45)" opacity="0.61"/>
<circle cx="455.4" cy="117.1" r="0.9" fill="rgb(45,85,45)" opacity="0.66"/>
<circle cx="502.2" cy="122.3" r="0.5" fill="rgb(45,86,45)" opacity="0.58"/>
<circle cx="504.1" cy="101.5" r="1.1" fill="rgb(45,80,45)" opacity="0.62"/>
<circle cx="474.5" cy="107.1" r="0.7" fill="rgb(45,77,45)" opacity="0.58"/>
<circle cx="514.0" cy="107.3" r="0.8" fill="rgb(45,104,45)" opacity="0.56"/>
<circle cx="456.2" cy="108.5" r="0.8" fill="rgb(45,107,45)" opacity="0.55"/>
<circle cx="468.4" cy="108.4" r="0.6" fill="rgb(45,79,45)" opacity="0.62"/>
<circle cx="449.0" cy="105.6" r="1.0" fill="rgb(45,74,45)" opacity="0.55"/>
<circle cx="449.6" cy="99.0" r="1.0" fill="rgb(45,69,45)" opacity="0.89"/>
<circle cx="476.7" cy="125.1" r="0.7" fill="rgb(45,65,45)" opacity="0.59"/>
<circle cx="479.9" cy="102.1" r="1.0" fill="rgb(45,97,45)" opacity="0.78"/>
<circle cx="490.2" cy="105.8" r="0.9" fill="rgb(45,66,45)" opacity="0.65"/>
<circle cx="485.5" cy="101.1" r="1.0" fill="rgb(45,79,45)" opacity="0.76"/>
<circle cx="463.0" cy="104.6" r="0.7" fill="rgb(45,66,45)" opacity="0.83"/>
<circle cx="447.2" cy="114.9" r="0.8" fill="rgb(45,62,45)" opacity="0.79"/>
<circle cx="473.6" cy="101.5" r="0.7" fill="rgb(45,80,45)" opacity="0.73"/>
<circle cx="496.9" cy="105.5" r="0.8" fill="rgb(45,76,45)" opacity="0.70"/>
<circle cx="463.0" cy="101.9" r="0.6" fill="rgb(45,97,45)" opacity="0.55"/>
<circle cx="439.8" cy="125.9" r="0.9" fill="rgb(45,63,45)" opacity="0.63"/>
<circle cx="489.2" cy="114.1" r="0.7" fill="rgb(45,65,45)" opacity="0.86"/>
<circle cx="492.7" cy="99.1" r="0.8" fill="rgb(45,96,45)" opacity="0.50"/>
<circle cx="481.8" cy="122.7" r="0.7" fill="rgb(45,80,45)" opacity="0.73"/>
<circle cx="446.4" cy="97.5" r="0.8" fill="rgb(45,58,45)" opacity="0.72"/>
<circle cx="471.4" cy="115.6" r="1.1" fill="rgb(45,62,45)" opacity="0.57"/>
<circle cx="471.9" cy="115.6" r="1.1" fill="rgb(45,59,45)" opacity="0.53"/>
<circle cx="496.6" cy="96.8" r="1.0" fill="rgb(45,73,45)" opacity="0.75"/>
<circle cx="456.8" cy="125.7" r="0.6" fill="rgb(45,61,45)" opacity="0.70"/>
<circle cx="490.1" cy="107.3" r="0.8" fill="rgb(45,76,45)" opacity="0.58"/>
<circle cx="473.9" cy="102.0" r="0.9" fill="rgb(45,101,45)" opacity="0.55"/>
<circle cx="474.7" cy="103.7" r="1.1" fill="rgb(45,86,45)" opacity="0.61"/>
<circle cx="491.8" cy="104.4" r="0.8" fill="rgb(45,71,45)" opacity="0.70"/>
<circle cx="480.5" cy="113.0" r="1.0" fill="rgb(45,77,45)" opacity="0.86"/>
<circle cx="457.1" cy="112.4" r="1.1" fill="rgb(45,94,45)" opacity="0.66"/>
<circle cx="459.2" cy="118.2" r="0.6" fill="rgb(45,103,45)" opacity="0.62"/>
<circle cx="493.0" cy="98.9" r="0.7" fill="rgb(45,64,45)" opacity="0.62"/>
<circle cx="481.0" cy="109.9" r="0.9" fill="rgb(45,61,45)" opacity="0.70"/>
<circle cx="499.7" cy="97.4" r="0.8" fill="rgb(45,102,45)" opacity="0.78"/>
<circle cx="482.0" cy="126.9" r="0.8" fill="rgb(45,106,45)" opacity="0.66"/>
<circle cx="440.2" cy="97.5" r="1.0" fill="rgb(45,61,45)" opacity="0.62"/>
<circle cx="450.1" cy="117.4" r="0.6" fill="rgb(45,59,45)" opacity="0.67"/>
<circle cx="513.9" cy="105.6" r="0.8" fill="rgb(45,76,45)" opacity="0.51"/>
<circle cx="462.0" cy="99.8" r="0.7" fill="rgb(45,63,45)" opacity="0.66"/>
<circle cx="474.8" cy="110.0" r="0.6" fill="rgb(45,61,45)" opacity="0.51"/>
<circle cx="505.3" cy="112.3" r="0.8" fill="rgb(45,62,45)" opacity="0.51"/>
<circle cx="507.3" cy="123.3" r="0.7" fill="rgb(45,72,45)" opacity="0.53"/>
<circle cx="504.8" cy="131.8" r="1.0" fill="rgb(45,67,45)" opacity="0.86"/>
<circle cx="445.3" cy="135.0" r="0.9" fill="rgb(45,78,45)" opacity="0.63"/>
<circle cx="485.0" cy="138.4" r="1.0" fill="rgb(45,85,45)" opacity="0.87"/>
<circle cx="495.6" cy="142.8" r="0.6" fill="rgb(45,77,45)" opacity="0.76"/>
<circle cx="478.0" cy="138.3" r="0.7" fill="rgb(45,62,45)" opacity="0.67"/>
<circle cx="508.6" cy="150.5" r="0.8" fill="rgb(45,67,45)" opacity="0.82"/>
<circle cx="464.7" cy="150.6" r="0.6" fill="rgb(45,70,45)" opacity="0.64"/>
<circle cx="488.4" cy="149.7" r="0.7" fill="rgb(45,64,45)" opacity="0.68"/>
<circle cx="449.9" cy="128.3" r="0.5" fill="rgb(45,82,45)" opacity="0.80"/>
<circle cx="504.9" cy="147.4" r="0.8" fill="rgb(45,58,45)" opacity="0.51"/>
<circle cx="448.8" cy="134.3" r="0.7" fill="rgb(45,67,45)" opacity="0.56"/>
<circle cx="474.8" cy="143.5" r="0.9" fill="rgb(45,63,45)" opacity="0.63"/>
<circle cx="501.4" cy="143.8" r="0.7" fill="rgb(45,68,45)" opacity="0.62"/>
<circle cx="457.1" cy="128.6" r="0.9" fill="rgb(45,69,45)" opacity="0.67"/>
<circle cx="477.9" cy="149.2" r="0.8" fill="rgb(45,62,45)" opacity="0.85"/>
<circle cx="499.3" cy="131.8" r="0.8" fill="rgb(45,66,45)" opacity="0.61"/>
<circle cx="500.8" cy="146.4" r="0.9" fill="rgb(45,58,45)" opacity="0.50"/>
<circle cx="478.6" cy="128.4" r="0.6" fill="rgb(45,74,45)" opacity="0.52"/>
<circle cx="494.9" cy="129.5" r="0.5" fill="rgb(45,64,45)" opacity="0.73"/>
<circle cx="457.9" cy="137.5" r="0.8" fill="rgb(45,77,45)" opacity="0.79"/>
<circle cx="503.7" cy="132.4" r="0.6" fill="rgb(45,62,45)" opacity="0.82"/>
<circle cx="486.8" cy="133.0" r="0.6" fill="rgb(45,61,45)" opacity="0.68"/>
<circle cx="459.0" cy="137.3" r="0.9" fill="rgb(45,70,45)" opacity="0.71"/>
<circle cx="476.5" cy="134.4" r="0.6" fill="rgb(45,77,45)" opacity="0.59"/>
<circle cx="464.0" cy="150.5" r="1.0" fill="rgb(45,59,45)" opacity="0.85"/>
<circle cx="512.1" cy="149.3" r="0.6" fill="rgb(45,77,45)" opacity="0.58"/>
<circle cx="499.7" cy="144.3" r="0.7" fill="rgb(45,70,45)" opacity="0.85"/>
<circle cx="466.5" cy="140.6" r="0.8" fill="rgb(45,87,45)" opacity="0.77"/>
<circle cx="468.8" cy="145.3" r="0.5" fill="rgb(45,85,45)" opacity="0.67"/>
<circle cx="515.8" cy="150.4" r="0.6" fill="rgb(45,70,45)" opacity="0.56"/>
<circle cx="511.7" cy="142.6" r="1.1" fill="rgb(45,59,45)" opacity="0.53"/>
<circle cx="465.2" cy="144.2" r="0.8" fill="rgb(45,58,45)" opacity="0.71"/>
<circle cx="496.4" cy="137.5" r="0.8" fill="rgb(45,70,45)" opacity="0.58"/>
<circle cx="494.3" cy="136.2" r="0.8" fill="rgb(45,75,45)" opacity="0.80"/>
<circle cx="500.5" cy="134.7" r="1.0" fill="rgb(45,83,45)" opacity="0.76"/>
<circle cx="462.8" cy="130.2" r="0.9" fill="rgb(45,90,45)" opacity="0.54"/>
<circle cx="511.9" cy="142.2" r="0.7" fill="rgb(45,61,45)" opacity="0.90"/>
<circle cx="459.8" cy="134.9" r="0.7" fill="rgb(45,73,45)" opacity="0.57"/>
<circle cx="489.9" cy="130.9" r="0.8" fill="rgb(45,58,45)" opacity="0.80"/>
<circle cx="509.0" cy="130.0" r="0.6" fill="rgb(45,59,45)" opacity="0.55"/>
<circle cx="444.7" cy="136.1" r="0.9" fill="rgb(45,62,45)" opacity="0.55"/>
<circle cx="483.6" cy="150.5" r="0.6" fill="rgb(45,59,45)" opacity="0.70"/>
<circle cx="502.7" cy="135.2" r="1.0" fill="rgb(45,61,45)" opacity="0.64"/>
<circle cx="470.7" cy="140.0" r="0.8" fill="rgb(45,66,45)" opacity="0.73"/>
<circle cx="514.0" cy="150.3" r="0.5" fill="rgb(45,65,45)" opacity="0.76"/>
<circle cx="478.6" cy="138.8" r="0.6" fill="rgb(45,87,45)" opacity="0.81"/>
<circle cx="502.5" cy="147.5" r="0.9" fill="rgb(45,82,45)" opacity="0.66"/>
<circle cx="478.3" cy="133.0" r="0.7" fill="rgb(45,58,45)" opacity="0.80"/>
<circle cx="502.2" cy="140.0" r="0.5" fill="rgb(45,59,45)" opacity="0.69"/>
<circle cx="517.3" cy="131.7" r="0.6" fill="rgb(45,61,45)" opacity="0.76"/>
<circle cx="485.1" cy="139.0" r="0.8" fill="rgb(45,58,45)" opacity="0.84"/>
<circle cx="482.5" cy="147.2" r="1.1" fill="rgb(45,78,45)" opacity="0.51"/>
<circle cx="502.5" cy="139.4" r="0.9" fill="rgb(45,83,45)" opacity="0.87"/>
<circle cx="517.2" cy="147.4" r="0.8" fill="rgb(45,61,45)" opacity="0.73"/>
<circle cx="514.7" cy="142.3" r="0.9" fill="rgb(45,70,45)" opacity="0.67"/>
<circle cx="499.2" cy="128.2" r="1.0" fill="rgb(45,76,45)" opacity="0.73"/>
<circle cx="483.1" cy="148.8" r="0.8" fill="rgb(45,84,45)" opacity="0.90"/>
<circle cx="458.8" cy="144.1" r="0.9" fill="rgb(45,60,45)" opacity="0.67"/>
<circle cx="458.5" cy="138.0" r="1.0" fill="rgb(45,58,45)" opacity="0.77"/>
<circle cx="507.9" cy="145.8" r="0.6" fill="rgb(45,72,45)" opacity="0.72"/>
<circle cx="458.8" cy="147.1" r="0.9" fill="rgb(45,70,45)" opacity="0.76"/>
<circle cx="494.4" cy="142.1" r="0.6" fill="rgb(45,61,45)" opacity="0.62"/>
<circle cx="488.4" cy="139.5" r="0.8" fill="rgb(45,60,45)" opacity="0.79"/>
<circle cx="491.5" cy="137.9" r="0.7" fill="rgb(45,90,45)" opacity="0.70"/>
<circle cx="496.4" cy="137.8" r="1.1" fill="rgb(45,64,45)" opacity="0.67"/>
<circle cx="488.3" cy="131.9" r="0.6" fill="rgb(45,58,45)" opacity="0.73"/>
<circle cx="512.0" cy="146.5" r="0.7" fill="rgb(45,81,45)" opacity="0.81"/>
<circle cx="473.4" cy="134.0" r="0.9" fill="rgb(45,58,45)" opacity="0.62"/>
<circle cx="487.2" cy="141.0" r="0.5" fill="rgb(45,60,45)" opacity="0.56"/>
<circle cx="477.3" cy="135.2" r="0.7" fill="rgb(45,59,45)" opacity="0.73"/>
<circle cx="464.9" cy="150.0" r="1.1" fill="rgb(45,72,45)" opacity="0.83"/>
<circle cx="457.1" cy="136.9" r="1.0" fill="rgb(45,88,45)" opacity="0.77"/>
<circle cx="463.6" cy="136.5" r="0.5" fill="rgb(45,62,45)" opacity="0.69"/>
<circle cx="473.4" cy="146.0" r="0.5" fill="rgb(45,58,45)" opacity="0.61"/>
<circle cx="499.4" cy="137.6" r="1.0" fill="rgb(45,75,45)" opacity="0.63"/>
<circle cx="502.6" cy="140.7" r="0.7" fill="rgb(45,79,45)" opacity="0.83"/>
<circle cx="465.6" cy="146.8" r="1.0" fill="rgb(45,71,45)" opacity="0.61"/>
<circle cx="509.2" cy="148.6" r="0.9" fill="rgb(45,63,45)" opacity="0.81"/>
<circle cx="481.7" cy="140.5" r="0.9" fill="rgb(45,72,45)" opacity="0.73"/>
<circle cx="448.0" cy="132.0" r="0.8" fill="rgb(45,90,45)" opacity="0.88"/>
<circle cx="485.2" cy="144.2" r="1.0" fill="rgb(45,66,45)" opacity="0.69"/>
<circle cx="498.4" cy="138.8" r="0.9" fill="rgb(45,77,45)" opacity="0.76"/>
<circle cx="476.4" cy="129.3" r="0.8" fill="rgb(45,67,45)" opacity="0.83"/>
<circle cx="458.7" cy="148.3" r="0.7" fill="rgb(45,81,45)" opacity="0.53"/>
<circle cx="471.3" cy="149.8" r="0.9" fill="rgb(45,71,45)" opacity="0.75"/>
<circle cx="513.4" cy="129.0" r="1.0" fill="rgb(45,60,45)" opacity="0.67"/>
<circle cx="444.3" cy="143.9" r="0.8" fill="rgb(45,82,45)" opacity="0.65"/>
<circle cx="498.4" cy="129.2" r="0.8" fill="rgb(45,85,45)" opacity="0.81"/>
<circle cx="441.9" cy="148.0" r="0.7" fill="rgb(45,58,45)" opacity="0.75"/>
<circle cx="493.5" cy="129.0" r="0.7" fill="rgb(45,80,45)" opacity="0.88"/>
</g>
<g filter="url(#bl2)">
<circle cx="445.6" cy="104.7" r="1.28" fill="rgb(60,165,60)"/>
<circle cx="464.4" cy="102.1" r="1.92" fill="rgb(61,174,61)"/>
<circle cx="476.3" cy="98.7" r="1.28" fill="rgb(58,149,58)"/>
<circle cx="476.3" cy="110.6" r="1.92" fill="rgb(60,165,60)"/>
<circle cx="467.8" cy="113.2" r="1.92" fill="rgb(60,160,60)"/>
<circle cx="458.4" cy="111.5" r="1.79" fill="rgb(63,188,63)"/>
<circle cx="452.4" cy="124.3" r="1.92" fill="rgb(59,159,59)"/>
<circle cx="488.2" cy="103.8" r="1.92" fill="rgb(60,164,60)"/>
<circle cx="491.6" cy="110.6" r="1.92" fill="rgb(60,161,60)"/>
<circle cx="488.2" cy="121.7" r="1.92" fill="rgb(59,159,59)"/>
<circle cx="484.0" cy="126.0" r="1.92" fill="rgb(60,165,60)"/>
<circle cx="497.6" cy="121.7" r="1.60" fill="rgb(62,183,62)"/>
<circle cx="498.5" cy="108.1" r="1.41" fill="rgb(58,148,58)"/>
<circle cx="510.4" cy="115.8" r="1.41" fill="rgb(58,149,58)"/>
<circle cx="451.6" cy="112.3" r="1.28" fill="rgb(60,164,60)"/>
<circle cx="503.6" cy="101.3" r="1.28" fill="rgb(63,187,63)"/>
</g>
<g filter="url(#bl2)">
<circle cx="451.2" cy="123.2" r="1.24" fill="rgb(50,123,50)"/>
<circle cx="514.5" cy="128.6" r="1.33" fill="rgb(50,98,50)"/>
<circle cx="478.8" cy="128.0" r="1.29" fill="rgb(50,112,50)"/>
<circle cx="456.0" cy="127.4" r="1.55" fill="rgb(50,115,50)"/>
<circle cx="489.7" cy="128.3" r="1.21" fill="rgb(50,121,50)"/>
<circle cx="448.4" cy="102.5" r="1.58" fill="rgb(50,111,50)"/>
<circle cx="454.3" cy="102.4" r="1.35" fill="rgb(50,96,50)"/>
<circle cx="482.0" cy="127.1" r="1.26" fill="rgb(50,117,50)"/>
<circle cx="508.2" cy="99.7" r="1.44" fill="rgb(50,125,50)"/>
<circle cx="514.5" cy="106.1" r="1.14" fill="rgb(50,100,50)"/>
<circle cx="464.4" cy="102.2" r="1.60" fill="rgb(50,123,50)"/>
<circle cx="495.5" cy="100.9" r="1.18" fill="rgb(50,118,50)"/>
<circle cx="497.4" cy="128.9" r="1.32" fill="rgb(50,124,50)"/>
<circle cx="509.2" cy="106.2" r="1.24" fill="rgb(50,101,50)"/>
<circle cx="476.8" cy="113.7" r="1.52" fill="rgb(50,114,50)"/>
<circle cx="456.6" cy="118.3" r="1.47" fill="rgb(50,117,50)"/>
<circle cx="450.7" cy="128.9" r="1.12" fill="rgb(50,115,50)"/>
<circle cx="509.5" cy="123.7" r="1.45" fill="rgb(50,129,50)"/>
<circle cx="452.7" cy="116.9" r="1.37" fill="rgb(50,99,50)"/>
<circle cx="480.0" cy="112.2" r="1.16" fill="rgb(50,101,50)"/>
</g>
<rect x="442.10" y="148.00" width="16.2" height="1.1" fill="#d8d8d8"/>
<text x="304.00" y="169.00" font-size="11.8" stroke="#000" stroke-width="0.45" font-weight="bold">H</text>
<text x="331.60" y="169.60" font-size="4.5" stroke="#000" stroke-width="0.12" font-weight="bold" textLength="27.0" lengthAdjust="spacingAndGlyphs">Annexin  V</text>
<line x1="327.50" y1="183.80" x2="327.50" y2="240.70" stroke="#333" stroke-width="1.0"/>
<line x1="327.40" y1="240.50" x2="363.80" y2="240.50" stroke="#333" stroke-width="1.0"/>
<line x1="325.00" y1="240.50" x2="327.80" y2="240.50" stroke="#333" stroke-width="0.8"/>
<text x="324.60" y="241.70" font-size="3.9" stroke="#111" stroke-width="0.18" text-anchor="end" font-weight="bold" fill="#111">0</text>
<line x1="325.00" y1="229.50" x2="327.80" y2="229.50" stroke="#333" stroke-width="0.8"/>
<text x="324.60" y="230.40" font-size="3.9" stroke="#111" stroke-width="0.18" text-anchor="end" font-weight="bold" fill="#111">1</text>
<line x1="325.00" y1="217.50" x2="327.80" y2="217.50" stroke="#333" stroke-width="0.8"/>
<text x="324.60" y="219.10" font-size="3.9" stroke="#111" stroke-width="0.18" text-anchor="end" font-weight="bold" fill="#111">2</text>
<line x1="325.00" y1="206.50" x2="327.80" y2="206.50" stroke="#333" stroke-width="0.8"/>
<text x="324.60" y="207.80" font-size="3.9" stroke="#111" stroke-width="0.18" text-anchor="end" font-weight="bold" fill="#111">3</text>
<line x1="325.00" y1="195.50" x2="327.80" y2="195.50" stroke="#333" stroke-width="0.8"/>
<text x="324.60" y="196.50" font-size="3.9" stroke="#111" stroke-width="0.18" text-anchor="end" font-weight="bold" fill="#111">4</text>
<line x1="325.00" y1="183.50" x2="327.80" y2="183.50" stroke="#333" stroke-width="0.8"/>
<text x="324.60" y="185.20" font-size="3.9" stroke="#111" stroke-width="0.18" text-anchor="end" font-weight="bold" fill="#111">5</text>
<rect x="332.80" y="209.73" width="9.70" height="30.57" fill="#7e7e7e" stroke="#111" stroke-width="1.0"/>
<rect x="348.70" y="195.60" width="8.50" height="44.70" fill="#fb79ab" stroke="#d63b74" stroke-width="1.0"/>
<line x1="337.50" y1="206.97" x2="337.50" y2="211.49" stroke="#111" stroke-width="0.7"/>
<line x1="336.00" y1="206.50" x2="339.20" y2="206.50" stroke="#111" stroke-width="0.7"/>
<line x1="353.50" y1="191.71" x2="353.50" y2="198.49" stroke="#d63b74" stroke-width="0.7"/>
<line x1="351.40" y1="191.50" x2="354.60" y2="191.50" stroke="#d63b74" stroke-width="0.7"/>
<circle cx="337.00" cy="208.66" r="1.0" fill="#111"/>
<circle cx="339.00" cy="209.79" r="1.0" fill="#111"/>
<circle cx="352.00" cy="192.84" r="1.0" fill="#d81b60"/>
<circle cx="354.00" cy="196.23" r="1.0" fill="#d81b60"/>
<polyline points="337.60,205.00 337.60,184.40 353.00,184.40 353.00,191.50" fill="none" stroke="#333" stroke-width="0.6"/>
<text x="345.88" y="184.36" font-size="6.6" stroke="#000" stroke-width="0.2" text-anchor="middle" font-weight="bold" letter-spacing="1.15">**</text>
<text x="311.40" y="213.70" font-size="3.9" stroke="#000" stroke-width="0.2" text-anchor="middle" font-weight="bold" transform="rotate(-90 311.40 213.70)" textLength="31.4" lengthAdjust="spacingAndGlyphs">Percentage of</text>
<text x="315.90" y="214.10" font-size="3.9" stroke="#000" stroke-width="0.2" text-anchor="middle" font-weight="bold" transform="rotate(-90 315.90 214.10)" textLength="21.2" lengthAdjust="spacingAndGlyphs">tumor cells</text>
<text x="375.40" y="169.00" font-size="11.8" stroke="#000" stroke-width="0.45" font-weight="bold">I</text>
<text x="387.30" y="169.10" font-size="4.5" stroke="#000" stroke-width="0.2" font-weight="bold" textLength="58.6" lengthAdjust="spacingAndGlyphs">Granzyme B<tspan font-size="2.6" dy="-1.6">+</tspan><tspan dy="1.6"> CD8</tspan><tspan font-size="2.6" dy="-1.6">+</tspan><tspan dy="1.6"> Cells</tspan></text>
<line x1="395.50" y1="178.50" x2="395.50" y2="240.70" stroke="#333" stroke-width="1.0"/>
<line x1="395.40" y1="240.50" x2="438.50" y2="240.50" stroke="#333" stroke-width="1.0"/>
<line x1="393.00" y1="240.50" x2="395.80" y2="240.50" stroke="#333" stroke-width="0.8"/>
<text x="392.60" y="241.70" font-size="3.9" stroke="#111" stroke-width="0.18" text-anchor="end" font-weight="bold" fill="#111">0</text>
<line x1="393.00" y1="224.50" x2="395.80" y2="224.50" stroke="#333" stroke-width="0.8"/>
<text x="392.60" y="226.25" font-size="3.9" stroke="#111" stroke-width="0.18" text-anchor="end" font-weight="bold" fill="#111">10</text>
<line x1="393.00" y1="209.50" x2="395.80" y2="209.50" stroke="#333" stroke-width="0.8"/>
<text x="392.60" y="210.80" font-size="3.9" stroke="#111" stroke-width="0.18" text-anchor="end" font-weight="bold" fill="#111">20</text>
<line x1="393.00" y1="193.50" x2="395.80" y2="193.50" stroke="#333" stroke-width="0.8"/>
<text x="392.60" y="195.35" font-size="3.9" stroke="#111" stroke-width="0.18" text-anchor="end" font-weight="bold" fill="#111">30</text>
<line x1="393.00" y1="178.50" x2="395.80" y2="178.50" stroke="#333" stroke-width="0.8"/>
<text x="392.60" y="179.90" font-size="3.9" stroke="#111" stroke-width="0.18" text-anchor="end" font-weight="bold" fill="#111">40</text>
<rect x="402.90" y="208.36" width="10.50" height="31.94" fill="#7e7e7e" stroke="#111" stroke-width="1.0"/>
<rect x="420.10" y="192.13" width="10.90" height="48.17" fill="#fb79ab" stroke="#d63b74" stroke-width="1.0"/>
<line x1="408.50" y1="206.93" x2="408.50" y2="208.63" stroke="#111" stroke-width="0.7"/>
<line x1="406.60" y1="206.50" x2="409.80" y2="206.50" stroke="#111" stroke-width="0.7"/>
<line x1="425.50" y1="189.31" x2="425.50" y2="193.95" stroke="#d63b74" stroke-width="0.7"/>
<line x1="424.00" y1="189.50" x2="427.20" y2="189.50" stroke="#d63b74" stroke-width="0.7"/>
<circle cx="407.00" cy="207.39" r="1.0" fill="#111"/>
<circle cx="409.50" cy="207.39" r="1.0" fill="#111"/>
<circle cx="424.50" cy="190.09" r="1.0" fill="#d81b60"/>
<circle cx="426.50" cy="192.41" r="1.0" fill="#d81b60"/>
<polyline points="408.20,204.50 408.20,181.80 425.60,181.80 425.60,187.50" fill="none" stroke="#333" stroke-width="0.6"/>
<text x="417.27" y="182.16" font-size="6.6" stroke="#000" stroke-width="0.2" text-anchor="middle" font-weight="bold" letter-spacing="1.15">***</text>
<text x="377.80" y="208.10" font-size="3.9" stroke="#000" stroke-width="0.2" text-anchor="middle" font-weight="bold" transform="rotate(-90 377.80 208.10)" textLength="31.4" lengthAdjust="spacingAndGlyphs">Percentage of</text>
<text x="382.60" y="207.80" font-size="3.9" stroke="#000" stroke-width="0.2" text-anchor="middle" font-weight="bold" transform="rotate(-90 382.60 207.80)" textLength="16.8" lengthAdjust="spacingAndGlyphs">CD3 cells</text>
<text x="455.20" y="169.40" font-size="11.8" stroke="#000" stroke-width="0.45" font-weight="bold">J</text>
<text x="467.40" y="171.60" font-size="4.9" stroke="#000" stroke-width="0.2" font-weight="bold" textLength="51" lengthAdjust="spacingAndGlyphs">Perforin<tspan font-size="2.6" dy="-1.6">+</tspan><tspan dy="1.6">  CD8</tspan><tspan font-size="2.6" dy="-1.6">+</tspan><tspan dy="1.6"> T cells</tspan></text>
<line x1="478.50" y1="187.20" x2="478.50" y2="241.60" stroke="#333" stroke-width="1.0"/>
<line x1="477.90" y1="241.50" x2="520.00" y2="241.50" stroke="#333" stroke-width="1.0"/>
<line x1="475.50" y1="241.50" x2="478.30" y2="241.50" stroke="#333" stroke-width="0.8"/>
<text x="475.10" y="242.60" font-size="3.9" stroke="#111" stroke-width="0.18" text-anchor="end" font-weight="bold" fill="#111">0</text>
<line x1="475.50" y1="230.50" x2="478.30" y2="230.50" stroke="#333" stroke-width="0.8"/>
<text x="475.10" y="231.80" font-size="3.9" stroke="#111" stroke-width="0.18" text-anchor="end" font-weight="bold" fill="#111">2</text>
<line x1="475.50" y1="219.50" x2="478.30" y2="219.50" stroke="#333" stroke-width="0.8"/>
<text x="475.10" y="221.00" font-size="3.9" stroke="#111" stroke-width="0.18" text-anchor="end" font-weight="bold" fill="#111">4</text>
<line x1="475.50" y1="208.50" x2="478.30" y2="208.50" stroke="#333" stroke-width="0.8"/>
<text x="475.10" y="210.20" font-size="3.9" stroke="#111" stroke-width="0.18" text-anchor="end" font-weight="bold" fill="#111">6</text>
<line x1="475.50" y1="198.50" x2="478.30" y2="198.50" stroke="#333" stroke-width="0.8"/>
<text x="475.10" y="199.40" font-size="3.9" stroke="#111" stroke-width="0.18" text-anchor="end" font-weight="bold" fill="#111">8</text>
<line x1="475.50" y1="187.50" x2="478.30" y2="187.50" stroke="#333" stroke-width="0.8"/>
<text x="475.10" y="188.60" font-size="3.9" stroke="#111" stroke-width="0.18" text-anchor="end" font-weight="bold" fill="#111">10</text>
<rect x="485.80" y="205.52" width="9.40" height="35.68" fill="#7e7e7e" stroke="#111" stroke-width="1.0"/>
<rect x="502.50" y="192.02" width="9.80" height="49.18" fill="#fb79ab" stroke="#d63b74" stroke-width="1.0"/>
<line x1="490.50" y1="203.40" x2="490.50" y2="206.64" stroke="#111" stroke-width="0.7"/>
<line x1="488.90" y1="203.50" x2="492.10" y2="203.50" stroke="#111" stroke-width="0.7"/>
<line x1="507.50" y1="188.82" x2="507.50" y2="193.68" stroke="#d63b74" stroke-width="0.7"/>
<line x1="505.80" y1="188.50" x2="509.00" y2="188.50" stroke="#d63b74" stroke-width="0.7"/>
<circle cx="489.50" cy="204.48" r="1.0" fill="#111"/>
<circle cx="491.50" cy="205.56" r="1.0" fill="#111"/>
<circle cx="506.50" cy="190.44" r="1.0" fill="#d81b60"/>
<circle cx="508.50" cy="192.60" r="1.0" fill="#d81b60"/>
<polyline points="490.50,202.00 490.50,182.80 507.40,182.80 507.40,187.50" fill="none" stroke="#333" stroke-width="0.6"/>
<text x="499.97" y="183.86" font-size="6.6" stroke="#000" stroke-width="0.2" text-anchor="middle" font-weight="bold" letter-spacing="1.15">***</text>
<text x="460.80" y="212.80" font-size="3.9" stroke="#000" stroke-width="0.2" text-anchor="middle" font-weight="bold" transform="rotate(-90 460.80 212.80)" textLength="33.2" lengthAdjust="spacingAndGlyphs">Percentage of</text>
<text x="465.30" y="212.80" font-size="3.9" stroke="#000" stroke-width="0.2" text-anchor="middle" font-weight="bold" transform="rotate(-90 465.30 212.80)" textLength="16.5" lengthAdjust="spacingAndGlyphs">CD3 cells</text>
<text x="356.00" y="269.40" font-size="5.0" stroke="#000" stroke-width="0.2" text-anchor="middle" font-weight="bold" textLength="11.2" lengthAdjust="spacingAndGlyphs">IL10</text>
<line x1="335.50" y1="279.52" x2="335.50" y2="334.80" stroke="#333" stroke-width="1.0"/>
<line x1="335.40" y1="334.50" x2="374.00" y2="334.50" stroke="#333" stroke-width="1.0"/>
<line x1="333.00" y1="334.50" x2="335.80" y2="334.50" stroke="#333" stroke-width="0.8"/>
<text x="332.60" y="335.70" font-size="3.6" stroke="#111" stroke-width="0.18" text-anchor="end" font-weight="bold" fill="#111">0</text>
<line x1="333.00" y1="320.50" x2="335.80" y2="320.50" stroke="#333" stroke-width="0.8"/>
<text x="332.60" y="321.98" font-size="3.6" stroke="#111" stroke-width="0.18" text-anchor="end" font-weight="bold" fill="#111">100</text>
<line x1="333.00" y1="306.50" x2="335.80" y2="306.50" stroke="#333" stroke-width="0.8"/>
<text x="332.60" y="308.26" font-size="3.6" stroke="#111" stroke-width="0.18" text-anchor="end" font-weight="bold" fill="#111">200</text>
<line x1="333.00" y1="293.50" x2="335.80" y2="293.50" stroke="#333" stroke-width="0.8"/>
<text x="332.60" y="294.54" font-size="3.6" stroke="#111" stroke-width="0.18" text-anchor="end" font-weight="bold" fill="#111">300</text>
<line x1="333.00" y1="279.50" x2="335.80" y2="279.50" stroke="#333" stroke-width="0.8"/>
<text x="332.60" y="280.82" font-size="3.6" stroke="#111" stroke-width="0.18" text-anchor="end" font-weight="bold" fill="#111">400</text>
<rect x="342.40" y="296.48" width="11.00" height="37.92" fill="#7e7e7e" stroke="#111" stroke-width="1.0"/>
<rect x="360.10" y="309.38" width="10.80" height="25.02" fill="#fb79ab" stroke="#d63b74" stroke-width="1.0"/>
<line x1="347.50" y1="287.34" x2="347.50" y2="302.84" stroke="#111" stroke-width="0.7"/>
<line x1="346.30" y1="287.50" x2="349.50" y2="287.50" stroke="#111" stroke-width="0.7"/>
<line x1="365.50" y1="305.59" x2="365.50" y2="311.76" stroke="#d63b74" stroke-width="0.7"/>
<line x1="363.90" y1="305.50" x2="367.10" y2="305.50" stroke="#d63b74" stroke-width="0.7"/>
<circle cx="347.90" cy="287.48" r="1.0" fill="#111"/>
<circle cx="346.00" cy="297.36" r="1.0" fill="#111"/>
<circle cx="349.50" cy="299.00" r="1.0" fill="#111"/>
<circle cx="365.50" cy="306.27" r="1.0" fill="#d81b60"/>
<circle cx="364.00" cy="309.70" r="1.0" fill="#d81b60"/>
<circle cx="367.00" cy="310.39" r="1.0" fill="#d81b60"/>
<polyline points="347.90,286.50 347.90,280.20 365.50,280.20 365.50,303.50" fill="none" stroke="#333" stroke-width="0.6"/>
<text x="357.38" y="281.96" font-size="6.6" stroke="#000" stroke-width="0.2" text-anchor="middle" font-weight="bold" letter-spacing="1.15">*</text>
<text x="320.40" y="304.80" font-size="3.5" stroke="#000" stroke-width="0.12" text-anchor="middle" transform="rotate(-90 320.40 304.80)" textLength="48.5" lengthAdjust="spacingAndGlyphs">Concentration pg/mL</text>
<text x="423.70" y="269.40" font-size="5.0" stroke="#000" stroke-width="0.2" text-anchor="middle" font-weight="bold" textLength="14.5" lengthAdjust="spacingAndGlyphs">CCL2</text>
<line x1="403.50" y1="277.80" x2="403.50" y2="334.80" stroke="#333" stroke-width="1.0"/>
<line x1="403.10" y1="334.50" x2="444.00" y2="334.50" stroke="#333" stroke-width="1.0"/>
<line x1="400.70" y1="334.50" x2="403.50" y2="334.50" stroke="#333" stroke-width="0.8"/>
<text x="400.30" y="335.70" font-size="3.6" stroke="#111" stroke-width="0.18" text-anchor="end" font-weight="bold" fill="#111">0</text>
<line x1="400.70" y1="320.50" x2="403.50" y2="320.50" stroke="#333" stroke-width="0.8"/>
<text x="400.30" y="321.55" font-size="3.6" stroke="#111" stroke-width="0.18" text-anchor="end" font-weight="bold" fill="#111">100</text>
<line x1="400.70" y1="306.50" x2="403.50" y2="306.50" stroke="#333" stroke-width="0.8"/>
<text x="400.30" y="307.40" font-size="3.6" stroke="#111" stroke-width="0.18" text-anchor="end" font-weight="bold" fill="#111">200</text>
<line x1="400.70" y1="291.50" x2="403.50" y2="291.50" stroke="#333" stroke-width="0.8"/>
<text x="400.30" y="293.25" font-size="3.6" stroke="#111" stroke-width="0.18" text-anchor="end" font-weight="bold" fill="#111">300</text>
<line x1="400.70" y1="277.50" x2="403.50" y2="277.50" stroke="#333" stroke-width="0.8"/>
<text x="400.30" y="279.10" font-size="3.6" stroke="#111" stroke-width="0.18" text-anchor="end" font-weight="bold" fill="#111">400</text>
<rect x="410.50" y="293.87" width="11.30" height="40.53" fill="#7e7e7e" stroke="#111" stroke-width="1.0"/>
<rect x="427.00" y="312.68" width="9.90" height="21.72" fill="#fb79ab" stroke="#d63b74" stroke-width="1.0"/>
<line x1="415.50" y1="287.28" x2="415.50" y2="299.02" stroke="#111" stroke-width="0.7"/>
<line x1="414.30" y1="287.50" x2="417.50" y2="287.50" stroke="#111" stroke-width="0.7"/>
<line x1="432.50" y1="310.77" x2="432.50" y2="313.46" stroke="#d63b74" stroke-width="0.7"/>
<line x1="430.40" y1="310.50" x2="433.60" y2="310.50" stroke="#d63b74" stroke-width="0.7"/>
<circle cx="415.90" cy="287.70" r="1.0" fill="#111"/>
<circle cx="414.00" cy="293.37" r="1.0" fill="#111"/>
<circle cx="418.00" cy="296.19" r="1.0" fill="#111"/>
<circle cx="431.00" cy="311.76" r="1.0" fill="#d81b60"/>
<circle cx="433.00" cy="312.04" r="1.0" fill="#d81b60"/>
<polyline points="415.90,286.50 415.90,281.40 432.00,281.40 432.00,307.50" fill="none" stroke="#333" stroke-width="0.6"/>
<text x="424.97" y="282.76" font-size="6.6" stroke="#000" stroke-width="0.2" text-anchor="middle" font-weight="bold" letter-spacing="1.15">**</text>
<text x="389.10" y="304.80" font-size="3.5" stroke="#000" stroke-width="0.12" text-anchor="middle" transform="rotate(-90 389.10 304.80)" textLength="48.5" lengthAdjust="spacingAndGlyphs">Concentration pg/mL</text>
<text x="492.90" y="270.20" font-size="5.0" stroke="#000" stroke-width="0.2" text-anchor="middle" font-weight="bold" textLength="19.4" lengthAdjust="spacingAndGlyphs">CXCL5</text>
<line x1="471.50" y1="279.61" x2="471.50" y2="333.50" stroke="#333" stroke-width="1.0"/>
<line x1="471.30" y1="333.50" x2="514.00" y2="333.50" stroke="#333" stroke-width="1.0"/>
<line x1="468.90" y1="333.50" x2="471.70" y2="333.50" stroke="#333" stroke-width="0.8"/>
<text x="468.50" y="334.40" font-size="3.6" stroke="#111" stroke-width="0.18" text-anchor="end" font-weight="bold" fill="#111">0</text>
<line x1="468.90" y1="315.50" x2="471.70" y2="315.50" stroke="#333" stroke-width="0.8"/>
<text x="468.50" y="316.57" font-size="3.6" stroke="#111" stroke-width="0.18" text-anchor="end" font-weight="bold" fill="#111">1,000</text>
<line x1="468.90" y1="297.50" x2="471.70" y2="297.50" stroke="#333" stroke-width="0.8"/>
<text x="468.50" y="298.74" font-size="3.6" stroke="#111" stroke-width="0.18" text-anchor="end" font-weight="bold" fill="#111">2,000</text>
<line x1="468.90" y1="279.50" x2="471.70" y2="279.50" stroke="#333" stroke-width="0.8"/>
<text x="468.50" y="280.91" font-size="3.6" stroke="#111" stroke-width="0.18" text-anchor="end" font-weight="bold" fill="#111">3,000</text>
<rect x="478.70" y="291.52" width="11.30" height="41.58" fill="#7e7e7e" stroke="#111" stroke-width="1.0"/>
<rect x="497.00" y="305.25" width="9.90" height="27.85" fill="#fb79ab" stroke="#d63b74" stroke-width="1.0"/>
<line x1="484.50" y1="287.63" x2="484.50" y2="293.87" stroke="#111" stroke-width="0.7"/>
<line x1="482.70" y1="287.50" x2="485.90" y2="287.50" stroke="#111" stroke-width="0.7"/>
<line x1="502.50" y1="303.86" x2="502.50" y2="305.29" stroke="#d63b74" stroke-width="0.7"/>
<line x1="500.40" y1="303.50" x2="503.60" y2="303.50" stroke="#d63b74" stroke-width="0.7"/>
<circle cx="484.30" cy="288.53" r="1.0" fill="#111"/>
<circle cx="482.50" cy="292.09" r="1.0" fill="#111"/>
<circle cx="486.00" cy="291.20" r="1.0" fill="#111"/>
<circle cx="501.00" cy="304.39" r="1.0" fill="#d81b60"/>
<circle cx="503.00" cy="304.57" r="1.0" fill="#d81b60"/>
<polyline points="484.30,286.50 484.30,280.90 502.00,280.90 502.00,301.00" fill="none" stroke="#333" stroke-width="0.6"/>
<text x="494.97" y="282.26" font-size="6.6" stroke="#000" stroke-width="0.2" text-anchor="middle" font-weight="bold" letter-spacing="1.15">**</text>
<text x="456.40" y="304.80" font-size="3.5" stroke="#000" stroke-width="0.12" text-anchor="middle" transform="rotate(-90 456.40 304.80)" textLength="48.5" lengthAdjust="spacingAndGlyphs">Concentration pg/mL</text>
<text x="225.40" y="228.40" font-size="11.8" stroke="#000" stroke-width="0.45" font-weight="bold">K</text>
<text x="237.90" y="258.00" font-size="5.0" fill="#222" transform="rotate(-90 237.90 258.00)" textLength="26" lengthAdjust="spacingAndGlyphs">SCR1 1:1</text>
<text x="244.90" y="258.00" font-size="5.0" fill="#222" transform="rotate(-90 244.90 258.00)" textLength="26" lengthAdjust="spacingAndGlyphs">SCR2 1:1</text>
<text x="251.90" y="258.00" font-size="5.0" fill="#222" transform="rotate(-90 251.90 258.00)" textLength="26" lengthAdjust="spacingAndGlyphs">SCR3 1:1</text>
<text x="258.90" y="258.00" font-size="5.0" fill="#222" transform="rotate(-90 258.90 258.00)" textLength="26" lengthAdjust="spacingAndGlyphs">MAL1 1:1</text>
<text x="265.90" y="258.00" font-size="5.0" fill="#222" transform="rotate(-90 265.90 258.00)" textLength="26" lengthAdjust="spacingAndGlyphs">MAL2 1:1</text>
<text x="272.90" y="258.00" font-size="5.0" fill="#222" transform="rotate(-90 272.90 258.00)" textLength="26" lengthAdjust="spacingAndGlyphs">MAL3 1:1</text>
<text x="230.60" y="257.50" font-size="5.0" fill="#222" transform="rotate(-90 230.60 257.50)">id</text>
<text x="279.00" y="258.50" font-size="5.0" fill="#222">id</text>
<rect x="233.60" y="262.50" width="6.40" height="6.25" fill="#f20000"/>
<rect x="240.60" y="262.50" width="6.40" height="6.25" fill="#f26060"/>
<rect x="247.60" y="262.50" width="6.40" height="6.25" fill="#f6b4b4"/>
<rect x="254.60" y="262.50" width="6.40" height="6.25" fill="#2626e0"/>
<rect x="261.60" y="262.50" width="6.40" height="6.25" fill="#0000e2"/>
<rect x="268.60" y="262.50" width="6.40" height="6.25" fill="#1414e0"/>
<text x="279.00" y="267.50" font-size="5.6" fill="#333">IFNγ</text>
<rect x="233.60" y="269.35" width="6.40" height="6.25" fill="#8484e4"/>
<rect x="240.60" y="269.35" width="6.40" height="6.25" fill="#f8d0d0"/>
<rect x="247.60" y="269.35" width="6.40" height="6.25" fill="#ffffff"/>
<rect x="254.60" y="269.35" width="6.40" height="6.25" fill="#0000f0"/>
<rect x="261.60" y="269.35" width="6.40" height="6.25" fill="#f00000"/>
<rect x="268.60" y="269.35" width="6.40" height="6.25" fill="#9898e6"/>
<text x="279.00" y="274.35" font-size="5.6" fill="#333">IL2</text>
<rect x="233.60" y="276.20" width="6.40" height="6.25" fill="#f20000"/>
<rect x="240.60" y="276.20" width="6.40" height="6.25" fill="#ffffff"/>
<rect x="247.60" y="276.20" width="6.40" height="6.25" fill="#b4c4f0"/>
<rect x="254.60" y="276.20" width="6.40" height="6.25" fill="#f02020"/>
<rect x="261.60" y="276.20" width="6.40" height="6.25" fill="#0000e2"/>
<rect x="268.60" y="276.20" width="6.40" height="6.25" fill="#ffffff"/>
<text x="279.00" y="281.20" font-size="5.6" fill="#333">IL1α</text>
<rect x="233.60" y="283.05" width="6.40" height="6.25" fill="#f27070"/>
<rect x="240.60" y="283.05" width="6.40" height="6.25" fill="#f27070"/>
<rect x="247.60" y="283.05" width="6.40" height="6.25" fill="#f20000"/>
<rect x="254.60" y="283.05" width="6.40" height="6.25" fill="#0000e6"/>
<rect x="261.60" y="283.05" width="6.40" height="6.25" fill="#0000e6"/>
<rect x="268.60" y="283.05" width="6.40" height="6.25" fill="#fffaf4"/>
<text x="279.00" y="288.05" font-size="5.6" fill="#333">IL17A</text>
<rect x="233.60" y="289.90" width="6.40" height="6.25" fill="#f20000"/>
<rect x="240.60" y="289.90" width="6.40" height="6.25" fill="#e4ecf8"/>
<rect x="247.60" y="289.90" width="6.40" height="6.25" fill="#f8c4c4"/>
<rect x="254.60" y="289.90" width="6.40" height="6.25" fill="#0000e6"/>
<rect x="261.60" y="289.90" width="6.40" height="6.25" fill="#a4a4f0"/>
<rect x="268.60" y="289.90" width="6.40" height="6.25" fill="#6c6ce4"/>
<text x="279.00" y="294.90" font-size="5.6" fill="#333">TNFα</text>
<rect x="233.60" y="296.75" width="6.40" height="6.25" fill="#f20000"/>
<rect x="240.60" y="296.75" width="6.40" height="6.25" fill="#f25050"/>
<rect x="247.60" y="296.75" width="6.40" height="6.25" fill="#f8c4c4"/>
<rect x="254.60" y="296.75" width="6.40" height="6.25" fill="#0000e6"/>
<rect x="261.60" y="296.75" width="6.40" height="6.25" fill="#8484f0"/>
<rect x="268.60" y="296.75" width="6.40" height="6.25" fill="#6464e4"/>
<text x="279.00" y="301.75" font-size="5.6" fill="#333">GM-CSF</text>
<rect x="233.60" y="303.60" width="6.40" height="6.25" fill="#f20000"/>
<rect x="240.60" y="303.60" width="6.40" height="6.25" fill="#f8d4dc"/>
<rect x="247.60" y="303.60" width="6.40" height="6.25" fill="#6464e4"/>
<rect x="254.60" y="303.60" width="6.40" height="6.25" fill="#a4a4f0"/>
<rect x="261.60" y="303.60" width="6.40" height="6.25" fill="#0000e2"/>
<rect x="268.60" y="303.60" width="6.40" height="6.25" fill="#d4dcf8"/>
<text x="279.00" y="308.60" font-size="5.6" fill="#333">IL6</text>
<rect x="233.60" y="310.45" width="6.40" height="6.25" fill="#f20000"/>
<rect x="240.60" y="310.45" width="6.40" height="6.25" fill="#ffffff"/>
<rect x="247.60" y="310.45" width="6.40" height="6.25" fill="#e4ecf8"/>
<rect x="254.60" y="310.45" width="6.40" height="6.25" fill="#2020e4"/>
<rect x="261.60" y="310.45" width="6.40" height="6.25" fill="#6464f0"/>
<rect x="268.60" y="310.45" width="6.40" height="6.25" fill="#0000e2"/>
<text x="279.00" y="315.45" font-size="5.6" fill="#333">IL10</text>
<rect x="233.60" y="317.30" width="6.40" height="6.25" fill="#f26060"/>
<rect x="240.60" y="317.30" width="6.40" height="6.25" fill="#f20000"/>
<rect x="247.60" y="317.30" width="6.40" height="6.25" fill="#f8b4b4"/>
<rect x="254.60" y="317.30" width="6.40" height="6.25" fill="#2020e4"/>
<rect x="261.60" y="317.30" width="6.40" height="6.25" fill="#3030e4"/>
<rect x="268.60" y="317.30" width="6.40" height="6.25" fill="#2020e4"/>
<text x="279.00" y="322.30" font-size="5.6" fill="#333">CXCL5</text>
<rect x="233.60" y="324.15" width="6.40" height="6.25" fill="#f20000"/>
<rect x="240.60" y="324.15" width="6.40" height="6.25" fill="#f28484"/>
<rect x="247.60" y="324.15" width="6.40" height="6.25" fill="#f8c8c8"/>
<rect x="254.60" y="324.15" width="6.40" height="6.25" fill="#1010e4"/>
<rect x="261.60" y="324.15" width="6.40" height="6.25" fill="#1010e4"/>
<rect x="268.60" y="324.15" width="6.40" height="6.25" fill="#1010e4"/>
<text x="279.00" y="329.15" font-size="5.6" fill="#333">CCL2</text>
<rect x="233.60" y="331.00" width="6.40" height="6.25" fill="#f20000"/>
<rect x="240.60" y="331.00" width="6.40" height="6.25" fill="#f8c8c8"/>
<rect x="247.60" y="331.00" width="6.40" height="6.25" fill="#f8b0b0"/>
<rect x="254.60" y="331.00" width="6.40" height="6.25" fill="#1010e4"/>
<rect x="261.60" y="331.00" width="6.40" height="6.25" fill="#1010e4"/>
<rect x="268.60" y="331.00" width="6.40" height="6.25" fill="#1010e4"/>
<text x="279.00" y="336.00" font-size="5.6" fill="#333">CXCL2</text>
<defs><linearGradient id="cb" x1="0" x2="1" y1="0" y2="0"><stop offset="0" stop-color="#0000d0"/><stop offset="0.5" stop-color="#ffffff"/><stop offset="1" stop-color="#d00000"/></linearGradient></defs>
<rect x="237.70" y="344.20" width="52.80" height="1.60" fill="url(#cb)"/>
<text x="217.80" y="350.60" font-size="4.4" stroke="#222" stroke-width="0.2" font-weight="bold" fill="#222" textLength="33.7" lengthAdjust="spacingAndGlyphs">Row minimum</text>
<text x="272.30" y="350.60" font-size="4.4" stroke="#222" stroke-width="0.2" font-weight="bold" fill="#222" textLength="34.5" lengthAdjust="spacingAndGlyphs">Row maximum</text>
</svg>
</body></html>
